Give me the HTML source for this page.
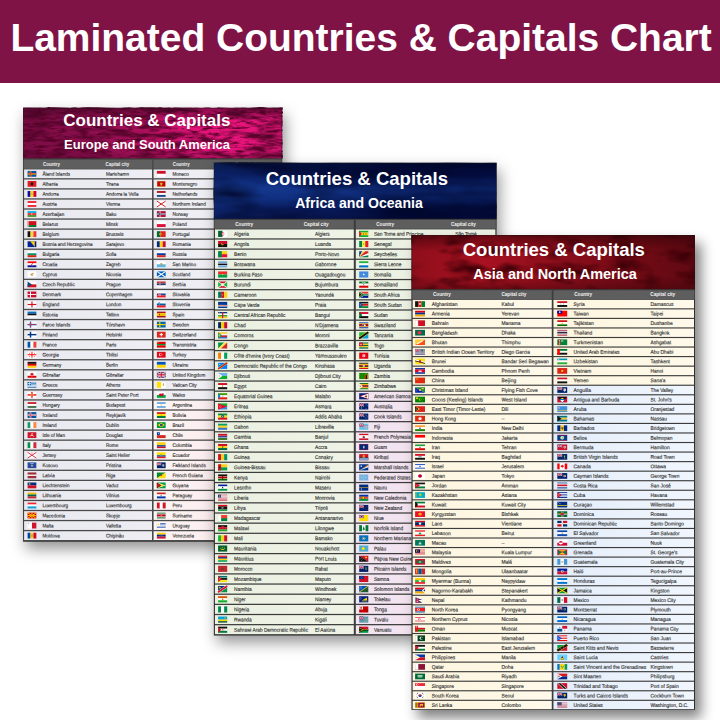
<!DOCTYPE html>
<html lang="en"><head><meta charset="utf-8"><title>Laminated Countries &amp; Capitals Chart</title>
<style>
html,body{margin:0;padding:0;background:#fff;}
body{width:720px;height:720px;position:relative;overflow:hidden;font-family:"Liberation Sans",sans-serif;}
#banner{position:absolute;left:0;top:0;width:720px;height:83px;background:#7f1346;}
#banner h1{position:absolute;margin:0;left:0;top:0;width:720px;height:83px;}
#banner svg{display:block}
.chart{position:absolute;overflow:visible;}
.chart svg{display:block;position:absolute;left:0;top:0;overflow:visible}
.ttl{font-family:"Liberation Sans",sans-serif;font-weight:bold;fill:#fff}
.hd{font-family:"Liberation Sans",sans-serif;font-weight:bold;fill:#f4f4f4}
.t{font-family:"Liberation Sans",sans-serif;fill:#303030;stroke:#303030;stroke-width:0.14}
</style></head><body>
<div id="banner"><h1><svg width="720" height="83" viewBox="0 0 720 83"><text class="ttl" x="10.4" y="50.7" font-size="39.4" textLength="701.3" lengthAdjust="spacingAndGlyphs">Laminated Countries &amp; Capitals Chart</text></svg></h1></div>
<div class="chart" id="c1" style="left:23px;top:107px;width:260px;height:435px">
<svg width="260" height="435" viewBox="0 0 260 435">
<defs>
<linearGradient id="g1" x1="0" y1="0" x2="1" y2="0"><stop offset="0" stop-color="#7a0c44"/><stop offset="0.3" stop-color="#900f50"/><stop offset="0.5" stop-color="#b81162"/><stop offset="0.68" stop-color="#e4147a"/><stop offset="0.86" stop-color="#e6147a"/><stop offset="1" stop-color="#cc116c"/></linearGradient><linearGradient id="g1v" x1="0" y1="0" x2="0" y2="1"><stop offset="0" stop-color="#3a0420" stop-opacity="0.55"/><stop offset="0.25" stop-color="#3a0420" stop-opacity="0"/><stop offset="0.8" stop-color="#3a0420" stop-opacity="0"/><stop offset="1" stop-color="#3a0420" stop-opacity="0.3"/></linearGradient><filter id="t1" x="0" y="0" width="100%" height="100%" color-interpolation-filters="sRGB"><feTurbulence type="fractalNoise" baseFrequency="0.035 0.16" numOctaves="3" seed="3" result="n"/><feColorMatrix type="matrix" values="0 0 0 0 0.33  0 0 0 0 0.02  0 0 0 0 0.17  0 0 0 3.0 -1.3"/></filter><filter id="t1b" x="0" y="0" width="100%" height="100%" color-interpolation-filters="sRGB"><feTurbulence type="fractalNoise" baseFrequency="0.09 0.32" numOctaves="3" seed="5" result="n"/><feColorMatrix type="matrix" values="0 0 0 0 0.33  0 0 0 0 0.0  0 0 0 0 0.15  0 0 0 3.0 -1.42"/></filter>
<linearGradient id="c1f0" x1="0" y1="0" x2="1" y2="0"><stop offset="0" stop-color="#e9e9f0"/><stop offset="1" stop-color="#ededf3"/></linearGradient>
<linearGradient id="c1f1" x1="0" y1="0" x2="1" y2="0"><stop offset="0" stop-color="#ececf2"/><stop offset="1" stop-color="#f2f2f6"/></linearGradient>
<linearGradient id="c1f2" x1="0" y1="0" x2="1" y2="0"><stop offset="0" stop-color="#fdf6f6"/><stop offset="1" stop-color="#f9e1e1"/></linearGradient>
<filter id="c1sh" filterUnits="userSpaceOnUse" x="-50" y="-50" width="359" height="533.7"><feGaussianBlur stdDeviation="7.5"/></filter>
</defs>
<g transform="translate(0.1,0.9)">
<rect x="3" y="7" width="259" height="433.7" fill="#000" fill-opacity="0.44" filter="url(#c1sh)"/>
<rect x="0" y="0" width="259" height="433.7" fill="#4a4a4a"/>
<g><rect width="259" height="50.8" fill="url(#g1)"/><rect width="259" height="50.8" filter="url(#t1)"/><rect width="259" height="50.8" filter="url(#t1b)"/><rect width="259" height="50.8" fill="url(#g1v)"/></g>
<text class="ttl" x="40.2" y="18.6" font-size="16.9" textLength="167.1" lengthAdjust="spacingAndGlyphs">Countries &amp; Capitals</text>
<text class="ttl" x="41" y="41.5" font-size="12.9" textLength="165.9" lengthAdjust="spacingAndGlyphs">Europe and South America</text>
<rect x="0" y="50.8" width="259" height="10.1" fill="#5f5f5f"/>
<rect x="0" y="50.6" width="259" height="0.9" fill="#333"/>
<rect x="128.9" y="51.4" width="1.6" height="10.1" fill="#4a4a4a"/>
<text class="hd" transform="translate(20,57.61) scale(0.9,1)" font-size="4.9">Country</text>
<text class="hd" transform="translate(82.5,57.61) scale(0.9,1)" font-size="4.9">Capital city</text>
<text class="hd" transform="translate(149.6,57.61) scale(0.9,1)" font-size="4.9">Country</text>
<text class="hd" transform="translate(212,57.61) scale(0.9,1)" font-size="4.9">Capital city</text>
<rect x="1" y="61.55" width="127.9" height="8.75" fill="url(#c1f0)"/>
<g transform="translate(4.5,63.03) scale(0.97,0.97)"><rect x="0" y="0" width="9" height="6" fill="#0053a5"/><rect x="2.25" y="0" width="1.5" height="6" fill="#ffce00"/><rect x="0" y="2.25" width="9" height="1.5" fill="#ffce00"/><rect x="2.65" y="0" width="0.7" height="6" fill="#d21034"/><rect x="0" y="2.65" width="9" height="0.7" fill="#d21034"/></g>
<text class="t" transform="translate(19.3,67.77) rotate(0.1) scale(0.89,1)" font-size="5.2">Åland Islands</text>
<text class="t" transform="translate(82.8,67.77) rotate(0.1) scale(0.89,1)" font-size="5.2">Mariehamn</text>
<rect x="1" y="71.6" width="127.9" height="8.75" fill="url(#c1f0)"/>
<g transform="translate(4.5,73.08) scale(0.97,0.97)"><rect x="0" y="0" width="9" height="6" fill="#e41e20"/><polygon points="4.5,1.2 6.4,2.2 5.4,3 6,4.2 4.5,5 3,4.2 3.6,3 2.6,2.2" fill="#1a1a1a"/></g>
<text class="t" transform="translate(19.3,77.82) rotate(0.1) scale(0.89,1)" font-size="5.2">Albania</text>
<text class="t" transform="translate(82.8,77.82) rotate(0.1) scale(0.89,1)" font-size="5.2">Tirana</text>
<rect x="1" y="81.65" width="127.9" height="8.75" fill="url(#c1f0)"/>
<g transform="translate(4.5,83.12) scale(0.97,0.97)"><rect x="0" y="0" width="3.02" height="6" fill="#10069f"/><rect x="3" y="0" width="3.02" height="6" fill="#fedd00"/><rect x="6" y="0" width="3.02" height="6" fill="#d50032"/><rect x="3.9" y="2.2" width="1.2" height="1.6" fill="#c7a256"/></g>
<text class="t" transform="translate(19.3,87.87) rotate(0.1) scale(0.89,1)" font-size="5.2">Andorra</text>
<text class="t" transform="translate(82.8,87.87) rotate(0.1) scale(0.89,1)" font-size="5.2">Andorra la Vella</text>
<rect x="1" y="91.7" width="127.9" height="8.75" fill="url(#c1f0)"/>
<g transform="translate(4.5,93.18) scale(0.97,0.97)"><rect x="0" y="0" width="9" height="2.02" fill="#ed2939"/><rect x="0" y="2" width="9" height="2.02" fill="#fff"/><rect x="0" y="4" width="9" height="2.02" fill="#ed2939"/></g>
<text class="t" transform="translate(19.3,97.92) rotate(0.1) scale(0.89,1)" font-size="5.2">Austria</text>
<text class="t" transform="translate(82.8,97.92) rotate(0.1) scale(0.89,1)" font-size="5.2">Vienna</text>
<rect x="1" y="101.75" width="127.9" height="8.75" fill="url(#c1f0)"/>
<g transform="translate(4.5,103.23) scale(0.97,0.97)"><rect x="0" y="0" width="9" height="2.02" fill="#00b5e2"/><rect x="0" y="2" width="9" height="2.02" fill="#ef3340"/><rect x="0" y="4" width="9" height="2.02" fill="#509e2f"/><circle cx="4.3" cy="3" r="0.8" fill="#fff"/><circle cx="4.64" cy="3" r="0.64" fill="#ef3340"/></g>
<text class="t" transform="translate(19.3,107.97) rotate(0.1) scale(0.89,1)" font-size="5.2">Azerbaijan</text>
<text class="t" transform="translate(82.8,107.97) rotate(0.1) scale(0.89,1)" font-size="5.2">Baku</text>
<rect x="1" y="111.8" width="127.9" height="8.75" fill="url(#c1f0)"/>
<g transform="translate(4.5,113.28) scale(0.97,0.97)"><rect x="0" y="0" width="9" height="4.02" fill="#cf101a"/><rect x="0" y="4" width="9" height="2.02" fill="#007c30"/><rect x="0" y="0" width="1.1" height="6" fill="#fff"/><rect x="0.3" y="0" width="0.4" height="6" fill="#cf101a"/></g>
<text class="t" transform="translate(19.3,118.02) rotate(0.1) scale(0.89,1)" font-size="5.2">Belarus</text>
<text class="t" transform="translate(82.8,118.02) rotate(0.1) scale(0.89,1)" font-size="5.2">Minsk</text>
<rect x="1" y="121.85" width="127.9" height="8.75" fill="url(#c1f0)"/>
<g transform="translate(4.5,123.33) scale(0.97,0.97)"><rect x="0" y="0" width="3.02" height="6" fill="#111"/><rect x="3" y="0" width="3.02" height="6" fill="#fdda24"/><rect x="6" y="0" width="3.02" height="6" fill="#ef3340"/></g>
<text class="t" transform="translate(19.3,128.07) rotate(0.1) scale(0.89,1)" font-size="5.2">Belgium</text>
<text class="t" transform="translate(82.8,128.07) rotate(0.1) scale(0.89,1)" font-size="5.2">Brussels</text>
<rect x="1" y="131.9" width="127.9" height="8.75" fill="url(#c1f0)"/>
<g transform="translate(4.5,133.38) scale(0.97,0.97)"><rect x="0" y="0" width="9" height="6" fill="#002395"/><polygon points="2.6,0 7.4,0 7.4,6" fill="#fecb00"/></g>
<text class="t" transform="translate(19.3,138.12) rotate(0.1) scale(0.89,1)" font-size="5.2">Bosnia and Herzegovina</text>
<text class="t" transform="translate(82.8,138.12) rotate(0.1) scale(0.89,1)" font-size="5.2">Sarajevo</text>
<rect x="1" y="141.95" width="127.9" height="8.75" fill="url(#c1f0)"/>
<g transform="translate(4.5,143.43) scale(0.97,0.97)"><rect x="0" y="0" width="9" height="2.02" fill="#fff"/><rect x="0" y="2" width="9" height="2.02" fill="#00966e"/><rect x="0" y="4" width="9" height="2.02" fill="#d62612"/></g>
<text class="t" transform="translate(19.3,148.17) rotate(0.1) scale(0.89,1)" font-size="5.2">Bulgaria</text>
<text class="t" transform="translate(82.8,148.17) rotate(0.1) scale(0.89,1)" font-size="5.2">Sofia</text>
<rect x="1" y="152" width="127.9" height="8.75" fill="url(#c1f0)"/>
<g transform="translate(4.5,153.48) scale(0.97,0.97)"><rect x="0" y="0" width="9" height="2.02" fill="#ff0000"/><rect x="0" y="2" width="9" height="2.02" fill="#fff"/><rect x="0" y="4" width="9" height="2.02" fill="#171796"/><rect x="3.7" y="1.6" width="1.6" height="2.4" fill="#e23"/><rect x="3.7" y="1.6" width="0.8" height="1.2" fill="#fff"/><rect x="4.5" y="2.8" width="0.8" height="1.2" fill="#fff"/></g>
<text class="t" transform="translate(19.3,158.22) rotate(0.1) scale(0.89,1)" font-size="5.2">Croatia</text>
<text class="t" transform="translate(82.8,158.22) rotate(0.1) scale(0.89,1)" font-size="5.2">Zagreb</text>
<rect x="1" y="162.05" width="127.9" height="8.75" fill="url(#c1f0)"/>
<g transform="translate(4.5,163.53) scale(0.97,0.97)"><rect x="0" y="0" width="9" height="6" fill="#fff"/><polygon points="2.6,2.6 4.6,2.2 6.6,1.4 5.6,2.8 4.6,3.4 3,3.3" fill="#d57800"/><rect x="3.4" y="4.1" width="2.2" height="0.4" fill="#4e5b31"/></g>
<text class="t" transform="translate(19.3,168.27) rotate(0.1) scale(0.89,1)" font-size="5.2">Cyprus</text>
<text class="t" transform="translate(82.8,168.27) rotate(0.1) scale(0.89,1)" font-size="5.2">Nicosia</text>
<rect x="1" y="172.1" width="127.9" height="8.75" fill="url(#c1f0)"/>
<g transform="translate(4.5,173.58) scale(0.97,0.97)"><rect x="0" y="0" width="9" height="3.02" fill="#fff"/><rect x="0" y="3" width="9" height="3.02" fill="#d7141a"/><polygon points="0,0 4.5,3 0,6" fill="#11457e"/></g>
<text class="t" transform="translate(19.3,178.32) rotate(0.1) scale(0.89,1)" font-size="5.2">Czech Republic</text>
<text class="t" transform="translate(82.8,178.32) rotate(0.1) scale(0.89,1)" font-size="5.2">Prague</text>
<rect x="1" y="182.15" width="127.9" height="8.75" fill="url(#c1f0)"/>
<g transform="translate(4.5,183.62) scale(0.97,0.97)"><rect x="0" y="0" width="9" height="6" fill="#c8102e"/><rect x="2.5" y="0" width="1" height="6" fill="#fff"/><rect x="0" y="2.5" width="9" height="1" fill="#fff"/></g>
<text class="t" transform="translate(19.3,188.37) rotate(0.1) scale(0.89,1)" font-size="5.2">Denmark</text>
<text class="t" transform="translate(82.8,188.37) rotate(0.1) scale(0.89,1)" font-size="5.2">Copenhagen</text>
<rect x="1" y="192.2" width="127.9" height="8.75" fill="url(#c1f0)"/>
<g transform="translate(4.5,193.68) scale(0.97,0.97)"><rect x="0" y="0" width="9" height="6" fill="#fff"/><rect x="3.9" y="0" width="1.2" height="6" fill="#ce1124"/><rect x="0" y="2.4" width="9" height="1.2" fill="#ce1124"/></g>
<text class="t" transform="translate(19.3,198.42) rotate(0.1) scale(0.89,1)" font-size="5.2">England</text>
<text class="t" transform="translate(82.8,198.42) rotate(0.1) scale(0.89,1)" font-size="5.2">London</text>
<rect x="1" y="202.25" width="127.9" height="8.75" fill="url(#c1f0)"/>
<g transform="translate(4.5,203.73) scale(0.97,0.97)"><rect x="0" y="0" width="9" height="2.02" fill="#0072ce"/><rect x="0" y="2" width="9" height="2.02" fill="#111"/><rect x="0" y="4" width="9" height="2.02" fill="#fff"/></g>
<text class="t" transform="translate(19.3,208.47) rotate(0.1) scale(0.89,1)" font-size="5.2">Estonia</text>
<text class="t" transform="translate(82.8,208.47) rotate(0.1) scale(0.89,1)" font-size="5.2">Tallinn</text>
<rect x="1" y="212.3" width="127.9" height="8.75" fill="url(#c1f0)"/>
<g transform="translate(4.5,213.78) scale(0.97,0.97)"><rect x="0" y="0" width="9" height="6" fill="#fff"/><rect x="2.25" y="0" width="1.5" height="6" fill="#0065bd"/><rect x="0" y="2.25" width="9" height="1.5" fill="#0065bd"/><rect x="2.65" y="0" width="0.7" height="6" fill="#ed2939"/><rect x="0" y="2.65" width="9" height="0.7" fill="#ed2939"/></g>
<text class="t" transform="translate(19.3,218.52) rotate(0.1) scale(0.89,1)" font-size="5.2">Faroe Islands</text>
<text class="t" transform="translate(82.8,218.52) rotate(0.1) scale(0.89,1)" font-size="5.2">Tórshavn</text>
<rect x="1" y="222.35" width="127.9" height="8.75" fill="url(#c1f0)"/>
<g transform="translate(4.5,223.83) scale(0.97,0.97)"><rect x="0" y="0" width="9" height="6" fill="#fff"/><rect x="2.25" y="0" width="1.5" height="6" fill="#003580"/><rect x="0" y="2.25" width="9" height="1.5" fill="#003580"/></g>
<text class="t" transform="translate(19.3,228.57) rotate(0.1) scale(0.89,1)" font-size="5.2">Finland</text>
<text class="t" transform="translate(82.8,228.57) rotate(0.1) scale(0.89,1)" font-size="5.2">Helsinki</text>
<rect x="1" y="232.4" width="127.9" height="8.75" fill="url(#c1f0)"/>
<g transform="translate(4.5,233.88) scale(0.97,0.97)"><rect x="0" y="0" width="3.02" height="6" fill="#0055a4"/><rect x="3" y="0" width="3.02" height="6" fill="#fff"/><rect x="6" y="0" width="3.02" height="6" fill="#ef4135"/></g>
<text class="t" transform="translate(19.3,238.62) rotate(0.1) scale(0.89,1)" font-size="5.2">France</text>
<text class="t" transform="translate(82.8,238.62) rotate(0.1) scale(0.89,1)" font-size="5.2">Paris</text>
<rect x="1" y="242.45" width="127.9" height="8.75" fill="url(#c1f0)"/>
<g transform="translate(4.5,243.93) scale(0.97,0.97)"><rect x="0" y="0" width="9" height="6" fill="#fff"/><rect x="4" y="0" width="1" height="6" fill="#ff0000"/><rect x="0" y="2.5" width="9" height="1" fill="#ff0000"/><rect x="1.7" y="1" width="0.8" height="0.8" fill="#f00"/><rect x="6.5" y="1" width="0.8" height="0.8" fill="#f00"/><rect x="1.7" y="4.2" width="0.8" height="0.8" fill="#f00"/><rect x="6.5" y="4.2" width="0.8" height="0.8" fill="#f00"/></g>
<text class="t" transform="translate(19.3,248.67) rotate(0.1) scale(0.89,1)" font-size="5.2">Georgia</text>
<text class="t" transform="translate(82.8,248.67) rotate(0.1) scale(0.89,1)" font-size="5.2">Tbilisi</text>
<rect x="1" y="252.5" width="127.9" height="8.75" fill="url(#c1f0)"/>
<g transform="translate(4.5,253.98) scale(0.97,0.97)"><rect x="0" y="0" width="9" height="2.02" fill="#111"/><rect x="0" y="2" width="9" height="2.02" fill="#dd0000"/><rect x="0" y="4" width="9" height="2.02" fill="#ffce00"/></g>
<text class="t" transform="translate(19.3,258.72) rotate(0.1) scale(0.89,1)" font-size="5.2">Germany</text>
<text class="t" transform="translate(82.8,258.72) rotate(0.1) scale(0.89,1)" font-size="5.2">Berlin</text>
<rect x="1" y="262.55" width="127.9" height="8.75" fill="url(#c1f0)"/>
<g transform="translate(4.5,264.02) scale(0.97,0.97)"><rect x="0" y="0" width="9" height="4.02" fill="#fff"/><rect x="0" y="4" width="9" height="2.02" fill="#da000c"/><rect x="3" y="1.4" width="3" height="2.2" fill="#da000c"/><rect x="4.2" y="0.8" width="0.6" height="1" fill="#da000c"/><rect x="4.3" y="4.2" width="0.4" height="1.2" fill="#f8d80e"/></g>
<text class="t" transform="translate(19.3,268.77) rotate(0.1) scale(0.89,1)" font-size="5.2">Gibraltar</text>
<text class="t" transform="translate(82.8,268.77) rotate(0.1) scale(0.89,1)" font-size="5.2">Gibraltar</text>
<rect x="1" y="272.6" width="127.9" height="8.75" fill="url(#c1f0)"/>
<g transform="translate(4.5,274.08) scale(0.97,0.97)"><rect x="0" y="0" width="9" height="0.69" fill="#0d5eaf"/><rect x="0" y="0.67" width="9" height="0.69" fill="#fff"/><rect x="0" y="1.33" width="9" height="0.69" fill="#0d5eaf"/><rect x="0" y="2" width="9" height="0.69" fill="#fff"/><rect x="0" y="2.67" width="9" height="0.69" fill="#0d5eaf"/><rect x="0" y="3.33" width="9" height="0.69" fill="#fff"/><rect x="0" y="4" width="9" height="0.69" fill="#0d5eaf"/><rect x="0" y="4.67" width="9" height="0.69" fill="#fff"/><rect x="0" y="5.33" width="9" height="0.69" fill="#0d5eaf"/><rect x="0" y="0" width="3.4" height="3.34" fill="#0d5eaf"/><rect x="1.35" y="0" width="0.7" height="3.34" fill="#fff"/><rect x="0" y="1.33" width="3.4" height="0.67" fill="#fff"/></g>
<text class="t" transform="translate(19.3,278.82) rotate(0.1) scale(0.89,1)" font-size="5.2">Greece</text>
<text class="t" transform="translate(82.8,278.82) rotate(0.1) scale(0.89,1)" font-size="5.2">Athens</text>
<rect x="1" y="282.65" width="127.9" height="8.75" fill="url(#c1f0)"/>
<g transform="translate(4.5,284.12) scale(0.97,0.97)"><rect x="0" y="0" width="9" height="6" fill="#fff"/><rect x="3.75" y="0" width="1.5" height="6" fill="#e8112d"/><rect x="0" y="2.25" width="9" height="1.5" fill="#e8112d"/><rect x="4.25" y="0.8" width="0.5" height="4.4" fill="#f9dd16"/><rect x="2.2" y="2.75" width="4.6" height="0.5" fill="#f9dd16"/></g>
<text class="t" transform="translate(19.3,288.87) rotate(0.1) scale(0.89,1)" font-size="5.2">Guernsey</text>
<text class="t" transform="translate(82.8,288.87) rotate(0.1) scale(0.89,1)" font-size="5.2">Saint Peter Port</text>
<rect x="1" y="292.7" width="127.9" height="8.75" fill="url(#c1f0)"/>
<g transform="translate(4.5,294.18) scale(0.97,0.97)"><rect x="0" y="0" width="9" height="2.02" fill="#ce2939"/><rect x="0" y="2" width="9" height="2.02" fill="#fff"/><rect x="0" y="4" width="9" height="2.02" fill="#477050"/></g>
<text class="t" transform="translate(19.3,298.92) rotate(0.1) scale(0.89,1)" font-size="5.2">Hungary</text>
<text class="t" transform="translate(82.8,298.92) rotate(0.1) scale(0.89,1)" font-size="5.2">Budapest</text>
<rect x="1" y="302.75" width="127.9" height="8.75" fill="url(#c1f0)"/>
<g transform="translate(4.5,304.23) scale(0.97,0.97)"><rect x="0" y="0" width="9" height="6" fill="#02529c"/><rect x="2.25" y="0" width="1.5" height="6" fill="#fff"/><rect x="0" y="2.25" width="9" height="1.5" fill="#fff"/><rect x="2.65" y="0" width="0.7" height="6" fill="#dc1e35"/><rect x="0" y="2.65" width="9" height="0.7" fill="#dc1e35"/></g>
<text class="t" transform="translate(19.3,308.97) rotate(0.1) scale(0.89,1)" font-size="5.2">Iceland</text>
<text class="t" transform="translate(82.8,308.97) rotate(0.1) scale(0.89,1)" font-size="5.2">Reykjavík</text>
<rect x="1" y="312.8" width="127.9" height="8.75" fill="url(#c1f0)"/>
<g transform="translate(4.5,314.28) scale(0.97,0.97)"><rect x="0" y="0" width="3.02" height="6" fill="#169b62"/><rect x="3" y="0" width="3.02" height="6" fill="#fff"/><rect x="6" y="0" width="3.02" height="6" fill="#ff883e"/></g>
<text class="t" transform="translate(19.3,319.02) rotate(0.1) scale(0.89,1)" font-size="5.2">Ireland</text>
<text class="t" transform="translate(82.8,319.02) rotate(0.1) scale(0.89,1)" font-size="5.2">Dublin</text>
<rect x="1" y="322.85" width="127.9" height="8.75" fill="url(#c1f0)"/>
<g transform="translate(4.5,324.33) scale(0.97,0.97)"><rect x="0" y="0" width="9" height="6" fill="#cf142b"/><line x1="4.5" y1="3" x2="4.5" y2="1.2" stroke="#fff" stroke-width="0.8"/><line x1="4.5" y1="3" x2="6.2" y2="4" stroke="#fff" stroke-width="0.8"/><line x1="4.5" y1="3" x2="2.8" y2="4" stroke="#fff" stroke-width="0.8"/><line x1="4.5" y1="1.2" x2="5.5" y2="1.4" stroke="#f9dd16" stroke-width="0.5"/><line x1="6.2" y1="4" x2="5.6" y2="4.8" stroke="#f9dd16" stroke-width="0.5"/><line x1="2.8" y1="4" x2="2.5" y2="3.1" stroke="#f9dd16" stroke-width="0.5"/></g>
<text class="t" transform="translate(19.3,329.07) rotate(0.1) scale(0.89,1)" font-size="5.2">Isle of Man</text>
<text class="t" transform="translate(82.8,329.07) rotate(0.1) scale(0.89,1)" font-size="5.2">Douglas</text>
<rect x="1" y="332.9" width="127.9" height="8.75" fill="url(#c1f0)"/>
<g transform="translate(4.5,334.38) scale(0.97,0.97)"><rect x="0" y="0" width="3.02" height="6" fill="#009246"/><rect x="3" y="0" width="3.02" height="6" fill="#fff"/><rect x="6" y="0" width="3.02" height="6" fill="#ce2b37"/></g>
<text class="t" transform="translate(19.3,339.12) rotate(0.1) scale(0.89,1)" font-size="5.2">Italy</text>
<text class="t" transform="translate(82.8,339.12) rotate(0.1) scale(0.89,1)" font-size="5.2">Rome</text>
<rect x="1" y="342.95" width="127.9" height="8.75" fill="url(#c1f0)"/>
<g transform="translate(4.5,344.43) scale(0.97,0.97)"><rect x="0" y="0" width="9" height="6" fill="#fff"/><line x1="0" y1="0" x2="9" y2="6" stroke="#df112d" stroke-width="0.9"/><line x1="0" y1="6" x2="9" y2="0" stroke="#df112d" stroke-width="0.9"/><rect x="4.1" y="0.3" width="0.8" height="1.1" fill="#df112d"/></g>
<text class="t" transform="translate(19.3,349.17) rotate(0.1) scale(0.89,1)" font-size="5.2">Jersey</text>
<text class="t" transform="translate(82.8,349.17) rotate(0.1) scale(0.89,1)" font-size="5.2">Saint Helier</text>
<rect x="1" y="353" width="127.9" height="8.75" fill="url(#c1f0)"/>
<g transform="translate(4.5,354.48) scale(0.97,0.97)"><rect x="0" y="0" width="9" height="6" fill="#244aa5"/><polygon points="3.4,2.8 4.6,2.3 5.7,3 5.2,4.4 4.2,4.6 3.6,3.8" fill="#d0a650"/><rect x="2.6" y="1.2" width="3.8" height="0.45" fill="#fff"/></g>
<text class="t" transform="translate(19.3,359.22) rotate(0.1) scale(0.89,1)" font-size="5.2">Kosovo</text>
<text class="t" transform="translate(82.8,359.22) rotate(0.1) scale(0.89,1)" font-size="5.2">Pristina</text>
<rect x="1" y="363.05" width="127.9" height="8.75" fill="url(#c1f0)"/>
<g transform="translate(4.5,364.52) scale(0.97,0.97)"><rect x="0" y="0" width="9" height="2.42" fill="#9e3039"/><rect x="0" y="2.4" width="9" height="1.22" fill="#fff"/><rect x="0" y="3.6" width="9" height="2.42" fill="#9e3039"/></g>
<text class="t" transform="translate(19.3,369.27) rotate(0.1) scale(0.89,1)" font-size="5.2">Latvia</text>
<text class="t" transform="translate(82.8,369.27) rotate(0.1) scale(0.89,1)" font-size="5.2">Riga</text>
<rect x="1" y="373.1" width="127.9" height="8.75" fill="url(#c1f0)"/>
<g transform="translate(4.5,374.58) scale(0.97,0.97)"><rect x="0" y="0" width="9" height="3.02" fill="#002b7f"/><rect x="0" y="3" width="9" height="3.02" fill="#ce1126"/><rect x="1.3" y="0.9" width="1.6" height="1.2" fill="#ffd83d"/></g>
<text class="t" transform="translate(19.3,379.32) rotate(0.1) scale(0.89,1)" font-size="5.2">Liechtenstein</text>
<text class="t" transform="translate(82.8,379.32) rotate(0.1) scale(0.89,1)" font-size="5.2">Vaduz</text>
<rect x="1" y="383.15" width="127.9" height="8.75" fill="url(#c1f0)"/>
<g transform="translate(4.5,384.62) scale(0.97,0.97)"><rect x="0" y="0" width="9" height="2.02" fill="#fdb913"/><rect x="0" y="2" width="9" height="2.02" fill="#006a44"/><rect x="0" y="4" width="9" height="2.02" fill="#c1272d"/></g>
<text class="t" transform="translate(19.3,389.37) rotate(0.1) scale(0.89,1)" font-size="5.2">Lithuania</text>
<text class="t" transform="translate(82.8,389.37) rotate(0.1) scale(0.89,1)" font-size="5.2">Vilnius</text>
<rect x="1" y="393.2" width="127.9" height="8.75" fill="url(#c1f0)"/>
<g transform="translate(4.5,394.68) scale(0.97,0.97)"><rect x="0" y="0" width="9" height="2.02" fill="#ed2939"/><rect x="0" y="2" width="9" height="2.02" fill="#fff"/><rect x="0" y="4" width="9" height="2.02" fill="#00a1de"/></g>
<text class="t" transform="translate(19.3,399.42) rotate(0.1) scale(0.89,1)" font-size="5.2">Luxembourg</text>
<text class="t" transform="translate(82.8,399.42) rotate(0.1) scale(0.89,1)" font-size="5.2">Luxembourg</text>
<rect x="1" y="403.25" width="127.9" height="8.75" fill="url(#c1f0)"/>
<g transform="translate(4.5,404.73) scale(0.97,0.97)"><rect x="0" y="0" width="9" height="6" fill="#d20000"/><line x1="0" y1="0" x2="9" y2="6" stroke="#ffe600" stroke-width="0.9"/><line x1="0" y1="6" x2="9" y2="0" stroke="#ffe600" stroke-width="0.9"/><line x1="4.5" y1="0" x2="4.5" y2="6" stroke="#ffe600" stroke-width="1"/><line x1="0" y1="3" x2="9" y2="3" stroke="#ffe600" stroke-width="0.9"/><circle cx="4.5" cy="3" r="1.25" fill="#d20000"/><circle cx="4.5" cy="3" r="0.95" fill="#ffe600"/></g>
<text class="t" transform="translate(19.3,409.47) rotate(0.1) scale(0.89,1)" font-size="5.2">Macedonia</text>
<text class="t" transform="translate(82.8,409.47) rotate(0.1) scale(0.89,1)" font-size="5.2">Skopje</text>
<rect x="1" y="413.3" width="127.9" height="8.75" fill="url(#c1f0)"/>
<g transform="translate(4.5,414.77) scale(0.97,0.97)"><rect x="0" y="0" width="4.52" height="6" fill="#fff"/><rect x="4.5" y="0" width="4.52" height="6" fill="#cf142b"/><rect x="0.5" y="0.5" width="1" height="1" fill="#a0a0a0"/></g>
<text class="t" transform="translate(19.3,419.52) rotate(0.1) scale(0.89,1)" font-size="5.2">Malta</text>
<text class="t" transform="translate(82.8,419.52) rotate(0.1) scale(0.89,1)" font-size="5.2">Valletta</text>
<rect x="1" y="423.35" width="127.9" height="8.75" fill="url(#c1f0)"/>
<g transform="translate(4.5,424.83) scale(0.97,0.97)"><rect x="0" y="0" width="3.02" height="6" fill="#0046ae"/><rect x="3" y="0" width="3.02" height="6" fill="#ffd200"/><rect x="6" y="0" width="3.02" height="6" fill="#cc092f"/><rect x="3.9" y="1.9" width="1.2" height="2.2" fill="#b07e5b"/></g>
<text class="t" transform="translate(19.3,429.57) rotate(0.1) scale(0.89,1)" font-size="5.2">Moldova</text>
<text class="t" transform="translate(82.8,429.57) rotate(0.1) scale(0.89,1)" font-size="5.2">Chişinău</text>
<rect x="130.5" y="61.55" width="127.5" height="8.75" fill="url(#c1f1)"/>
<g transform="translate(133.8,63.03) scale(0.97,0.97)"><rect x="0" y="0" width="9" height="3.02" fill="#ce1126"/><rect x="0" y="3" width="9" height="3.02" fill="#fff"/></g>
<text class="t" transform="translate(149.3,67.77) rotate(0.1) scale(0.89,1)" font-size="5.2">Monaco</text>
<text class="t" transform="translate(212.6,67.77) rotate(0.1) scale(0.89,1)" font-size="5.2">Monaco</text>
<rect x="130.5" y="71.6" width="127.5" height="8.75" fill="url(#c1f1)"/>
<g transform="translate(133.8,73.08) scale(0.97,0.97)"><rect x="0" y="0" width="9" height="6" fill="#d4af3a"/><rect x="0.45" y="0.45" width="8.1" height="5.1" fill="#c40308"/><polygon points="4.5,1.5 6.2,2.3 5.4,3.2 5.6,4.4 4.5,4.8 3.4,4.4 3.6,3.2 2.8,2.3" fill="#d4af3a"/></g>
<text class="t" transform="translate(149.3,77.82) rotate(0.1) scale(0.89,1)" font-size="5.2">Montenegro</text>
<text class="t" transform="translate(212.6,77.82) rotate(0.1) scale(0.89,1)" font-size="5.2">Podgorica</text>
<rect x="130.5" y="81.65" width="127.5" height="8.75" fill="url(#c1f1)"/>
<g transform="translate(133.8,83.12) scale(0.97,0.97)"><rect x="0" y="0" width="9" height="2.02" fill="#ae1c28"/><rect x="0" y="2" width="9" height="2.02" fill="#fff"/><rect x="0" y="4" width="9" height="2.02" fill="#21468b"/></g>
<text class="t" transform="translate(149.3,87.87) rotate(0.1) scale(0.89,1)" font-size="5.2">Netherlands</text>
<text class="t" transform="translate(212.6,87.87) rotate(0.1) scale(0.89,1)" font-size="5.2">Amsterdam</text>
<rect x="130.5" y="91.7" width="127.5" height="8.75" fill="url(#c1f1)"/>
<g transform="translate(133.8,93.18) scale(0.97,0.97)"><rect x="0" y="0" width="9" height="6" fill="#fff"/><line x1="0" y1="0" x2="9" y2="6" stroke="#cc0000" stroke-width="0.9"/><line x1="0" y1="6" x2="9" y2="0" stroke="#cc0000" stroke-width="0.9"/></g>
<text class="t" transform="translate(149.3,97.92) rotate(0.1) scale(0.89,1)" font-size="5.2">Northern Ireland</text>
<text class="t" transform="translate(212.6,97.92) rotate(0.1) scale(0.89,1)" font-size="5.2">Belfast</text>
<rect x="130.5" y="101.75" width="127.5" height="8.75" fill="url(#c1f1)"/>
<g transform="translate(133.8,103.23) scale(0.97,0.97)"><rect x="0" y="0" width="9" height="6" fill="#ba0c2f"/><rect x="2.25" y="0" width="1.5" height="6" fill="#fff"/><rect x="0" y="2.25" width="9" height="1.5" fill="#fff"/><rect x="2.65" y="0" width="0.7" height="6" fill="#00205b"/><rect x="0" y="2.65" width="9" height="0.7" fill="#00205b"/></g>
<text class="t" transform="translate(149.3,107.97) rotate(0.1) scale(0.89,1)" font-size="5.2">Norway</text>
<text class="t" transform="translate(212.6,107.97) rotate(0.1) scale(0.89,1)" font-size="5.2">Oslo</text>
<rect x="130.5" y="111.8" width="127.5" height="8.75" fill="url(#c1f1)"/>
<g transform="translate(133.8,113.28) scale(0.97,0.97)"><rect x="0" y="0" width="9" height="3.02" fill="#fff"/><rect x="0" y="3" width="9" height="3.02" fill="#dc143c"/></g>
<text class="t" transform="translate(149.3,118.02) rotate(0.1) scale(0.89,1)" font-size="5.2">Poland</text>
<text class="t" transform="translate(212.6,118.02) rotate(0.1) scale(0.89,1)" font-size="5.2">Warsaw</text>
<rect x="130.5" y="121.85" width="127.5" height="8.75" fill="url(#c1f1)"/>
<g transform="translate(133.8,123.33) scale(0.97,0.97)"><rect x="0" y="0" width="3.62" height="6" fill="#046a38"/><rect x="3.6" y="0" width="5.42" height="6" fill="#da291c"/><circle cx="3.6" cy="3" r="1.15" fill="#ffe900"/><circle cx="3.6" cy="3" r="0.6" fill="#da291c"/></g>
<text class="t" transform="translate(149.3,128.07) rotate(0.1) scale(0.89,1)" font-size="5.2">Portugal</text>
<text class="t" transform="translate(212.6,128.07) rotate(0.1) scale(0.89,1)" font-size="5.2">Lisbon</text>
<rect x="130.5" y="131.9" width="127.5" height="8.75" fill="url(#c1f1)"/>
<g transform="translate(133.8,133.38) scale(0.97,0.97)"><rect x="0" y="0" width="3.02" height="6" fill="#002b7f"/><rect x="3" y="0" width="3.02" height="6" fill="#fcd116"/><rect x="6" y="0" width="3.02" height="6" fill="#ce1126"/></g>
<text class="t" transform="translate(149.3,138.12) rotate(0.1) scale(0.89,1)" font-size="5.2">Romania</text>
<text class="t" transform="translate(212.6,138.12) rotate(0.1) scale(0.89,1)" font-size="5.2">Bucharest</text>
<rect x="130.5" y="141.95" width="127.5" height="8.75" fill="url(#c1f1)"/>
<g transform="translate(133.8,143.43) scale(0.97,0.97)"><rect x="0" y="0" width="9" height="2.02" fill="#fff"/><rect x="0" y="2" width="9" height="2.02" fill="#0039a6"/><rect x="0" y="4" width="9" height="2.02" fill="#d52b1e"/></g>
<text class="t" transform="translate(149.3,148.17) rotate(0.1) scale(0.89,1)" font-size="5.2">Russia</text>
<text class="t" transform="translate(212.6,148.17) rotate(0.1) scale(0.89,1)" font-size="5.2">Moscow</text>
<rect x="130.5" y="152" width="127.5" height="8.75" fill="url(#c1f1)"/>
<g transform="translate(133.8,153.48) scale(0.97,0.97)"><rect x="0" y="0" width="9" height="3.02" fill="#fff"/><rect x="0" y="3" width="9" height="3.02" fill="#5eb6e4"/><circle cx="4.5" cy="3" r="1.25" fill="#c9a23f"/><circle cx="4.5" cy="3" r="0.75" fill="#7fb4d8"/></g>
<text class="t" transform="translate(149.3,158.22) rotate(0.1) scale(0.89,1)" font-size="5.2">San Marino</text>
<text class="t" transform="translate(212.6,158.22) rotate(0.1) scale(0.89,1)" font-size="5.2">San Marino</text>
<rect x="130.5" y="162.05" width="127.5" height="8.75" fill="url(#c1f1)"/>
<g transform="translate(133.8,163.53) scale(0.97,0.97)"><rect x="0" y="0" width="9" height="6" fill="#005eb8"/><line x1="0" y1="0" x2="9" y2="6" stroke="#fff" stroke-width="1.1"/><line x1="0" y1="6" x2="9" y2="0" stroke="#fff" stroke-width="1.1"/></g>
<text class="t" transform="translate(149.3,168.27) rotate(0.1) scale(0.89,1)" font-size="5.2">Scotland</text>
<text class="t" transform="translate(212.6,168.27) rotate(0.1) scale(0.89,1)" font-size="5.2">Edinburgh</text>
<rect x="130.5" y="172.1" width="127.5" height="8.75" fill="url(#c1f1)"/>
<g transform="translate(133.8,173.58) scale(0.97,0.97)"><rect x="0" y="0" width="9" height="2.02" fill="#c6363c"/><rect x="0" y="2" width="9" height="2.02" fill="#0c4076"/><rect x="0" y="4" width="9" height="2.02" fill="#fff"/><rect x="2.4" y="1.3" width="1.5" height="2.6" fill="#c6363c"/><rect x="2.75" y="1.9" width="0.8" height="1.4" fill="#fff"/><rect x="2.6" y="0.8" width="1.1" height="0.6" fill="#edb92e"/></g>
<text class="t" transform="translate(149.3,178.32) rotate(0.1) scale(0.89,1)" font-size="5.2">Serbia</text>
<text class="t" transform="translate(212.6,178.32) rotate(0.1) scale(0.89,1)" font-size="5.2">Belgrade</text>
<rect x="130.5" y="182.15" width="127.5" height="8.75" fill="url(#c1f1)"/>
<g transform="translate(133.8,183.62) scale(0.97,0.97)"><rect x="0" y="0" width="9" height="2.02" fill="#fff"/><rect x="0" y="2" width="9" height="2.02" fill="#0b4ea2"/><rect x="0" y="4" width="9" height="2.02" fill="#ee1c25"/><polygon points="1.7,1.3 4.1,1.3 4.1,3.6 2.9,4.8 1.7,3.6" fill="#fff"/><polygon points="2,1.6 3.8,1.6 3.8,3.5 2.9,4.4 2,3.5" fill="#ee1c25"/><rect x="2.75" y="1.8" width="0.3" height="1.9" fill="#fff"/><rect x="2.3" y="2.4" width="1.2" height="0.3" fill="#fff"/></g>
<text class="t" transform="translate(149.3,188.37) rotate(0.1) scale(0.89,1)" font-size="5.2">Slovakia</text>
<text class="t" transform="translate(212.6,188.37) rotate(0.1) scale(0.89,1)" font-size="5.2">Bratislava</text>
<rect x="130.5" y="192.2" width="127.5" height="8.75" fill="url(#c1f1)"/>
<g transform="translate(133.8,193.68) scale(0.97,0.97)"><rect x="0" y="0" width="9" height="2.02" fill="#fff"/><rect x="0" y="2" width="9" height="2.02" fill="#005da4"/><rect x="0" y="4" width="9" height="2.02" fill="#ed1c24"/><polygon points="1.5,0.9 3.3,0.9 3.3,2.4 2.4,3.3 1.5,2.4" fill="#005da4"/><polygon points="1.7,2.4 2.4,1.6 3.1,2.4 2.4,3" fill="#fff"/></g>
<text class="t" transform="translate(149.3,198.42) rotate(0.1) scale(0.89,1)" font-size="5.2">Slovenia</text>
<text class="t" transform="translate(212.6,198.42) rotate(0.1) scale(0.89,1)" font-size="5.2">Ljubljana</text>
<rect x="130.5" y="202.25" width="127.5" height="8.75" fill="url(#c1f1)"/>
<g transform="translate(133.8,203.73) scale(0.97,0.97)"><rect x="0" y="0" width="9" height="1.52" fill="#aa151b"/><rect x="0" y="1.5" width="9" height="3.02" fill="#f1bf00"/><rect x="0" y="4.5" width="9" height="1.52" fill="#aa151b"/><rect x="2.2" y="2.2" width="1" height="1.5" fill="#ad1519"/></g>
<text class="t" transform="translate(149.3,208.47) rotate(0.1) scale(0.89,1)" font-size="5.2">Spain</text>
<text class="t" transform="translate(212.6,208.47) rotate(0.1) scale(0.89,1)" font-size="5.2">Madrid</text>
<rect x="130.5" y="212.3" width="127.5" height="8.75" fill="url(#c1f1)"/>
<g transform="translate(133.8,213.78) scale(0.97,0.97)"><rect x="0" y="0" width="9" height="6" fill="#006aa7"/><rect x="2.4" y="0" width="1.2" height="6" fill="#fecc00"/><rect x="0" y="2.4" width="9" height="1.2" fill="#fecc00"/></g>
<text class="t" transform="translate(149.3,218.52) rotate(0.1) scale(0.89,1)" font-size="5.2">Sweden</text>
<text class="t" transform="translate(212.6,218.52) rotate(0.1) scale(0.89,1)" font-size="5.2">Stockholm</text>
<rect x="130.5" y="222.35" width="127.5" height="8.75" fill="url(#c1f1)"/>
<g transform="translate(133.8,223.83) scale(0.97,0.97)"><rect x="0" y="0" width="9" height="6" fill="#da291c"/><rect x="4" y="1.2" width="1" height="3.6" fill="#fff"/><rect x="2.7" y="2.5" width="3.6" height="1" fill="#fff"/></g>
<text class="t" transform="translate(149.3,228.57) rotate(0.1) scale(0.89,1)" font-size="5.2">Switzerland</text>
<text class="t" transform="translate(212.6,228.57) rotate(0.1) scale(0.89,1)" font-size="5.2">Bern</text>
<rect x="130.5" y="232.4" width="127.5" height="8.75" fill="url(#c1f1)"/>
<g transform="translate(133.8,233.88) scale(0.97,0.97)"><rect x="0" y="0" width="9" height="2.27" fill="#de0000"/><rect x="0" y="2.25" width="9" height="1.52" fill="#009933"/><rect x="0" y="3.75" width="9" height="2.27" fill="#de0000"/><rect x="0.5" y="0.4" width="1" height="1" fill="#ffd700"/></g>
<text class="t" transform="translate(149.3,238.62) rotate(0.1) scale(0.89,1)" font-size="5.2">Transnistria</text>
<text class="t" transform="translate(212.6,238.62) rotate(0.1) scale(0.89,1)" font-size="5.2">Tiraspol</text>
<rect x="130.5" y="242.45" width="127.5" height="8.75" fill="url(#c1f1)"/>
<g transform="translate(133.8,243.93) scale(0.97,0.97)"><rect x="0" y="0" width="9" height="6" fill="#e30a17"/><circle cx="3.6" cy="3" r="1.45" fill="#fff"/><circle cx="4.12" cy="3" r="1.16" fill="#e30a17"/><polygon points="5.3,2.3 5.47,2.76 5.97,2.78 5.58,3.09 5.71,3.57 5.3,3.29 4.89,3.57 5.02,3.09 4.63,2.78 5.13,2.76" fill="#fff"/></g>
<text class="t" transform="translate(149.3,248.67) rotate(0.1) scale(0.89,1)" font-size="5.2">Turkey</text>
<text class="t" transform="translate(212.6,248.67) rotate(0.1) scale(0.89,1)" font-size="5.2">Ankara</text>
<rect x="130.5" y="252.5" width="127.5" height="8.75" fill="url(#c1f1)"/>
<g transform="translate(133.8,253.98) scale(0.97,0.97)"><rect x="0" y="0" width="9" height="3.02" fill="#0057b7"/><rect x="0" y="3" width="9" height="3.02" fill="#ffd700"/></g>
<text class="t" transform="translate(149.3,258.72) rotate(0.1) scale(0.89,1)" font-size="5.2">Ukraine</text>
<text class="t" transform="translate(212.6,258.72) rotate(0.1) scale(0.89,1)" font-size="5.2">Kiev</text>
<rect x="130.5" y="262.55" width="127.5" height="8.75" fill="url(#c1f1)"/>
<g transform="translate(133.8,264.02) scale(0.97,0.97)"><rect x="0" y="0" width="9" height="6" fill="#012169"/><line x1="0" y1="0" x2="9" y2="6" stroke="#fff" stroke-width="1.2"/><line x1="0" y1="6" x2="9" y2="0" stroke="#fff" stroke-width="1.2"/><line x1="0" y1="0" x2="9" y2="6" stroke="#c8102e" stroke-width="0.45"/><line x1="0" y1="6" x2="9" y2="0" stroke="#c8102e" stroke-width="0.45"/><rect x="3.5" y="0" width="2" height="6" fill="#fff"/><rect x="0" y="2" width="9" height="2" fill="#fff"/><rect x="3.9" y="0" width="1.2" height="6" fill="#c8102e"/><rect x="0" y="2.4" width="9" height="1.2" fill="#c8102e"/></g>
<text class="t" transform="translate(149.3,268.77) rotate(0.1) scale(0.89,1)" font-size="5.2">United Kingdom</text>
<text class="t" transform="translate(212.6,268.77) rotate(0.1) scale(0.89,1)" font-size="5.2">London</text>
<rect x="130.5" y="272.6" width="127.5" height="8.75" fill="url(#c1f1)"/>
<g transform="translate(133.8,274.08) scale(0.97,0.97)"><rect x="0" y="0" width="4.52" height="6" fill="#ffe000"/><rect x="4.5" y="0" width="4.52" height="6" fill="#fff"/><rect x="6.1" y="1.9" width="1.3" height="2.2" fill="#c8b26a"/><rect x="6.4" y="1.6" width="0.7" height="0.6" fill="#c33"/></g>
<text class="t" transform="translate(149.3,278.82) rotate(0.1) scale(0.89,1)" font-size="5.2">Vatican City</text>
<text class="t" transform="translate(212.6,278.82) rotate(0.1) scale(0.89,1)" font-size="5.2">Vatican City</text>
<rect x="130.5" y="282.65" width="127.5" height="8.75" fill="url(#c1f1)"/>
<g transform="translate(133.8,284.12) scale(0.97,0.97)"><rect x="0" y="0" width="9" height="3.02" fill="#fff"/><rect x="0" y="3" width="9" height="3.02" fill="#00ab39"/><polygon points="1.8,3 3,1.4 5,1.8 6.6,1 7.2,2.6 6.2,3.4 6.6,4.6 5,4 3.6,4.7 2.8,3.8" fill="#d30731"/></g>
<text class="t" transform="translate(149.3,288.87) rotate(0.1) scale(0.89,1)" font-size="5.2">Wales</text>
<text class="t" transform="translate(212.6,288.87) rotate(0.1) scale(0.89,1)" font-size="5.2">Cardiff</text>
<rect x="130.5" y="292.7" width="127.5" height="8.75" fill="url(#c1f2)"/>
<g transform="translate(133.8,294.18) scale(0.97,0.97)"><rect x="0" y="0" width="9" height="2.02" fill="#74acdf"/><rect x="0" y="2" width="9" height="2.02" fill="#fff"/><rect x="0" y="4" width="9" height="2.02" fill="#74acdf"/><circle cx="4.5" cy="3" r="0.65" fill="#f6b40e"/></g>
<text class="t" transform="translate(149.3,298.92) rotate(0.1) scale(0.89,1)" font-size="5.2">Argentina</text>
<text class="t" transform="translate(212.6,298.92) rotate(0.1) scale(0.89,1)" font-size="5.2">Buenos Aires</text>
<rect x="130.5" y="302.75" width="127.5" height="8.75" fill="url(#c1f2)"/>
<g transform="translate(133.8,304.23) scale(0.97,0.97)"><rect x="0" y="0" width="9" height="2.02" fill="#d52b1e"/><rect x="0" y="2" width="9" height="2.02" fill="#f9e300"/><rect x="0" y="4" width="9" height="2.02" fill="#007934"/><circle cx="4.5" cy="3" r="0.55" fill="#b08a3a"/></g>
<text class="t" transform="translate(149.3,308.97) rotate(0.1) scale(0.89,1)" font-size="5.2">Bolivia</text>
<text class="t" transform="translate(212.6,308.97) rotate(0.1) scale(0.89,1)" font-size="5.2">Sucre</text>
<rect x="130.5" y="312.8" width="127.5" height="8.75" fill="url(#c1f2)"/>
<g transform="translate(133.8,314.28) scale(0.97,0.97)"><rect x="0" y="0" width="9" height="6" fill="#009c3b"/><polygon points="0.9,3 4.5,0.7 8.1,3 4.5,5.3" fill="#ffdf00"/><circle cx="4.5" cy="3" r="1.5" fill="#002776"/><line x1="3.1" y1="2.7" x2="5.9" y2="3.4" stroke="#fff" stroke-width="0.3"/></g>
<text class="t" transform="translate(149.3,319.02) rotate(0.1) scale(0.89,1)" font-size="5.2">Brazil</text>
<text class="t" transform="translate(212.6,319.02) rotate(0.1) scale(0.89,1)" font-size="5.2">Brasília</text>
<rect x="130.5" y="322.85" width="127.5" height="8.75" fill="url(#c1f2)"/>
<g transform="translate(133.8,324.33) scale(0.97,0.97)"><rect x="0" y="0" width="9" height="3.02" fill="#fff"/><rect x="0" y="3" width="9" height="3.02" fill="#d52b1e"/><rect x="0" y="0" width="3" height="3" fill="#0039a6"/><polygon points="1.5,0.65 1.71,1.21 2.31,1.24 1.84,1.61 2,2.19 1.5,1.86 1,2.19 1.16,1.61 0.69,1.24 1.29,1.21" fill="#fff"/></g>
<text class="t" transform="translate(149.3,329.07) rotate(0.1) scale(0.89,1)" font-size="5.2">Chile</text>
<text class="t" transform="translate(212.6,329.07) rotate(0.1) scale(0.89,1)" font-size="5.2">Santiago</text>
<rect x="130.5" y="332.9" width="127.5" height="8.75" fill="url(#c1f2)"/>
<g transform="translate(133.8,334.38) scale(0.97,0.97)"><rect x="0" y="0" width="9" height="3.02" fill="#fcd116"/><rect x="0" y="3" width="9" height="1.52" fill="#003893"/><rect x="0" y="4.5" width="9" height="1.52" fill="#ce1126"/></g>
<text class="t" transform="translate(149.3,339.12) rotate(0.1) scale(0.89,1)" font-size="5.2">Colombia</text>
<text class="t" transform="translate(212.6,339.12) rotate(0.1) scale(0.89,1)" font-size="5.2">Bogotá</text>
<rect x="130.5" y="342.95" width="127.5" height="8.75" fill="url(#c1f2)"/>
<g transform="translate(133.8,344.43) scale(0.97,0.97)"><rect x="0" y="0" width="9" height="3.02" fill="#ffdd00"/><rect x="0" y="3" width="9" height="1.52" fill="#034ea2"/><rect x="0" y="4.5" width="9" height="1.52" fill="#ed1c24"/><circle cx="4.5" cy="3" r="1" fill="#8a8f5a"/><circle cx="4.5" cy="3.1" r="0.55" fill="#5ba3c7"/></g>
<text class="t" transform="translate(149.3,349.17) rotate(0.1) scale(0.89,1)" font-size="5.2">Ecuador</text>
<text class="t" transform="translate(212.6,349.17) rotate(0.1) scale(0.89,1)" font-size="5.2">Quito</text>
<rect x="130.5" y="353" width="127.5" height="8.75" fill="url(#c1f2)"/>
<g transform="translate(133.8,354.48) scale(0.97,0.97)"><rect x="0" y="0" width="9" height="6" fill="#012169"/><rect x="0" y="0" width="4.5" height="3" fill="#012169"/><line x1="0" y1="0" x2="4.5" y2="3" stroke="#fff" stroke-width="0.7"/><line x1="0" y1="3" x2="4.5" y2="0" stroke="#fff" stroke-width="0.7"/><line x1="0" y1="0" x2="4.5" y2="3" stroke="#c8102e" stroke-width="0.28"/><line x1="0" y1="3" x2="4.5" y2="0" stroke="#c8102e" stroke-width="0.28"/><rect x="1.75" y="0" width="1" height="3" fill="#fff"/><rect x="0" y="1" width="4.5" height="1" fill="#fff"/><rect x="1.97" y="0" width="0.56" height="3" fill="#c8102e"/><rect x="0" y="1.22" width="4.5" height="0.56" fill="#c8102e"/><rect x="5.8" y="2" width="1.7" height="2.2" fill="#fff"/><rect x="6" y="2.2" width="1.3" height="1" fill="#3b7dc4"/><rect x="6" y="3.2" width="1.3" height="0.8" fill="#8db65a"/></g>
<text class="t" transform="translate(149.3,359.22) rotate(0.1) scale(0.89,1)" font-size="5.2">Falkland Islands</text>
<text class="t" transform="translate(212.6,359.22) rotate(0.1) scale(0.89,1)" font-size="5.2">Stanley</text>
<rect x="130.5" y="363.05" width="127.5" height="8.75" fill="url(#c1f2)"/>
<g transform="translate(133.8,364.52) scale(0.97,0.97)"><polygon points="0,0 9,0 0,6" fill="#078930"/><polygon points="9,0 9,6 0,6" fill="#fcdd09"/><polygon points="4.5,1.7 4.82,2.56 5.74,2.6 5.02,3.17 5.26,4.05 4.5,3.55 3.74,4.05 3.98,3.17 3.26,2.6 4.18,2.56" fill="#da121a"/></g>
<text class="t" transform="translate(149.3,369.27) rotate(0.1) scale(0.89,1)" font-size="5.2">French Guiana</text>
<text class="t" transform="translate(212.6,369.27) rotate(0.1) scale(0.89,1)" font-size="5.2">Cayenne</text>
<rect x="130.5" y="373.1" width="127.5" height="8.75" fill="url(#c1f2)"/>
<g transform="translate(133.8,374.58) scale(0.97,0.97)"><rect x="0" y="0" width="9" height="6" fill="#009e49"/><polygon points="0,0 9,3 0,6" fill="#fff"/><polygon points="0,0.35 8.2,3 0,5.65" fill="#fcd116"/><polygon points="0,0 4.5,3 0,6" fill="#111"/><polygon points="0,0.45 3.9,3 0,5.55" fill="#ce1126"/></g>
<text class="t" transform="translate(149.3,379.32) rotate(0.1) scale(0.89,1)" font-size="5.2">Guyana</text>
<text class="t" transform="translate(212.6,379.32) rotate(0.1) scale(0.89,1)" font-size="5.2">Georgetown</text>
<rect x="130.5" y="383.15" width="127.5" height="8.75" fill="url(#c1f2)"/>
<g transform="translate(133.8,384.62) scale(0.97,0.97)"><rect x="0" y="0" width="9" height="2.02" fill="#d52b1e"/><rect x="0" y="2" width="9" height="2.02" fill="#fff"/><rect x="0" y="4" width="9" height="2.02" fill="#0038a8"/><circle cx="4.5" cy="3" r="0.7" fill="#3a3a3a"/><circle cx="4.5" cy="3" r="0.5" fill="#fff"/></g>
<text class="t" transform="translate(149.3,389.37) rotate(0.1) scale(0.89,1)" font-size="5.2">Paraguay</text>
<text class="t" transform="translate(212.6,389.37) rotate(0.1) scale(0.89,1)" font-size="5.2">Asunción</text>
<rect x="130.5" y="393.2" width="127.5" height="8.75" fill="url(#c1f2)"/>
<g transform="translate(133.8,394.68) scale(0.97,0.97)"><rect x="0" y="0" width="3.02" height="6" fill="#d91023"/><rect x="3" y="0" width="3.02" height="6" fill="#fff"/><rect x="6" y="0" width="3.02" height="6" fill="#d91023"/></g>
<text class="t" transform="translate(149.3,399.42) rotate(0.1) scale(0.89,1)" font-size="5.2">Peru</text>
<text class="t" transform="translate(212.6,399.42) rotate(0.1) scale(0.89,1)" font-size="5.2">Lima</text>
<rect x="130.5" y="403.25" width="127.5" height="8.75" fill="url(#c1f2)"/>
<g transform="translate(133.8,404.73) scale(0.97,0.97)"><rect x="0" y="0" width="9" height="1.22" fill="#377e3f"/><rect x="0" y="1.2" width="9" height="0.62" fill="#fff"/><rect x="0" y="1.8" width="9" height="2.42" fill="#b40a2d"/><rect x="0" y="4.2" width="9" height="0.62" fill="#fff"/><rect x="0" y="4.8" width="9" height="1.22" fill="#377e3f"/><polygon points="4.5,2 4.75,2.66 5.45,2.69 4.9,3.13 5.09,3.81 4.5,3.42 3.91,3.81 4.1,3.13 3.55,2.69 4.25,2.66" fill="#ecc81d"/></g>
<text class="t" transform="translate(149.3,409.47) rotate(0.1) scale(0.89,1)" font-size="5.2">Suriname</text>
<text class="t" transform="translate(212.6,409.47) rotate(0.1) scale(0.89,1)" font-size="5.2">Paramaribo</text>
<rect x="130.5" y="413.3" width="127.5" height="8.75" fill="url(#c1f2)"/>
<g transform="translate(133.8,414.77) scale(0.97,0.97)"><rect x="0" y="0" width="9" height="0.69" fill="#fff"/><rect x="0" y="0.67" width="9" height="0.69" fill="#0038a8"/><rect x="0" y="1.33" width="9" height="0.69" fill="#fff"/><rect x="0" y="2" width="9" height="0.69" fill="#0038a8"/><rect x="0" y="2.67" width="9" height="0.69" fill="#fff"/><rect x="0" y="3.33" width="9" height="0.69" fill="#0038a8"/><rect x="0" y="4" width="9" height="0.69" fill="#fff"/><rect x="0" y="4.67" width="9" height="0.69" fill="#0038a8"/><rect x="0" y="5.33" width="9" height="0.69" fill="#fff"/><rect x="0" y="0" width="3.3" height="3.34" fill="#fff"/><circle cx="1.65" cy="1.67" r="0.9" fill="#fcd116"/></g>
<text class="t" transform="translate(149.3,419.52) rotate(0.1) scale(0.89,1)" font-size="5.2">Uruguay</text>
<text class="t" transform="translate(212.6,419.52) rotate(0.1) scale(0.89,1)" font-size="5.2">Montevideo</text>
<rect x="130.5" y="423.35" width="127.5" height="8.75" fill="url(#c1f2)"/>
<g transform="translate(133.8,424.83) scale(0.97,0.97)"><rect x="0" y="0" width="9" height="2.02" fill="#ffcc00"/><rect x="0" y="2" width="9" height="2.02" fill="#00247d"/><rect x="0" y="4" width="9" height="2.02" fill="#cf142b"/><circle cx="6.12" cy="3.46" r="0.22" fill="#fff"/><circle cx="5.74" cy="2.88" r="0.22" fill="#fff"/><circle cx="5.12" cy="2.5" r="0.22" fill="#fff"/><circle cx="4.5" cy="2.4" r="0.22" fill="#fff"/><circle cx="3.89" cy="2.5" r="0.22" fill="#fff"/><circle cx="3.26" cy="2.88" r="0.22" fill="#fff"/><circle cx="2.88" cy="3.45" r="0.22" fill="#fff"/></g>
<text class="t" transform="translate(149.3,429.57) rotate(0.1) scale(0.89,1)" font-size="5.2">Venezuela</text>
<text class="t" transform="translate(212.6,429.57) rotate(0.1) scale(0.89,1)" font-size="5.2">Caracas</text>
<rect x="0.3" y="0.3" width="258.4" height="433.1" fill="none" stroke="#1a1a1a" stroke-opacity="0.55" stroke-width="0.6"/>
</g></svg></div>
<div class="chart" id="c2" style="left:213px;top:162px;width:284px;height:474px">
<svg width="284" height="474" viewBox="0 0 284 474">
<defs>
<linearGradient id="g2" x1="0" y1="0" x2="0" y2="1"><stop offset="0" stop-color="#01062a"/><stop offset="0.2" stop-color="#030e48"/><stop offset="0.45" stop-color="#113286"/><stop offset="0.62" stop-color="#0d2a78"/><stop offset="0.8" stop-color="#051350"/><stop offset="1" stop-color="#030a3a"/></linearGradient><linearGradient id="g2h" x1="0" y1="0" x2="1" y2="0"><stop offset="0" stop-color="#2050b0" stop-opacity="0.28"/><stop offset="0.35" stop-color="#2050b0" stop-opacity="0.1"/><stop offset="0.6" stop-color="#000830" stop-opacity="0.35"/><stop offset="1" stop-color="#000830" stop-opacity="0.3"/></linearGradient><filter id="t2" x="0" y="0" width="100%" height="100%" color-interpolation-filters="sRGB"><feTurbulence type="fractalNoise" baseFrequency="0.012 0.05" numOctaves="3" seed="7" result="n"/><feColorMatrix type="matrix" values="0 0 0 0 0.0  0 0 0 0 0.02  0 0 0 0 0.15  0 0 0 2.0 -0.8"/></filter>
<linearGradient id="c2f0" x1="0" y1="0" x2="1" y2="0"><stop offset="0" stop-color="#ebf1e1"/><stop offset="1" stop-color="#eef3e6"/></linearGradient>
<linearGradient id="c2f1" x1="0" y1="0" x2="1" y2="0"><stop offset="0" stop-color="#ebf1e1"/><stop offset="1" stop-color="#eef3e6"/></linearGradient>
<linearGradient id="c2f2" x1="0" y1="0" x2="1" y2="0"><stop offset="0" stop-color="#f0e6f2"/><stop offset="1" stop-color="#f7dcea"/></linearGradient>
<filter id="c2sh" filterUnits="userSpaceOnUse" x="-50" y="-50" width="382.5" height="572.5"><feGaussianBlur stdDeviation="7.5"/></filter>
</defs>
<g transform="translate(0.9,0.9)">
<rect x="3" y="7" width="282.5" height="472.5" fill="#000" fill-opacity="0.42" filter="url(#c2sh)"/>
<rect x="0" y="0" width="282.5" height="472.5" fill="#3c3c3c"/>
<g><rect width="282.5" height="56.1" fill="url(#g2)"/><rect width="282.5" height="56.1" fill="url(#g2h)"/><rect width="282.5" height="56.1" filter="url(#t2)"/></g>
<text class="ttl" x="51.8" y="22.4" font-size="18.4" textLength="182.3" lengthAdjust="spacingAndGlyphs">Countries &amp; Capitals</text>
<text class="ttl" x="81.3" y="45.5" font-size="14" textLength="127.6" lengthAdjust="spacingAndGlyphs">Africa and Oceania</text>
<rect x="0" y="56.1" width="282.5" height="9.8" fill="#5e5e5e"/>
<rect x="0" y="55.9" width="282.5" height="0.9" fill="#333"/>
<rect x="139.9" y="56.7" width="2" height="9.8" fill="#3c3c3c"/>
<text class="hd" transform="translate(21.3,62.87) scale(0.9,1)" font-size="5.2">Country</text>
<text class="hd" transform="translate(89.8,62.87) scale(0.9,1)" font-size="5.2">Capital city</text>
<text class="hd" transform="translate(162.3,62.87) scale(0.9,1)" font-size="5.2">Country</text>
<text class="hd" transform="translate(237.1,62.87) scale(0.9,1)" font-size="5.2">Capital city</text>
<rect x="1" y="66.53" width="138.9" height="8.9" fill="url(#c2f0)"/>
<g transform="translate(4.2,67.93) scale(1.01,1.02)"><rect x="0" y="0" width="4.52" height="6" fill="#006233"/><rect x="4.5" y="0" width="4.52" height="6" fill="#fff"/><circle cx="4.7" cy="3" r="1.5" fill="#d21034"/><circle cx="5.33" cy="3" r="1.2" fill="#fff"/><polygon points="5.4,2.3 5.57,2.76 6.07,2.78 5.68,3.09 5.81,3.57 5.4,3.29 4.99,3.57 5.12,3.09 4.73,2.78 5.23,2.76" fill="#d21034"/></g>
<text class="t" transform="translate(20.2,72.91) rotate(0.1) scale(0.88,1)" font-size="5.45">Algeria</text>
<text class="t" transform="translate(101.1,72.91) rotate(0.1) scale(0.88,1)" font-size="5.45">Algiers</text>
<rect x="1" y="76.68" width="138.9" height="8.9" fill="url(#c2f0)"/>
<g transform="translate(4.2,78.08) scale(1.01,1.02)"><rect x="0" y="0" width="9" height="3.02" fill="#cc092f"/><rect x="0" y="3" width="9" height="3.02" fill="#111"/><circle cx="4.5" cy="3" r="1.3" fill="#ffcb00"/><circle cx="4.9" cy="2.8" r="1.05" fill="#7a0a1a"/><line x1="3.4" y1="4.3" x2="5.8" y2="2.5" stroke="#ffcb00" stroke-width="0.35"/></g>
<text class="t" transform="translate(20.2,83.06) rotate(0.1) scale(0.88,1)" font-size="5.45">Angola</text>
<text class="t" transform="translate(101.1,83.06) rotate(0.1) scale(0.88,1)" font-size="5.45">Luanda</text>
<rect x="1" y="86.83" width="138.9" height="8.9" fill="url(#c2f0)"/>
<g transform="translate(4.2,88.23) scale(1.01,1.02)"><rect x="0" y="0" width="9" height="3" fill="#fcd116"/><rect x="0" y="3" width="9" height="3" fill="#e8112d"/><rect x="0" y="0" width="3.6" height="6" fill="#008751"/></g>
<text class="t" transform="translate(20.2,93.21) rotate(0.1) scale(0.88,1)" font-size="5.45">Benin</text>
<text class="t" transform="translate(101.1,93.21) rotate(0.1) scale(0.88,1)" font-size="5.45">Porto-Novo</text>
<rect x="1" y="96.98" width="138.9" height="8.9" fill="url(#c2f0)"/>
<g transform="translate(4.2,98.38) scale(1.01,1.02)"><rect x="0" y="0" width="9" height="6" fill="#75aadb"/><rect x="0" y="2" width="9" height="2" fill="#fff"/><rect x="0" y="2.3" width="9" height="1.4" fill="#111"/></g>
<text class="t" transform="translate(20.2,103.36) rotate(0.1) scale(0.88,1)" font-size="5.45">Botswana</text>
<text class="t" transform="translate(101.1,103.36) rotate(0.1) scale(0.88,1)" font-size="5.45">Gaborone</text>
<rect x="1" y="107.12" width="138.9" height="8.9" fill="url(#c2f0)"/>
<g transform="translate(4.2,108.53) scale(1.01,1.02)"><rect x="0" y="0" width="9" height="3.02" fill="#ef2b2d"/><rect x="0" y="3" width="9" height="3.02" fill="#009e49"/><polygon points="4.5,2 4.75,2.66 5.45,2.69 4.9,3.13 5.09,3.81 4.5,3.42 3.91,3.81 4.1,3.13 3.55,2.69 4.25,2.66" fill="#fcd116"/></g>
<text class="t" transform="translate(20.2,113.51) rotate(0.1) scale(0.88,1)" font-size="5.45">Burkina Faso</text>
<text class="t" transform="translate(101.1,113.51) rotate(0.1) scale(0.88,1)" font-size="5.45">Ouagadougou</text>
<rect x="1" y="117.28" width="138.9" height="8.9" fill="url(#c2f0)"/>
<g transform="translate(4.2,118.68) scale(1.01,1.02)"><polygon points="0,0 9,0 4.5,3" fill="#ce1126"/><polygon points="0,6 9,6 4.5,3" fill="#ce1126"/><polygon points="0,0 0,6 4.5,3" fill="#1eb53a"/><polygon points="9,0 9,6 4.5,3" fill="#1eb53a"/><line x1="0" y1="0" x2="9" y2="6" stroke="#fff" stroke-width="0.8"/><line x1="0" y1="6" x2="9" y2="0" stroke="#fff" stroke-width="0.8"/><circle cx="4.5" cy="3" r="1.5" fill="#fff"/><circle cx="4.5" cy="2.4" r="0.3" fill="#ce1126"/><circle cx="3.9" cy="3.4" r="0.3" fill="#ce1126"/><circle cx="5.1" cy="3.4" r="0.3" fill="#ce1126"/></g>
<text class="t" transform="translate(20.2,123.66) rotate(0.1) scale(0.88,1)" font-size="5.45">Burundi</text>
<text class="t" transform="translate(101.1,123.66) rotate(0.1) scale(0.88,1)" font-size="5.45">Bujumbura</text>
<rect x="1" y="127.43" width="138.9" height="8.9" fill="url(#c2f0)"/>
<g transform="translate(4.2,128.83) scale(1.01,1.02)"><rect x="0" y="0" width="3.02" height="6" fill="#007a5e"/><rect x="3" y="0" width="3.02" height="6" fill="#ce1126"/><rect x="6" y="0" width="3.02" height="6" fill="#fcd116"/><polygon points="4.5,2.2 4.7,2.73 5.26,2.75 4.82,3.1 4.97,3.65 4.5,3.34 4.03,3.65 4.18,3.1 3.74,2.75 4.3,2.73" fill="#fcd116"/></g>
<text class="t" transform="translate(20.2,133.81) rotate(0.1) scale(0.88,1)" font-size="5.45">Cameroon</text>
<text class="t" transform="translate(101.1,133.81) rotate(0.1) scale(0.88,1)" font-size="5.45">Yaoundé</text>
<rect x="1" y="137.57" width="138.9" height="8.9" fill="url(#c2f0)"/>
<g transform="translate(4.2,138.97) scale(1.01,1.02)"><rect x="0" y="0" width="9" height="6" fill="#003893"/><rect x="0" y="3" width="9" height="1.5" fill="#fff"/><rect x="0" y="3.5" width="9" height="0.5" fill="#cf2027"/><circle cx="3.4" cy="3.75" r="1.2" fill="none" stroke="#f7d116" stroke-width="0.35" stroke-dasharray="0.3 0.45"/></g>
<text class="t" transform="translate(20.2,143.96) rotate(0.1) scale(0.88,1)" font-size="5.45">Cape Verde</text>
<text class="t" transform="translate(101.1,143.96) rotate(0.1) scale(0.88,1)" font-size="5.45">Praia</text>
<rect x="1" y="147.73" width="138.9" height="8.9" fill="url(#c2f0)"/>
<g transform="translate(4.2,149.13) scale(1.01,1.02)"><rect x="0" y="0" width="9" height="1.52" fill="#003082"/><rect x="0" y="1.5" width="9" height="1.52" fill="#fff"/><rect x="0" y="3" width="9" height="1.52" fill="#289728"/><rect x="0" y="4.5" width="9" height="1.52" fill="#ffce00"/><rect x="3.9" y="0" width="1.2" height="6" fill="#d21034"/><polygon points="1.2,0.15 1.36,0.58 1.82,0.6 1.46,0.88 1.58,1.33 1.2,1.07 0.82,1.33 0.94,0.88 0.58,0.6 1.04,0.58" fill="#ffce00"/></g>
<text class="t" transform="translate(20.2,154.11) rotate(0.1) scale(0.88,1)" font-size="5.45">Central African Republic</text>
<text class="t" transform="translate(101.1,154.11) rotate(0.1) scale(0.88,1)" font-size="5.45">Bangui</text>
<rect x="1" y="157.88" width="138.9" height="8.9" fill="url(#c2f0)"/>
<g transform="translate(4.2,159.28) scale(1.01,1.02)"><rect x="0" y="0" width="3.02" height="6" fill="#002664"/><rect x="3" y="0" width="3.02" height="6" fill="#fecb00"/><rect x="6" y="0" width="3.02" height="6" fill="#c60c30"/></g>
<text class="t" transform="translate(20.2,164.26) rotate(0.1) scale(0.88,1)" font-size="5.45">Chad</text>
<text class="t" transform="translate(101.1,164.26) rotate(0.1) scale(0.88,1)" font-size="5.45">N'Djamena</text>
<rect x="1" y="168.03" width="138.9" height="8.9" fill="url(#c2f0)"/>
<g transform="translate(4.2,169.43) scale(1.01,1.02)"><rect x="0" y="0" width="9" height="1.52" fill="#ffc61e"/><rect x="0" y="1.5" width="9" height="1.52" fill="#fff"/><rect x="0" y="3" width="9" height="1.52" fill="#ce1126"/><rect x="0" y="4.5" width="9" height="1.52" fill="#3a75c4"/><polygon points="0,0 4.2,3 0,6" fill="#3d8e33"/><circle cx="1.5" cy="3" r="0.85" fill="#fff"/><circle cx="1.96" cy="3" r="0.68" fill="#3d8e33"/></g>
<text class="t" transform="translate(20.2,174.41) rotate(0.1) scale(0.88,1)" font-size="5.45">Comoros</text>
<text class="t" transform="translate(101.1,174.41) rotate(0.1) scale(0.88,1)" font-size="5.45">Moroni</text>
<rect x="1" y="178.18" width="138.9" height="8.9" fill="url(#c2f0)"/>
<g transform="translate(4.2,179.58) scale(1.01,1.02)"><polygon points="0,0 6,0 0,6" fill="#009543"/><polygon points="6,0 9,0 3,6 0,6" fill="#fbde4a"/><polygon points="9,0 9,6 3,6" fill="#dc241f"/></g>
<text class="t" transform="translate(20.2,184.56) rotate(0.1) scale(0.88,1)" font-size="5.45">Congo</text>
<text class="t" transform="translate(101.1,184.56) rotate(0.1) scale(0.88,1)" font-size="5.45">Brazzaville</text>
<rect x="1" y="188.33" width="138.9" height="8.9" fill="url(#c2f0)"/>
<g transform="translate(4.2,189.73) scale(1.01,1.02)"><rect x="0" y="0" width="3.02" height="6" fill="#f77f00"/><rect x="3" y="0" width="3.02" height="6" fill="#fff"/><rect x="6" y="0" width="3.02" height="6" fill="#009e60"/></g>
<text class="t" transform="translate(20.2,194.71) rotate(0.1) scale(0.88,1)" font-size="5.45">Côte d'Ivoire (Ivory Coast)</text>
<text class="t" transform="translate(101.1,194.71) rotate(0.1) scale(0.88,1)" font-size="5.45">Yamoussoukro</text>
<rect x="1" y="198.48" width="138.9" height="8.9" fill="url(#c2f0)"/>
<g transform="translate(4.2,199.88) scale(1.01,1.02)"><rect x="0" y="0" width="9" height="6" fill="#007fff"/><line x1="0" y1="6" x2="9" y2="0" stroke="#f7d618" stroke-width="1.9"/><line x1="0" y1="6" x2="9" y2="0" stroke="#ce1021" stroke-width="1.2"/><polygon points="1.6,0.4 1.87,1.13 2.65,1.16 2.04,1.64 2.25,2.39 1.6,1.96 0.95,2.39 1.16,1.64 0.55,1.16 1.33,1.13" fill="#f7d618"/></g>
<text class="t" transform="translate(20.2,204.86) rotate(0.1) scale(0.88,1)" font-size="5.45">Democratic Republic of the Congo</text>
<text class="t" transform="translate(101.1,204.86) rotate(0.1) scale(0.88,1)" font-size="5.45">Kinshasa</text>
<rect x="1" y="208.62" width="138.9" height="8.9" fill="url(#c2f0)"/>
<g transform="translate(4.2,210.03) scale(1.01,1.02)"><rect x="0" y="0" width="9" height="3.02" fill="#6ab2e7"/><rect x="0" y="3" width="9" height="3.02" fill="#12ad2b"/><polygon points="0,0 4.3,3 0,6" fill="#fff"/><polygon points="1.4,2.3 1.57,2.76 2.07,2.78 1.68,3.09 1.81,3.57 1.4,3.29 0.99,3.57 1.12,3.09 0.73,2.78 1.23,2.76" fill="#d7141a"/></g>
<text class="t" transform="translate(20.2,215.01) rotate(0.1) scale(0.88,1)" font-size="5.45">Djibouti</text>
<text class="t" transform="translate(101.1,215.01) rotate(0.1) scale(0.88,1)" font-size="5.45">Djibouti City</text>
<rect x="1" y="218.78" width="138.9" height="8.9" fill="url(#c2f0)"/>
<g transform="translate(4.2,220.18) scale(1.01,1.02)"><rect x="0" y="0" width="9" height="2.02" fill="#ce1126"/><rect x="0" y="2" width="9" height="2.02" fill="#fff"/><rect x="0" y="4" width="9" height="2.02" fill="#111"/><rect x="4" y="2.2" width="1" height="1.5" fill="#c09300"/></g>
<text class="t" transform="translate(20.2,225.16) rotate(0.1) scale(0.88,1)" font-size="5.45">Egypt</text>
<text class="t" transform="translate(101.1,225.16) rotate(0.1) scale(0.88,1)" font-size="5.45">Cairo</text>
<rect x="1" y="228.93" width="138.9" height="8.9" fill="url(#c2f0)"/>
<g transform="translate(4.2,230.33) scale(1.01,1.02)"><rect x="0" y="0" width="9" height="2.02" fill="#3e9a00"/><rect x="0" y="2" width="9" height="2.02" fill="#fff"/><rect x="0" y="4" width="9" height="2.02" fill="#e32118"/><polygon points="0,0 2.4,3 0,6" fill="#0073ce"/><rect x="4.2" y="2.3" width="0.9" height="1.3" fill="#9aa0a0"/></g>
<text class="t" transform="translate(20.2,235.31) rotate(0.1) scale(0.88,1)" font-size="5.45">Equatorial Guinea</text>
<text class="t" transform="translate(101.1,235.31) rotate(0.1) scale(0.88,1)" font-size="5.45">Malabo</text>
<rect x="1" y="239.08" width="138.9" height="8.9" fill="url(#c2f0)"/>
<g transform="translate(4.2,240.48) scale(1.01,1.02)"><polygon points="0,0 9,0 9,3 0,3" fill="#12ad2b"/><rect x="0" y="3" width="9" height="3" fill="#4189dd"/><polygon points="0,0 9,3 0,6" fill="#ea0437"/><circle cx="2.2" cy="3" r="1" fill="#ffc726"/><circle cx="2.2" cy="3" r="0.65" fill="#ea0437"/></g>
<text class="t" transform="translate(20.2,245.46) rotate(0.1) scale(0.88,1)" font-size="5.45">Eritrea</text>
<text class="t" transform="translate(101.1,245.46) rotate(0.1) scale(0.88,1)" font-size="5.45">Asmara</text>
<rect x="1" y="249.23" width="138.9" height="8.9" fill="url(#c2f0)"/>
<g transform="translate(4.2,250.63) scale(1.01,1.02)"><rect x="0" y="0" width="9" height="2.02" fill="#078930"/><rect x="0" y="2" width="9" height="2.02" fill="#fcdd09"/><rect x="0" y="4" width="9" height="2.02" fill="#da121a"/><circle cx="4.5" cy="3" r="1.45" fill="#0f47af"/><polygon points="4.5,2.05 4.73,2.68 5.4,2.71 4.88,3.12 5.06,3.77 4.5,3.4 3.94,3.77 4.12,3.12 3.6,2.71 4.27,2.68" fill="#fcdd09"/></g>
<text class="t" transform="translate(20.2,255.61) rotate(0.1) scale(0.88,1)" font-size="5.45">Ethiopia</text>
<text class="t" transform="translate(101.1,255.61) rotate(0.1) scale(0.88,1)" font-size="5.45">Addis Ababa</text>
<rect x="1" y="259.38" width="138.9" height="8.9" fill="url(#c2f0)"/>
<g transform="translate(4.2,260.77) scale(1.01,1.02)"><rect x="0" y="0" width="9" height="2.02" fill="#009e60"/><rect x="0" y="2" width="9" height="2.02" fill="#fcd116"/><rect x="0" y="4" width="9" height="2.02" fill="#3a75c4"/></g>
<text class="t" transform="translate(20.2,265.76) rotate(0.1) scale(0.88,1)" font-size="5.45">Gabon</text>
<text class="t" transform="translate(101.1,265.76) rotate(0.1) scale(0.88,1)" font-size="5.45">Libreville</text>
<rect x="1" y="269.52" width="138.9" height="8.9" fill="url(#c2f0)"/>
<g transform="translate(4.2,270.92) scale(1.01,1.02)"><rect x="0" y="0" width="9" height="2.02" fill="#ce1126"/><rect x="0" y="2" width="9" height="0.35" fill="#fff"/><rect x="0" y="2.33" width="9" height="1.35" fill="#0c1c8c"/><rect x="0" y="3.67" width="9" height="0.35" fill="#fff"/><rect x="0" y="4" width="9" height="2.02" fill="#3a7728"/></g>
<text class="t" transform="translate(20.2,275.91) rotate(0.1) scale(0.88,1)" font-size="5.45">Gambia</text>
<text class="t" transform="translate(101.1,275.91) rotate(0.1) scale(0.88,1)" font-size="5.45">Banjul</text>
<rect x="1" y="279.68" width="138.9" height="8.9" fill="url(#c2f0)"/>
<g transform="translate(4.2,281.07) scale(1.01,1.02)"><rect x="0" y="0" width="9" height="2.02" fill="#ce1126"/><rect x="0" y="2" width="9" height="2.02" fill="#fcd116"/><rect x="0" y="4" width="9" height="2.02" fill="#006b3f"/><polygon points="4.5,2.05 4.73,2.68 5.4,2.71 4.88,3.12 5.06,3.77 4.5,3.4 3.94,3.77 4.12,3.12 3.6,2.71 4.27,2.68" fill="#111"/></g>
<text class="t" transform="translate(20.2,286.06) rotate(0.1) scale(0.88,1)" font-size="5.45">Ghana</text>
<text class="t" transform="translate(101.1,286.06) rotate(0.1) scale(0.88,1)" font-size="5.45">Accra</text>
<rect x="1" y="289.83" width="138.9" height="8.9" fill="url(#c2f0)"/>
<g transform="translate(4.2,291.23) scale(1.01,1.02)"><rect x="0" y="0" width="3.02" height="6" fill="#ce1126"/><rect x="3" y="0" width="3.02" height="6" fill="#fcd116"/><rect x="6" y="0" width="3.02" height="6" fill="#009460"/></g>
<text class="t" transform="translate(20.2,296.21) rotate(0.1) scale(0.88,1)" font-size="5.45">Guinea</text>
<text class="t" transform="translate(101.1,296.21) rotate(0.1) scale(0.88,1)" font-size="5.45">Conakry</text>
<rect x="1" y="299.98" width="138.9" height="8.9" fill="url(#c2f0)"/>
<g transform="translate(4.2,301.38) scale(1.01,1.02)"><rect x="0" y="0" width="9" height="3" fill="#fcd116"/><rect x="0" y="3" width="9" height="3" fill="#009e49"/><rect x="0" y="0" width="3" height="6" fill="#ce1126"/><polygon points="1.5,2.15 1.71,2.71 2.31,2.74 1.84,3.11 2,3.69 1.5,3.36 1,3.69 1.16,3.11 0.69,2.74 1.29,2.71" fill="#111"/></g>
<text class="t" transform="translate(20.2,306.36) rotate(0.1) scale(0.88,1)" font-size="5.45">Guinea-Bissau</text>
<text class="t" transform="translate(101.1,306.36) rotate(0.1) scale(0.88,1)" font-size="5.45">Bissau</text>
<rect x="1" y="310.12" width="138.9" height="8.9" fill="url(#c2f0)"/>
<g transform="translate(4.2,311.52) scale(1.01,1.02)"><rect x="0" y="0" width="9" height="1.82" fill="#111"/><rect x="0" y="1.8" width="9" height="0.32" fill="#fff"/><rect x="0" y="2.1" width="9" height="1.82" fill="#bb0000"/><rect x="0" y="3.9" width="9" height="0.32" fill="#fff"/><rect x="0" y="4.2" width="9" height="1.82" fill="#006600"/><polygon points="4.5,1 5.5,3 4.5,5 3.5,3" fill="#bb0000"/><line x1="4.5" y1="1.2" x2="4.5" y2="4.8" stroke="#111" stroke-width="0.4"/></g>
<text class="t" transform="translate(20.2,316.51) rotate(0.1) scale(0.88,1)" font-size="5.45">Kenya</text>
<text class="t" transform="translate(101.1,316.51) rotate(0.1) scale(0.88,1)" font-size="5.45">Nairobi</text>
<rect x="1" y="320.27" width="138.9" height="8.9" fill="url(#c2f0)"/>
<g transform="translate(4.2,321.67) scale(1.01,1.02)"><rect x="0" y="0" width="9" height="1.82" fill="#00209f"/><rect x="0" y="1.8" width="9" height="2.42" fill="#fff"/><rect x="0" y="4.2" width="9" height="1.82" fill="#009543"/><polygon points="4.5,2 5.4,3.7 3.6,3.7" fill="#111"/></g>
<text class="t" transform="translate(20.2,326.66) rotate(0.1) scale(0.88,1)" font-size="5.45">Lesotho</text>
<text class="t" transform="translate(101.1,326.66) rotate(0.1) scale(0.88,1)" font-size="5.45">Maseru</text>
<rect x="1" y="330.43" width="138.9" height="8.9" fill="url(#c2f0)"/>
<g transform="translate(4.2,331.83) scale(1.01,1.02)"><rect x="0" y="0" width="9" height="0.57" fill="#bf0a30"/><rect x="0" y="0.55" width="9" height="0.57" fill="#fff"/><rect x="0" y="1.09" width="9" height="0.57" fill="#bf0a30"/><rect x="0" y="1.64" width="9" height="0.57" fill="#fff"/><rect x="0" y="2.18" width="9" height="0.57" fill="#bf0a30"/><rect x="0" y="2.73" width="9" height="0.57" fill="#fff"/><rect x="0" y="3.27" width="9" height="0.57" fill="#bf0a30"/><rect x="0" y="3.82" width="9" height="0.57" fill="#fff"/><rect x="0" y="4.36" width="9" height="0.57" fill="#bf0a30"/><rect x="0" y="4.91" width="9" height="0.57" fill="#fff"/><rect x="0" y="5.45" width="9" height="0.57" fill="#bf0a30"/><rect x="0" y="0" width="2.7" height="2.73" fill="#002868"/><polygon points="1.35,0.56 1.55,1.09 2.11,1.11 1.67,1.46 1.82,2.01 1.35,1.7 0.88,2.01 1.03,1.46 0.59,1.11 1.15,1.09" fill="#fff"/></g>
<text class="t" transform="translate(20.2,336.81) rotate(0.1) scale(0.88,1)" font-size="5.45">Liberia</text>
<text class="t" transform="translate(101.1,336.81) rotate(0.1) scale(0.88,1)" font-size="5.45">Monrovia</text>
<rect x="1" y="340.58" width="138.9" height="8.9" fill="url(#c2f0)"/>
<g transform="translate(4.2,341.98) scale(1.01,1.02)"><rect x="0" y="0" width="9" height="1.52" fill="#e70013"/><rect x="0" y="1.5" width="9" height="3.02" fill="#111"/><rect x="0" y="4.5" width="9" height="1.52" fill="#239e46"/><circle cx="4.3" cy="3" r="0.85" fill="#fff"/><circle cx="4.66" cy="3" r="0.68" fill="#111"/><polygon points="5.2,2.6 5.3,2.86 5.58,2.88 5.36,3.05 5.44,3.32 5.2,3.17 4.96,3.32 5.04,3.05 4.82,2.88 5.1,2.86" fill="#fff"/></g>
<text class="t" transform="translate(20.2,346.96) rotate(0.1) scale(0.88,1)" font-size="5.45">Libya</text>
<text class="t" transform="translate(101.1,346.96) rotate(0.1) scale(0.88,1)" font-size="5.45">Tripoli</text>
<rect x="1" y="350.73" width="138.9" height="8.9" fill="url(#c2f0)"/>
<g transform="translate(4.2,352.12) scale(1.01,1.02)"><rect x="0" y="0" width="9" height="3" fill="#fc3d32"/><rect x="0" y="3" width="9" height="3" fill="#007e3a"/><rect x="0" y="0" width="3" height="6" fill="#fff"/></g>
<text class="t" transform="translate(20.2,357.11) rotate(0.1) scale(0.88,1)" font-size="5.45">Madagascar</text>
<text class="t" transform="translate(101.1,357.11) rotate(0.1) scale(0.88,1)" font-size="5.45">Antananarivo</text>
<rect x="1" y="360.88" width="138.9" height="8.9" fill="url(#c2f0)"/>
<g transform="translate(4.2,362.27) scale(1.01,1.02)"><rect x="0" y="0" width="9" height="2.02" fill="#111"/><rect x="0" y="2" width="9" height="2.02" fill="#ce1126"/><rect x="0" y="4" width="9" height="2.02" fill="#339e35"/><polygon points="2.8,2 6.2,2 5.6,1 4.5,0.55 3.4,1" fill="#ce1126"/></g>
<text class="t" transform="translate(20.2,367.26) rotate(0.1) scale(0.88,1)" font-size="5.45">Malawi</text>
<text class="t" transform="translate(101.1,367.26) rotate(0.1) scale(0.88,1)" font-size="5.45">Lilongwe</text>
<rect x="1" y="371.02" width="138.9" height="8.9" fill="url(#c2f0)"/>
<g transform="translate(4.2,372.42) scale(1.01,1.02)"><rect x="0" y="0" width="3.02" height="6" fill="#14b53a"/><rect x="3" y="0" width="3.02" height="6" fill="#fcd116"/><rect x="6" y="0" width="3.02" height="6" fill="#ce1126"/></g>
<text class="t" transform="translate(20.2,377.41) rotate(0.1) scale(0.88,1)" font-size="5.45">Mali</text>
<text class="t" transform="translate(101.1,377.41) rotate(0.1) scale(0.88,1)" font-size="5.45">Bamako</text>
<rect x="1" y="381.18" width="138.9" height="8.9" fill="url(#c2f0)"/>
<g transform="translate(4.2,382.58) scale(1.01,1.02)"><rect x="0" y="0" width="9" height="6" fill="#006233"/><circle cx="4.5" cy="2.6" r="1.9" fill="#ffc400"/><circle cx="4.5" cy="2.0" r="1.75" fill="#006233"/><polygon points="4.5,1.6 4.67,2.06 5.17,2.08 4.78,2.39 4.91,2.87 4.5,2.59 4.09,2.87 4.22,2.39 3.83,2.08 4.33,2.06" fill="#ffc400"/></g>
<text class="t" transform="translate(20.2,387.56) rotate(0.1) scale(0.88,1)" font-size="5.45">Mauritania</text>
<text class="t" transform="translate(101.1,387.56) rotate(0.1) scale(0.88,1)" font-size="5.45">Nouakchott</text>
<rect x="1" y="391.33" width="138.9" height="8.9" fill="url(#c2f0)"/>
<g transform="translate(4.2,392.73) scale(1.01,1.02)"><rect x="0" y="0" width="9" height="1.52" fill="#ea2839"/><rect x="0" y="1.5" width="9" height="1.52" fill="#1a206d"/><rect x="0" y="3" width="9" height="1.52" fill="#ffd500"/><rect x="0" y="4.5" width="9" height="1.52" fill="#00a551"/></g>
<text class="t" transform="translate(20.2,397.71) rotate(0.1) scale(0.88,1)" font-size="5.45">Mauritius</text>
<text class="t" transform="translate(101.1,397.71) rotate(0.1) scale(0.88,1)" font-size="5.45">Port Louis</text>
<rect x="1" y="401.48" width="138.9" height="8.9" fill="url(#c2f0)"/>
<g transform="translate(4.2,402.88) scale(1.01,1.02)"><rect x="0" y="0" width="9" height="6" fill="#c1272d"/><polygon points="4.5,1.8 4.82,2.66 5.74,2.7 5.02,3.27 5.26,4.15 4.5,3.65 3.74,4.15 3.98,3.27 3.26,2.7 4.18,2.66" fill="#006233"/><polygon points="4.5,2.5 4.65,2.9 5.07,2.91 4.74,3.18 4.85,3.59 4.5,3.35 4.15,3.59 4.26,3.18 3.93,2.91 4.35,2.9" fill="#c1272d"/></g>
<text class="t" transform="translate(20.2,407.86) rotate(0.1) scale(0.88,1)" font-size="5.45">Morocco</text>
<text class="t" transform="translate(101.1,407.86) rotate(0.1) scale(0.88,1)" font-size="5.45">Rabat</text>
<rect x="1" y="411.62" width="138.9" height="8.9" fill="url(#c2f0)"/>
<g transform="translate(4.2,413.02) scale(1.01,1.02)"><rect x="0" y="0" width="9" height="1.82" fill="#007168"/><rect x="0" y="1.8" width="9" height="0.32" fill="#fff"/><rect x="0" y="2.1" width="9" height="1.82" fill="#111"/><rect x="0" y="3.9" width="9" height="0.32" fill="#fff"/><rect x="0" y="4.2" width="9" height="1.82" fill="#fce100"/><polygon points="0,0 3.9,3 0,6" fill="#d21034"/><polygon points="1.3,2.2 1.5,2.73 2.06,2.75 1.62,3.1 1.77,3.65 1.3,3.34 0.83,3.65 0.98,3.1 0.54,2.75 1.1,2.73" fill="#fce100"/></g>
<text class="t" transform="translate(20.2,418.01) rotate(0.1) scale(0.88,1)" font-size="5.45">Mozambique</text>
<text class="t" transform="translate(101.1,418.01) rotate(0.1) scale(0.88,1)" font-size="5.45">Maputo</text>
<rect x="1" y="421.77" width="138.9" height="8.9" fill="url(#c2f0)"/>
<g transform="translate(4.2,423.17) scale(1.01,1.02)"><polygon points="0,0 9,0 0,6" fill="#003580"/><polygon points="9,0 9,6 0,6" fill="#009543"/><line x1="0" y1="6" x2="9" y2="0" stroke="#fff" stroke-width="2.4"/><line x1="0" y1="6" x2="9" y2="0" stroke="#d21034" stroke-width="1.7"/><circle cx="1.8" cy="1.6" r="0.85" fill="#ffce00"/></g>
<text class="t" transform="translate(20.2,428.16) rotate(0.1) scale(0.88,1)" font-size="5.45">Namibia</text>
<text class="t" transform="translate(101.1,428.16) rotate(0.1) scale(0.88,1)" font-size="5.45">Windhoek</text>
<rect x="1" y="431.93" width="138.9" height="8.9" fill="url(#c2f0)"/>
<g transform="translate(4.2,433.33) scale(1.01,1.02)"><rect x="0" y="0" width="9" height="2.02" fill="#e05206"/><rect x="0" y="2" width="9" height="2.02" fill="#fff"/><rect x="0" y="4" width="9" height="2.02" fill="#0db02b"/><circle cx="4.5" cy="3" r="0.75" fill="#e05206"/></g>
<text class="t" transform="translate(20.2,438.31) rotate(0.1) scale(0.88,1)" font-size="5.45">Niger</text>
<text class="t" transform="translate(101.1,438.31) rotate(0.1) scale(0.88,1)" font-size="5.45">Niamey</text>
<rect x="1" y="442.08" width="138.9" height="8.9" fill="url(#c2f0)"/>
<g transform="translate(4.2,443.48) scale(1.01,1.02)"><rect x="0" y="0" width="3.02" height="6" fill="#008751"/><rect x="3" y="0" width="3.02" height="6" fill="#fff"/><rect x="6" y="0" width="3.02" height="6" fill="#008751"/></g>
<text class="t" transform="translate(20.2,448.46) rotate(0.1) scale(0.88,1)" font-size="5.45">Nigeria</text>
<text class="t" transform="translate(101.1,448.46) rotate(0.1) scale(0.88,1)" font-size="5.45">Abuja</text>
<rect x="1" y="452.23" width="138.9" height="8.9" fill="url(#c2f0)"/>
<g transform="translate(4.2,453.62) scale(1.01,1.02)"><rect x="0" y="0" width="9" height="3.02" fill="#00a1de"/><rect x="0" y="3" width="9" height="1.52" fill="#fad201"/><rect x="0" y="4.5" width="9" height="1.52" fill="#20603d"/><circle cx="6.9" cy="1.5" r="0.75" fill="#e5be01"/></g>
<text class="t" transform="translate(20.2,458.61) rotate(0.1) scale(0.88,1)" font-size="5.45">Rwanda</text>
<text class="t" transform="translate(101.1,458.61) rotate(0.1) scale(0.88,1)" font-size="5.45">Kigali</text>
<rect x="1" y="462.38" width="138.9" height="8.9" fill="url(#c2f0)"/>
<g transform="translate(4.2,463.77) scale(1.01,1.02)"><rect x="0" y="0" width="9" height="2.02" fill="#111"/><rect x="0" y="2" width="9" height="2.02" fill="#fff"/><rect x="0" y="4" width="9" height="2.02" fill="#007a3d"/><polygon points="0,0 3,3 0,6" fill="#c4111b"/><circle cx="5" cy="3" r="0.85" fill="#c4111b"/><circle cx="5.36" cy="3" r="0.68" fill="#fff"/><polygon points="5.9,2.6 6,2.86 6.28,2.88 6.06,3.05 6.14,3.32 5.9,3.17 5.66,3.32 5.74,3.05 5.52,2.88 5.8,2.86" fill="#c4111b"/></g>
<text class="t" transform="translate(20.2,468.76) rotate(0.1) scale(0.88,1)" font-size="5.45">Sahrawi Arab Democratic Republic</text>
<text class="t" transform="translate(101.1,468.76) rotate(0.1) scale(0.88,1)" font-size="5.45">El Aaiúna</text>
<rect x="141.9" y="66.53" width="139.6" height="8.9" fill="url(#c2f1)"/>
<g transform="translate(145.3,67.93) scale(1.01,1.02)"><rect x="0" y="0" width="9" height="1.73" fill="#12ad2b"/><rect x="0" y="1.71" width="9" height="2.59" fill="#ffce00"/><rect x="0" y="4.29" width="9" height="1.73" fill="#12ad2b"/><polygon points="0,0 2.5,3 0,6" fill="#d21034"/><polygon points="4.3,2.25 4.49,2.75 5.01,2.77 4.6,3.1 4.74,3.61 4.3,3.31 3.86,3.61 4,3.1 3.59,2.77 4.11,2.75" fill="#111"/><polygon points="6.7,2.25 6.89,2.75 7.41,2.77 7,3.1 7.14,3.61 6.7,3.31 6.26,3.61 6.4,3.1 5.99,2.77 6.51,2.75" fill="#111"/></g>
<text class="t" transform="translate(160,72.91) rotate(0.1) scale(0.88,1)" font-size="5.45">Sao Tome and Principe</text>
<text class="t" transform="translate(241.3,72.91) rotate(0.1) scale(0.88,1)" font-size="5.45">São Tomé</text>
<rect x="141.9" y="76.68" width="139.6" height="8.9" fill="url(#c2f1)"/>
<g transform="translate(145.3,78.08) scale(1.01,1.02)"><rect x="0" y="0" width="3.02" height="6" fill="#00853f"/><rect x="3" y="0" width="3.02" height="6" fill="#fdef42"/><rect x="6" y="0" width="3.02" height="6" fill="#e31b23"/><polygon points="4.5,2.2 4.7,2.73 5.26,2.75 4.82,3.1 4.97,3.65 4.5,3.34 4.03,3.65 4.18,3.1 3.74,2.75 4.3,2.73" fill="#00853f"/></g>
<text class="t" transform="translate(160,83.06) rotate(0.1) scale(0.88,1)" font-size="5.45">Senegal</text>
<text class="t" transform="translate(241.3,83.06) rotate(0.1) scale(0.88,1)" font-size="5.45">Dakar</text>
<rect x="141.9" y="86.83" width="139.6" height="8.9" fill="url(#c2f1)"/>
<g transform="translate(145.3,88.23) scale(1.01,1.02)"><polygon points="0,6 0,0 3,0" fill="#003f87"/><polygon points="0,6 3,0 6,0" fill="#fcd856"/><polygon points="0,6 6,0 9,0 9,2" fill="#d62828"/><polygon points="0,6 9,2 9,4" fill="#fff"/><polygon points="0,6 9,4 9,6" fill="#007a3d"/></g>
<text class="t" transform="translate(160,93.21) rotate(0.1) scale(0.88,1)" font-size="5.45">Seychelles</text>
<text class="t" transform="translate(241.3,93.21) rotate(0.1) scale(0.88,1)" font-size="5.45">Victoria</text>
<rect x="141.9" y="96.98" width="139.6" height="8.9" fill="url(#c2f1)"/>
<g transform="translate(145.3,98.38) scale(1.01,1.02)"><rect x="0" y="0" width="9" height="2.02" fill="#1eb53a"/><rect x="0" y="2" width="9" height="2.02" fill="#fff"/><rect x="0" y="4" width="9" height="2.02" fill="#0072c6"/></g>
<text class="t" transform="translate(160,103.36) rotate(0.1) scale(0.88,1)" font-size="5.45">Sierra Leone</text>
<text class="t" transform="translate(241.3,103.36) rotate(0.1) scale(0.88,1)" font-size="5.45">Freetown</text>
<rect x="141.9" y="107.12" width="139.6" height="8.9" fill="url(#c2f1)"/>
<g transform="translate(145.3,108.53) scale(1.01,1.02)"><rect x="0" y="0" width="9" height="6" fill="#4189dd"/><polygon points="4.5,1.7 4.82,2.56 5.74,2.6 5.02,3.17 5.26,4.05 4.5,3.55 3.74,4.05 3.98,3.17 3.26,2.6 4.18,2.56" fill="#fff"/></g>
<text class="t" transform="translate(160,113.51) rotate(0.1) scale(0.88,1)" font-size="5.45">Somalia</text>
<text class="t" transform="translate(241.3,113.51) rotate(0.1) scale(0.88,1)" font-size="5.45">Mogadishu</text>
<rect x="141.9" y="117.28" width="139.6" height="8.9" fill="url(#c2f1)"/>
<g transform="translate(145.3,118.68) scale(1.01,1.02)"><rect x="0" y="0" width="9" height="2.02" fill="#006d21"/><rect x="0" y="2" width="9" height="2.02" fill="#fff"/><rect x="0" y="4" width="9" height="2.02" fill="#dc0000"/><polygon points="4.5,2.3 4.67,2.76 5.17,2.78 4.78,3.09 4.91,3.57 4.5,3.29 4.09,3.57 4.22,3.09 3.83,2.78 4.33,2.76" fill="#111"/><rect x="2.5" y="0.75" width="4" height="0.45" fill="#fff"/></g>
<text class="t" transform="translate(160,123.66) rotate(0.1) scale(0.88,1)" font-size="5.45">Somaliland</text>
<text class="t" transform="translate(241.3,123.66) rotate(0.1) scale(0.88,1)" font-size="5.45">Hargeisa</text>
<rect x="141.9" y="127.43" width="139.6" height="8.9" fill="url(#c2f1)"/>
<g transform="translate(145.3,128.83) scale(1.01,1.02)"><rect x="0" y="0" width="9" height="3" fill="#e03c31"/><rect x="0" y="3" width="9" height="3" fill="#001489"/><polygon points="0,0 1.3,0 4.6,2 9,2 9,4 4.6,4 1.3,6 0,6" fill="#fff"/><polygon points="0,0.5 0.6,0 4.4,2.4 9,2.4 9,3.6 4.4,3.6 0.6,6 0,5.5" fill="#007749"/><polygon points="0,0.75 3.2,3 0,5.25" fill="#ffb81c"/><polygon points="0,1.3 2.5,3 0,4.7" fill="#111"/></g>
<text class="t" transform="translate(160,133.81) rotate(0.1) scale(0.88,1)" font-size="5.45">South Africa</text>
<text class="t" transform="translate(241.3,133.81) rotate(0.1) scale(0.88,1)" font-size="5.45">Pretoria</text>
<rect x="141.9" y="137.57" width="139.6" height="8.9" fill="url(#c2f1)"/>
<g transform="translate(145.3,138.97) scale(1.01,1.02)"><rect x="0" y="0" width="9" height="1.82" fill="#111"/><rect x="0" y="1.8" width="9" height="0.32" fill="#fff"/><rect x="0" y="2.1" width="9" height="1.82" fill="#da121a"/><rect x="0" y="3.9" width="9" height="0.32" fill="#fff"/><rect x="0" y="4.2" width="9" height="1.82" fill="#078930"/><polygon points="0,0 4,3 0,6" fill="#0f47af"/><polygon points="1.4,2.2 1.6,2.73 2.16,2.75 1.72,3.1 1.87,3.65 1.4,3.34 0.93,3.65 1.08,3.1 0.64,2.75 1.2,2.73" fill="#fcdd09"/></g>
<text class="t" transform="translate(160,143.96) rotate(0.1) scale(0.88,1)" font-size="5.45">South Sudan</text>
<text class="t" transform="translate(241.3,143.96) rotate(0.1) scale(0.88,1)" font-size="5.45">Juba</text>
<rect x="141.9" y="147.73" width="139.6" height="8.9" fill="url(#c2f1)"/>
<g transform="translate(145.3,149.13) scale(1.01,1.02)"><rect x="0" y="0" width="9" height="2.02" fill="#d21034"/><rect x="0" y="2" width="9" height="2.02" fill="#fff"/><rect x="0" y="4" width="9" height="2.02" fill="#111"/><polygon points="0,0 3,3 0,6" fill="#007229"/></g>
<text class="t" transform="translate(160,154.11) rotate(0.1) scale(0.88,1)" font-size="5.45">Sudan</text>
<text class="t" transform="translate(241.3,154.11) rotate(0.1) scale(0.88,1)" font-size="5.45">Khartoum</text>
<rect x="141.9" y="157.88" width="139.6" height="8.9" fill="url(#c2f1)"/>
<g transform="translate(145.3,159.28) scale(1.01,1.02)"><rect x="0" y="0" width="9" height="1.31" fill="#3e5eb9"/><rect x="0" y="1.29" width="9" height="0.45" fill="#ffd900"/><rect x="0" y="1.71" width="9" height="2.59" fill="#b10c0c"/><rect x="0" y="4.29" width="9" height="0.45" fill="#ffd900"/><rect x="0" y="4.71" width="9" height="1.31" fill="#3e5eb9"/><ellipse cx="4.5" cy="3" rx="2.1" ry="0.95" fill="#fff"/><polygon points="2.4,3 4.5,2.05 4.5,3.95" fill="#111"/></g>
<text class="t" transform="translate(160,164.26) rotate(0.1) scale(0.88,1)" font-size="5.45">Swaziland</text>
<text class="t" transform="translate(241.3,164.26) rotate(0.1) scale(0.88,1)" font-size="5.45">Mbabane</text>
<rect x="141.9" y="168.03" width="139.6" height="8.9" fill="url(#c2f1)"/>
<g transform="translate(145.3,169.43) scale(1.01,1.02)"><polygon points="0,0 9,0 0,6" fill="#1eb53a"/><polygon points="9,0 9,6 0,6" fill="#00a3dd"/><line x1="0" y1="6" x2="9" y2="0" stroke="#fcd116" stroke-width="2.6"/><line x1="0" y1="6" x2="9" y2="0" stroke="#111" stroke-width="1.8"/></g>
<text class="t" transform="translate(160,174.41) rotate(0.1) scale(0.88,1)" font-size="5.45">Tanzania</text>
<text class="t" transform="translate(241.3,174.41) rotate(0.1) scale(0.88,1)" font-size="5.45">Dodoma</text>
<rect x="141.9" y="178.18" width="139.6" height="8.9" fill="url(#c2f1)"/>
<g transform="translate(145.3,179.58) scale(1.01,1.02)"><rect x="0" y="0" width="9" height="1.22" fill="#006a4e"/><rect x="0" y="1.2" width="9" height="1.22" fill="#ffce00"/><rect x="0" y="2.4" width="9" height="1.22" fill="#006a4e"/><rect x="0" y="3.6" width="9" height="1.22" fill="#ffce00"/><rect x="0" y="4.8" width="9" height="1.22" fill="#006a4e"/><rect x="0" y="0" width="3.6" height="3.62" fill="#d21034"/><polygon points="1.8,0.8 2.05,1.46 2.75,1.49 2.2,1.93 2.39,2.61 1.8,2.22 1.21,2.61 1.4,1.93 0.85,1.49 1.55,1.46" fill="#fff"/></g>
<text class="t" transform="translate(160,184.56) rotate(0.1) scale(0.88,1)" font-size="5.45">Togo</text>
<text class="t" transform="translate(241.3,184.56) rotate(0.1) scale(0.88,1)" font-size="5.45">Lomé</text>
<rect x="141.9" y="188.33" width="139.6" height="8.9" fill="url(#c2f1)"/>
<g transform="translate(145.3,189.73) scale(1.01,1.02)"><rect x="0" y="0" width="9" height="6" fill="#e70013"/><circle cx="4.5" cy="3" r="1.6" fill="#fff"/><circle cx="4.4" cy="3" r="1.15" fill="#e70013"/><circle cx="4.81" cy="3" r="0.92" fill="#fff"/><polygon points="4.8,2.45 4.94,2.81 5.32,2.83 5.02,3.07 5.12,3.44 4.8,3.23 4.48,3.44 4.58,3.07 4.28,2.83 4.66,2.81" fill="#e70013"/></g>
<text class="t" transform="translate(160,194.71) rotate(0.1) scale(0.88,1)" font-size="5.45">Tunisia</text>
<text class="t" transform="translate(241.3,194.71) rotate(0.1) scale(0.88,1)" font-size="5.45">Tunis</text>
<rect x="141.9" y="198.48" width="139.6" height="8.9" fill="url(#c2f1)"/>
<g transform="translate(145.3,199.88) scale(1.01,1.02)"><rect x="0" y="0" width="9" height="1.02" fill="#111"/><rect x="0" y="1" width="9" height="1.02" fill="#fcdc04"/><rect x="0" y="2" width="9" height="1.02" fill="#d90000"/><rect x="0" y="3" width="9" height="1.02" fill="#111"/><rect x="0" y="4" width="9" height="1.02" fill="#fcdc04"/><rect x="0" y="5" width="9" height="1.02" fill="#d90000"/><circle cx="4.5" cy="3" r="1.1" fill="#fff"/><circle cx="4.5" cy="3" r="0.55" fill="#777"/></g>
<text class="t" transform="translate(160,204.86) rotate(0.1) scale(0.88,1)" font-size="5.45">Uganda</text>
<text class="t" transform="translate(241.3,204.86) rotate(0.1) scale(0.88,1)" font-size="5.45">Kampala</text>
<rect x="141.9" y="208.62" width="139.6" height="8.9" fill="url(#c2f1)"/>
<g transform="translate(145.3,210.03) scale(1.01,1.02)"><rect x="0" y="0" width="9" height="6" fill="#198a00"/><rect x="5.7" y="2.2" width="1.1" height="3.8" fill="#de2010"/><rect x="6.8" y="2.2" width="1.1" height="3.8" fill="#111"/><rect x="7.9" y="2.2" width="1.1" height="3.8" fill="#ef7d00"/><rect x="6.3" y="0.9" width="2.2" height="0.7" fill="#ef7d00"/></g>
<text class="t" transform="translate(160,215.01) rotate(0.1) scale(0.88,1)" font-size="5.45">Zambia</text>
<text class="t" transform="translate(241.3,215.01) rotate(0.1) scale(0.88,1)" font-size="5.45">Lusaka</text>
<rect x="141.9" y="218.78" width="139.6" height="8.9" fill="url(#c2f1)"/>
<g transform="translate(145.3,220.18) scale(1.01,1.02)"><rect x="0" y="0" width="9" height="0.88" fill="#006400"/><rect x="0" y="0.86" width="9" height="0.88" fill="#ffd200"/><rect x="0" y="1.71" width="9" height="0.88" fill="#d40000"/><rect x="0" y="2.57" width="9" height="0.88" fill="#111"/><rect x="0" y="3.43" width="9" height="0.88" fill="#d40000"/><rect x="0" y="4.29" width="9" height="0.88" fill="#ffd200"/><rect x="0" y="5.14" width="9" height="0.88" fill="#006400"/><polygon points="0,0 3.6,3 0,6" fill="#fff"/><polygon points="1.2,2.2 1.4,2.73 1.96,2.75 1.52,3.1 1.67,3.65 1.2,3.34 0.73,3.65 0.88,3.1 0.44,2.75 1,2.73" fill="#d40000"/></g>
<text class="t" transform="translate(160,225.16) rotate(0.1) scale(0.88,1)" font-size="5.45">Zimbabwe</text>
<text class="t" transform="translate(241.3,225.16) rotate(0.1) scale(0.88,1)" font-size="5.45">Harare</text>
<rect x="141.9" y="228.93" width="139.6" height="8.9" fill="url(#c2f2)"/>
<g transform="translate(145.3,230.33) scale(1.01,1.02)"><rect x="0" y="0" width="9" height="6" fill="#00247d"/><polygon points="9,0 0,3 9,6" fill="#bd1021"/><polygon points="9,0.55 1.3,3 9,5.45" fill="#fff"/><polygon points="5,3 7.2,1.9 8.3,2.7 7.4,3.4 7.9,4.2 6.2,4" fill="#7a4a21"/></g>
<text class="t" transform="translate(160,235.31) rotate(0.1) scale(0.88,1)" font-size="5.45">American Samoa</text>
<text class="t" transform="translate(241.3,235.31) rotate(0.1) scale(0.88,1)" font-size="5.45">Pago Pago</text>
<rect x="141.9" y="239.08" width="139.6" height="8.9" fill="url(#c2f2)"/>
<g transform="translate(145.3,240.48) scale(1.01,1.02)"><rect x="0" y="0" width="9" height="6" fill="#012169"/><rect x="0" y="0" width="4.5" height="3" fill="#012169"/><line x1="0" y1="0" x2="4.5" y2="3" stroke="#fff" stroke-width="0.7"/><line x1="0" y1="3" x2="4.5" y2="0" stroke="#fff" stroke-width="0.7"/><line x1="0" y1="0" x2="4.5" y2="3" stroke="#c8102e" stroke-width="0.28"/><line x1="0" y1="3" x2="4.5" y2="0" stroke="#c8102e" stroke-width="0.28"/><rect x="1.75" y="0" width="1" height="3" fill="#fff"/><rect x="0" y="1" width="4.5" height="1" fill="#fff"/><rect x="1.97" y="0" width="0.56" height="3" fill="#c8102e"/><rect x="0" y="1.22" width="4.5" height="0.56" fill="#c8102e"/><polygon points="2.25,3.7 2.45,4.23 3.01,4.25 2.57,4.6 2.72,5.15 2.25,4.84 1.78,5.15 1.93,4.6 1.49,4.25 2.05,4.23" fill="#fff"/><polygon points="6.8,0.6 6.9,0.86 7.18,0.88 6.96,1.05 7.04,1.32 6.8,1.17 6.56,1.32 6.64,1.05 6.42,0.88 6.7,0.86" fill="#fff"/><polygon points="6.8,4.6 6.9,4.86 7.18,4.88 6.96,5.05 7.04,5.32 6.8,5.17 6.56,5.32 6.64,5.05 6.42,4.88 6.7,4.86" fill="#fff"/><polygon points="5.8,2.2 5.9,2.46 6.18,2.48 5.96,2.65 6.04,2.92 5.8,2.77 5.56,2.92 5.64,2.65 5.42,2.48 5.7,2.46" fill="#fff"/><polygon points="7.9,1.9 8,2.16 8.28,2.18 8.06,2.35 8.14,2.62 7.9,2.47 7.66,2.62 7.74,2.35 7.52,2.18 7.8,2.16" fill="#fff"/></g>
<text class="t" transform="translate(160,245.46) rotate(0.1) scale(0.88,1)" font-size="5.45">Australia</text>
<text class="t" transform="translate(241.3,245.46) rotate(0.1) scale(0.88,1)" font-size="5.45">Canberra</text>
<rect x="141.9" y="249.23" width="139.6" height="8.9" fill="url(#c2f2)"/>
<g transform="translate(145.3,250.63) scale(1.01,1.02)"><rect x="0" y="0" width="9" height="6" fill="#012169"/><rect x="0" y="0" width="4.5" height="3" fill="#012169"/><line x1="0" y1="0" x2="4.5" y2="3" stroke="#fff" stroke-width="0.7"/><line x1="0" y1="3" x2="4.5" y2="0" stroke="#fff" stroke-width="0.7"/><line x1="0" y1="0" x2="4.5" y2="3" stroke="#c8102e" stroke-width="0.28"/><line x1="0" y1="3" x2="4.5" y2="0" stroke="#c8102e" stroke-width="0.28"/><rect x="1.75" y="0" width="1" height="3" fill="#fff"/><rect x="0" y="1" width="4.5" height="1" fill="#fff"/><rect x="1.97" y="0" width="0.56" height="3" fill="#c8102e"/><rect x="0" y="1.22" width="4.5" height="0.56" fill="#c8102e"/><circle cx="6.7" cy="3" r="1.4" fill="none" stroke="#fff" stroke-width="0.45" stroke-dasharray="0.3 0.3"/></g>
<text class="t" transform="translate(160,255.61) rotate(0.1) scale(0.88,1)" font-size="5.45">Cook Islands</text>
<text class="t" transform="translate(241.3,255.61) rotate(0.1) scale(0.88,1)" font-size="5.45">Avarua</text>
<rect x="141.9" y="259.38" width="139.6" height="8.9" fill="url(#c2f2)"/>
<g transform="translate(145.3,260.77) scale(1.01,1.02)"><rect x="0" y="0" width="9" height="6" fill="#68bfe5"/><rect x="0" y="0" width="4.5" height="3" fill="#012169"/><line x1="0" y1="0" x2="4.5" y2="3" stroke="#fff" stroke-width="0.7"/><line x1="0" y1="3" x2="4.5" y2="0" stroke="#fff" stroke-width="0.7"/><line x1="0" y1="0" x2="4.5" y2="3" stroke="#c8102e" stroke-width="0.28"/><line x1="0" y1="3" x2="4.5" y2="0" stroke="#c8102e" stroke-width="0.28"/><rect x="1.75" y="0" width="1" height="3" fill="#fff"/><rect x="0" y="1" width="4.5" height="1" fill="#fff"/><rect x="1.97" y="0" width="0.56" height="3" fill="#c8102e"/><rect x="0" y="1.22" width="4.5" height="0.56" fill="#c8102e"/><rect x="5.8" y="1.8" width="1.8" height="2.6" fill="#fff"/><rect x="5.8" y="1.8" width="1.8" height="0.8" fill="#ce1126"/><rect x="6.55" y="2.6" width="0.3" height="1.8" fill="#ce1126"/><rect x="5.8" y="3.35" width="1.8" height="0.3" fill="#ce1126"/></g>
<text class="t" transform="translate(160,265.76) rotate(0.1) scale(0.88,1)" font-size="5.45">Fiji</text>
<text class="t" transform="translate(241.3,265.76) rotate(0.1) scale(0.88,1)" font-size="5.45">Suva</text>
<rect x="141.9" y="269.52" width="139.6" height="8.9" fill="url(#c2f2)"/>
<g transform="translate(145.3,270.92) scale(1.01,1.02)"><rect x="0" y="0" width="9" height="1.52" fill="#ce1126"/><rect x="0" y="1.5" width="9" height="3.02" fill="#fff"/><rect x="0" y="4.5" width="9" height="1.52" fill="#ce1126"/><circle cx="4.5" cy="3" r="1.15" fill="#e8a33d"/><rect x="3.4" y="3" width="2.2" height="0.9" fill="#083d9c"/><polygon points="3.6,3.4 4.5,2 5.4,3.4" fill="#ce1126"/></g>
<text class="t" transform="translate(160,275.91) rotate(0.1) scale(0.88,1)" font-size="5.45">French Polynesia</text>
<text class="t" transform="translate(241.3,275.91) rotate(0.1) scale(0.88,1)" font-size="5.45">Papeete</text>
<rect x="141.9" y="279.68" width="139.6" height="8.9" fill="url(#c2f2)"/>
<g transform="translate(145.3,281.07) scale(1.01,1.02)"><rect x="0" y="0" width="9" height="6" fill="#c62139"/><rect x="0.4" y="0.4" width="8.2" height="5.2" fill="#00297b"/><ellipse cx="4.5" cy="3" rx="1.0" ry="1.6" fill="#c62139"/><ellipse cx="4.5" cy="3" rx="0.75" ry="1.35" fill="#6ec3e8"/><rect x="3.9" y="3.4" width="1.2" height="0.6" fill="#e8d38a"/></g>
<text class="t" transform="translate(160,286.06) rotate(0.1) scale(0.88,1)" font-size="5.45">Guam</text>
<text class="t" transform="translate(241.3,286.06) rotate(0.1) scale(0.88,1)" font-size="5.45">Hagåtña</text>
<rect x="141.9" y="289.83" width="139.6" height="8.9" fill="url(#c2f2)"/>
<g transform="translate(145.3,291.23) scale(1.01,1.02)"><rect x="0" y="0" width="9" height="6" fill="#ce1126"/><circle cx="4.5" cy="3.4" r="1.4" fill="#fcd116"/><polygon points="3,1 4.5,0.5 6.2,1.2 4.6,1.5" fill="#fcd116"/><rect x="0" y="3.3" width="9" height="2.7" fill="#003f87"/><rect x="0" y="3.8" width="9" height="0.45" fill="#fff"/><rect x="0" y="4.7" width="9" height="0.45" fill="#fff"/><rect x="0" y="5.55" width="9" height="0.45" fill="#fff"/></g>
<text class="t" transform="translate(160,296.21) rotate(0.1) scale(0.88,1)" font-size="5.45">Kiribati</text>
<text class="t" transform="translate(241.3,296.21) rotate(0.1) scale(0.88,1)" font-size="5.45">Tarawa</text>
<rect x="141.9" y="299.98" width="139.6" height="8.9" fill="url(#c2f2)"/>
<g transform="translate(145.3,301.38) scale(1.01,1.02)"><rect x="0" y="0" width="9" height="6" fill="#003893"/><polygon points="0,6 9,0 9,1.4" fill="#dd7500"/><polygon points="0,6 9,1.4 9,2.8" fill="#fff"/><polygon points="2,0.6 2.3,1.39 3.14,1.43 2.48,1.96 2.71,2.77 2,2.3 1.29,2.77 1.52,1.96 0.86,1.43 1.7,1.39" fill="#fff"/></g>
<text class="t" transform="translate(160,306.36) rotate(0.1) scale(0.88,1)" font-size="5.45">Marshall Islands</text>
<text class="t" transform="translate(241.3,306.36) rotate(0.1) scale(0.88,1)" font-size="5.45">Majuro</text>
<rect x="141.9" y="310.12" width="139.6" height="8.9" fill="url(#c2f2)"/>
<g transform="translate(145.3,311.52) scale(1.01,1.02)"><rect x="0" y="0" width="9" height="6" fill="#75b2dd"/><polygon points="4.5,0.8 4.65,1.2 5.07,1.21 4.74,1.48 4.85,1.89 4.5,1.65 4.15,1.89 4.26,1.48 3.93,1.21 4.35,1.2" fill="#fff"/><polygon points="4.5,4 4.65,4.4 5.07,4.41 4.74,4.68 4.85,5.09 4.5,4.85 4.15,5.09 4.26,4.68 3.93,4.41 4.35,4.4" fill="#fff"/><polygon points="2.7,2.4 2.85,2.8 3.27,2.81 2.94,3.08 3.05,3.49 2.7,3.25 2.35,3.49 2.46,3.08 2.13,2.81 2.55,2.8" fill="#fff"/><polygon points="6.3,2.4 6.45,2.8 6.87,2.81 6.54,3.08 6.65,3.49 6.3,3.25 5.95,3.49 6.06,3.08 5.73,2.81 6.15,2.8" fill="#fff"/></g>
<text class="t" transform="translate(160,316.51) rotate(0.1) scale(0.88,1)" font-size="5.45">Federated States of Micronesia</text>
<text class="t" transform="translate(241.3,316.51) rotate(0.1) scale(0.88,1)" font-size="5.45">Palikir</text>
<rect x="141.9" y="320.27" width="139.6" height="8.9" fill="url(#c2f2)"/>
<g transform="translate(145.3,321.67) scale(1.01,1.02)"><rect x="0" y="0" width="9" height="6" fill="#002b7f"/><rect x="0" y="2.75" width="9" height="0.5" fill="#ffc61e"/><polygon points="2.2,3.55 2.41,4.11 3.01,4.14 2.54,4.51 2.7,5.09 2.2,4.76 1.7,5.09 1.86,4.51 1.39,4.14 1.99,4.11" fill="#fff"/></g>
<text class="t" transform="translate(160,326.66) rotate(0.1) scale(0.88,1)" font-size="5.45">Nauru</text>
<text class="t" transform="translate(241.3,326.66) rotate(0.1) scale(0.88,1)" font-size="5.45">Yaren</text>
<rect x="141.9" y="330.43" width="139.6" height="8.9" fill="url(#c2f2)"/>
<g transform="translate(145.3,331.83) scale(1.01,1.02)"><rect x="0" y="0" width="9" height="2.02" fill="#0035ad"/><rect x="0" y="2" width="9" height="2.02" fill="#ed4135"/><rect x="0" y="4" width="9" height="2.02" fill="#009543"/><circle cx="3.6" cy="3" r="1.5" fill="#111"/><circle cx="3.6" cy="3" r="1.3" fill="#fae600"/><rect x="3.45" y="1.9" width="0.3" height="2.2" fill="#111"/></g>
<text class="t" transform="translate(160,336.81) rotate(0.1) scale(0.88,1)" font-size="5.45">New Caledonia</text>
<text class="t" transform="translate(241.3,336.81) rotate(0.1) scale(0.88,1)" font-size="5.45">Nouméa</text>
<rect x="141.9" y="340.58" width="139.6" height="8.9" fill="url(#c2f2)"/>
<g transform="translate(145.3,341.98) scale(1.01,1.02)"><rect x="0" y="0" width="9" height="6" fill="#012169"/><rect x="0" y="0" width="4.5" height="3" fill="#012169"/><line x1="0" y1="0" x2="4.5" y2="3" stroke="#fff" stroke-width="0.7"/><line x1="0" y1="3" x2="4.5" y2="0" stroke="#fff" stroke-width="0.7"/><line x1="0" y1="0" x2="4.5" y2="3" stroke="#c8102e" stroke-width="0.28"/><line x1="0" y1="3" x2="4.5" y2="0" stroke="#c8102e" stroke-width="0.28"/><rect x="1.75" y="0" width="1" height="3" fill="#fff"/><rect x="0" y="1" width="4.5" height="1" fill="#fff"/><rect x="1.97" y="0" width="0.56" height="3" fill="#c8102e"/><rect x="0" y="1.22" width="4.5" height="0.56" fill="#c8102e"/><polygon points="6.8,0.65 6.94,1.01 7.32,1.03 7.02,1.27 7.12,1.64 6.8,1.43 6.48,1.64 6.58,1.27 6.28,1.03 6.66,1.01" fill="#cc142b"/><polygon points="6.8,4.3 6.95,4.7 7.37,4.71 7.04,4.98 7.15,5.39 6.8,5.15 6.45,5.39 6.56,4.98 6.23,4.71 6.65,4.7" fill="#cc142b"/><polygon points="5.9,2.3 6.02,2.63 6.38,2.65 6.1,2.86 6.19,3.2 5.9,3.01 5.61,3.2 5.7,2.86 5.42,2.65 5.78,2.63" fill="#cc142b"/><polygon points="7.8,2 7.92,2.33 8.28,2.35 8,2.56 8.09,2.9 7.8,2.71 7.51,2.9 7.6,2.56 7.32,2.35 7.68,2.33" fill="#cc142b"/></g>
<text class="t" transform="translate(160,346.96) rotate(0.1) scale(0.88,1)" font-size="5.45">New Zealand</text>
<text class="t" transform="translate(241.3,346.96) rotate(0.1) scale(0.88,1)" font-size="5.45">Wellington</text>
<rect x="141.9" y="350.73" width="139.6" height="8.9" fill="url(#c2f2)"/>
<g transform="translate(145.3,352.12) scale(1.01,1.02)"><rect x="0" y="0" width="9" height="6" fill="#fedd00"/><rect x="0" y="0" width="4.5" height="3" fill="#012169"/><line x1="0" y1="0" x2="4.5" y2="3" stroke="#fff" stroke-width="0.7"/><line x1="0" y1="3" x2="4.5" y2="0" stroke="#fff" stroke-width="0.7"/><line x1="0" y1="0" x2="4.5" y2="3" stroke="#c8102e" stroke-width="0.28"/><line x1="0" y1="3" x2="4.5" y2="0" stroke="#c8102e" stroke-width="0.28"/><rect x="1.75" y="0" width="1" height="3" fill="#fff"/><rect x="0" y="1" width="4.5" height="1" fill="#fff"/><rect x="1.97" y="0" width="0.56" height="3" fill="#c8102e"/><rect x="0" y="1.22" width="4.5" height="0.56" fill="#c8102e"/><circle cx="2.25" cy="1.5" r="0.5" fill="#012169"/></g>
<text class="t" transform="translate(160,357.11) rotate(0.1) scale(0.88,1)" font-size="5.45">Niue</text>
<text class="t" transform="translate(241.3,357.11) rotate(0.1) scale(0.88,1)" font-size="5.45">Alofi</text>
<rect x="141.9" y="360.88" width="139.6" height="8.9" fill="url(#c2f2)"/>
<g transform="translate(145.3,362.27) scale(1.01,1.02)"><rect x="0" y="0" width="2.76" height="6" fill="#007934"/><rect x="2.74" y="0" width="3.54" height="6" fill="#fff"/><rect x="6.26" y="0" width="2.76" height="6" fill="#007934"/><polygon points="4.5,0.8 5.7,4.6 4.8,4.6 4.8,5.3 4.2,5.3 4.2,4.6 3.3,4.6" fill="#007934"/></g>
<text class="t" transform="translate(160,367.26) rotate(0.1) scale(0.88,1)" font-size="5.45">Norfolk Island</text>
<text class="t" transform="translate(241.3,367.26) rotate(0.1) scale(0.88,1)" font-size="5.45">Kingston</text>
<rect x="141.9" y="371.02" width="139.6" height="8.9" fill="url(#c2f2)"/>
<g transform="translate(145.3,372.42) scale(1.01,1.02)"><rect x="0" y="0" width="9" height="6" fill="#0071bc"/><circle cx="4.5" cy="3" r="1.7" fill="#c8b88a"/><circle cx="4.5" cy="3" r="1.25" fill="#0071bc"/><rect x="4.05" y="1.9" width="0.9" height="2.4" fill="#8c8a8c"/><polygon points="4.5,2 4.75,2.66 5.45,2.69 4.9,3.13 5.09,3.81 4.5,3.42 3.91,3.81 4.1,3.13 3.55,2.69 4.25,2.66" fill="#fff"/></g>
<text class="t" transform="translate(160,377.41) rotate(0.1) scale(0.88,1)" font-size="5.45">Northern Mariana Islands</text>
<text class="t" transform="translate(241.3,377.41) rotate(0.1) scale(0.88,1)" font-size="5.45">Saipan</text>
<rect x="141.9" y="381.18" width="139.6" height="8.9" fill="url(#c2f2)"/>
<g transform="translate(145.3,382.58) scale(1.01,1.02)"><rect x="0" y="0" width="9" height="6" fill="#4aadd6"/><circle cx="4" cy="3" r="1.55" fill="#ffde00"/></g>
<text class="t" transform="translate(160,387.56) rotate(0.1) scale(0.88,1)" font-size="5.45">Palau</text>
<text class="t" transform="translate(241.3,387.56) rotate(0.1) scale(0.88,1)" font-size="5.45">Ngerulmud</text>
<rect x="141.9" y="391.33" width="139.6" height="8.9" fill="url(#c2f2)"/>
<g transform="translate(145.3,392.73) scale(1.01,1.02)"><polygon points="0,0 9,0 9,6" fill="#ce1126"/><polygon points="0,0 0,6 9,6" fill="#111"/><polygon points="5.2,1 7.6,1 8,2.2 6.7,2.9 6,2" fill="#fcd116"/><polygon points="2.2,4.15 2.31,4.45 2.63,4.46 2.38,4.66 2.46,4.96 2.2,4.79 1.94,4.96 2.02,4.66 1.77,4.46 2.09,4.45" fill="#fff"/><polygon points="1.2,2.9 1.3,3.16 1.58,3.18 1.36,3.35 1.44,3.62 1.2,3.47 0.96,3.62 1.04,3.35 0.82,3.18 1.1,3.16" fill="#fff"/><polygon points="3.2,3.1 3.3,3.36 3.58,3.38 3.36,3.55 3.44,3.82 3.2,3.67 2.96,3.82 3.04,3.55 2.82,3.38 3.1,3.36" fill="#fff"/><polygon points="2.2,2 2.3,2.26 2.58,2.28 2.36,2.45 2.44,2.72 2.2,2.57 1.96,2.72 2.04,2.45 1.82,2.28 2.1,2.26" fill="#fff"/></g>
<text class="t" transform="translate(160,397.71) rotate(0.1) scale(0.88,1)" font-size="5.45">Papua New Guinea</text>
<text class="t" transform="translate(241.3,397.71) rotate(0.1) scale(0.88,1)" font-size="5.45">Port Moresby</text>
<rect x="141.9" y="401.48" width="139.6" height="8.9" fill="url(#c2f2)"/>
<g transform="translate(145.3,402.88) scale(1.01,1.02)"><rect x="0" y="0" width="9" height="6" fill="#012169"/><rect x="0" y="0" width="4.5" height="3" fill="#012169"/><line x1="0" y1="0" x2="4.5" y2="3" stroke="#fff" stroke-width="0.7"/><line x1="0" y1="3" x2="4.5" y2="0" stroke="#fff" stroke-width="0.7"/><line x1="0" y1="0" x2="4.5" y2="3" stroke="#c8102e" stroke-width="0.28"/><line x1="0" y1="3" x2="4.5" y2="0" stroke="#c8102e" stroke-width="0.28"/><rect x="1.75" y="0" width="1" height="3" fill="#fff"/><rect x="0" y="1" width="4.5" height="1" fill="#fff"/><rect x="1.97" y="0" width="0.56" height="3" fill="#c8102e"/><rect x="0" y="1.22" width="4.5" height="0.56" fill="#c8102e"/><rect x="6" y="1.6" width="1.5" height="2" fill="#4a8f3c"/><polygon points="6,3.6 7.5,3.6 6.75,4.5" fill="#f0d23c"/><rect x="6.4" y="1" width="0.7" height="0.6" fill="#c9a23f"/></g>
<text class="t" transform="translate(160,407.86) rotate(0.1) scale(0.88,1)" font-size="5.45">Pitcairn Islands</text>
<text class="t" transform="translate(241.3,407.86) rotate(0.1) scale(0.88,1)" font-size="5.45">Adamstown</text>
<rect x="141.9" y="411.62" width="139.6" height="8.9" fill="url(#c2f2)"/>
<g transform="translate(145.3,413.02) scale(1.01,1.02)"><rect x="0" y="0" width="9" height="6" fill="#ce1126"/><rect x="0" y="0" width="4.5" height="3" fill="#002b7f"/><polygon points="2.25,0.3 2.35,0.56 2.63,0.58 2.41,0.75 2.49,1.02 2.25,0.87 2.01,1.02 2.09,0.75 1.87,0.58 2.15,0.56" fill="#fff"/><polygon points="2.25,1.95 2.36,2.25 2.68,2.26 2.43,2.46 2.51,2.76 2.25,2.59 1.99,2.76 2.07,2.46 1.82,2.26 2.14,2.25" fill="#fff"/><polygon points="1.3,1 1.4,1.26 1.68,1.28 1.46,1.45 1.54,1.72 1.3,1.57 1.06,1.72 1.14,1.45 0.92,1.28 1.2,1.26" fill="#fff"/><polygon points="3.2,0.8 3.3,1.06 3.58,1.08 3.36,1.25 3.44,1.52 3.2,1.37 2.96,1.52 3.04,1.25 2.82,1.08 3.1,1.06" fill="#fff"/></g>
<text class="t" transform="translate(160,418.01) rotate(0.1) scale(0.88,1)" font-size="5.45">Samoa</text>
<text class="t" transform="translate(241.3,418.01) rotate(0.1) scale(0.88,1)" font-size="5.45">Apia</text>
<rect x="141.9" y="421.77" width="139.6" height="8.9" fill="url(#c2f2)"/>
<g transform="translate(145.3,423.17) scale(1.01,1.02)"><polygon points="0,0 9,0 0,6" fill="#0051ba"/><polygon points="9,0 9,6 0,6" fill="#215b33"/><line x1="0" y1="6" x2="9" y2="0" stroke="#fcd116" stroke-width="0.7"/><polygon points="1,0.5 1.1,0.76 1.38,0.78 1.16,0.95 1.24,1.22 1,1.07 0.76,1.22 0.84,0.95 0.62,0.78 0.9,0.76" fill="#fff"/><polygon points="2.6,0.5 2.7,0.76 2.98,0.78 2.76,0.95 2.84,1.22 2.6,1.07 2.36,1.22 2.44,0.95 2.22,0.78 2.5,0.76" fill="#fff"/><polygon points="1.8,1.2 1.9,1.46 2.18,1.48 1.96,1.65 2.04,1.92 1.8,1.77 1.56,1.92 1.64,1.65 1.42,1.48 1.7,1.46" fill="#fff"/><polygon points="1,1.9 1.1,2.16 1.38,2.18 1.16,2.35 1.24,2.62 1,2.47 0.76,2.62 0.84,2.35 0.62,2.18 0.9,2.16" fill="#fff"/><polygon points="2.6,1.9 2.7,2.16 2.98,2.18 2.76,2.35 2.84,2.62 2.6,2.47 2.36,2.62 2.44,2.35 2.22,2.18 2.5,2.16" fill="#fff"/></g>
<text class="t" transform="translate(160,428.16) rotate(0.1) scale(0.88,1)" font-size="5.45">Solomon Islands</text>
<text class="t" transform="translate(241.3,428.16) rotate(0.1) scale(0.88,1)" font-size="5.45">Honiara</text>
<rect x="141.9" y="431.93" width="139.6" height="8.9" fill="url(#c2f2)"/>
<g transform="translate(145.3,433.33) scale(1.01,1.02)"><rect x="0" y="0" width="9" height="6" fill="#00247d"/><polygon points="2.6,4.3 7.6,1.2 7.9,4.3" fill="#fed100"/><rect x="2.4" y="4.55" width="5.8" height="0.4" fill="#fed100"/><polygon points="1.6,0.8 1.7,1.06 1.98,1.08 1.76,1.25 1.84,1.52 1.6,1.37 1.36,1.52 1.44,1.25 1.22,1.08 1.5,1.06" fill="#fff"/><polygon points="1.6,3 1.7,3.26 1.98,3.28 1.76,3.45 1.84,3.72 1.6,3.57 1.36,3.72 1.44,3.45 1.22,3.28 1.5,3.26" fill="#fff"/><polygon points="0.8,1.8 0.9,2.06 1.18,2.08 0.96,2.25 1.04,2.52 0.8,2.37 0.56,2.52 0.64,2.25 0.42,2.08 0.7,2.06" fill="#fff"/><polygon points="2.3,1.85 2.39,2.08 2.63,2.09 2.44,2.25 2.51,2.48 2.3,2.35 2.09,2.48 2.16,2.25 1.97,2.09 2.21,2.08" fill="#fff"/></g>
<text class="t" transform="translate(160,438.31) rotate(0.1) scale(0.88,1)" font-size="5.45">Tokelau</text>
<text class="t" transform="translate(241.3,438.31) rotate(0.1) scale(0.88,1)" font-size="5.45">Nukunonu</text>
<rect x="141.9" y="442.08" width="139.6" height="8.9" fill="url(#c2f2)"/>
<g transform="translate(145.3,443.48) scale(1.01,1.02)"><rect x="0" y="0" width="9" height="6" fill="#c10000"/><rect x="0" y="0" width="3.8" height="3" fill="#fff"/><rect x="1.55" y="0.5" width="0.7" height="2" fill="#c10000"/><rect x="0.9" y="1.15" width="2" height="0.7" fill="#c10000"/></g>
<text class="t" transform="translate(160,448.46) rotate(0.1) scale(0.88,1)" font-size="5.45">Tonga</text>
<text class="t" transform="translate(241.3,448.46) rotate(0.1) scale(0.88,1)" font-size="5.45">Nukuʻalofa</text>
<rect x="141.9" y="452.23" width="139.6" height="8.9" fill="url(#c2f2)"/>
<g transform="translate(145.3,453.62) scale(1.01,1.02)"><rect x="0" y="0" width="9" height="6" fill="#5b97b1"/><rect x="0" y="0" width="4.5" height="3" fill="#012169"/><line x1="0" y1="0" x2="4.5" y2="3" stroke="#fff" stroke-width="0.7"/><line x1="0" y1="3" x2="4.5" y2="0" stroke="#fff" stroke-width="0.7"/><line x1="0" y1="0" x2="4.5" y2="3" stroke="#c8102e" stroke-width="0.28"/><line x1="0" y1="3" x2="4.5" y2="0" stroke="#c8102e" stroke-width="0.28"/><rect x="1.75" y="0" width="1" height="3" fill="#fff"/><rect x="0" y="1" width="4.5" height="1" fill="#fff"/><rect x="1.97" y="0" width="0.56" height="3" fill="#c8102e"/><rect x="0" y="1.22" width="4.5" height="0.56" fill="#c8102e"/><polygon points="5.3,4.18 5.4,4.46 5.7,4.47 5.47,4.65 5.55,4.94 5.3,4.78 5.05,4.94 5.13,4.65 4.9,4.47 5.2,4.46" fill="#fff21f"/><polygon points="6,3.08 6.1,3.36 6.4,3.37 6.17,3.55 6.25,3.84 6,3.68 5.75,3.84 5.83,3.55 5.6,3.37 5.9,3.36" fill="#fff21f"/><polygon points="6.6,4.28 6.7,4.56 7,4.57 6.77,4.75 6.85,5.04 6.6,4.88 6.35,5.04 6.43,4.75 6.2,4.57 6.5,4.56" fill="#fff21f"/><polygon points="7,2.18 7.1,2.46 7.4,2.47 7.17,2.65 7.25,2.94 7,2.78 6.75,2.94 6.83,2.65 6.6,2.47 6.9,2.46" fill="#fff21f"/><polygon points="7.5,3.28 7.6,3.56 7.9,3.57 7.67,3.75 7.75,4.04 7.5,3.88 7.25,4.04 7.33,3.75 7.1,3.57 7.4,3.56" fill="#fff21f"/><polygon points="7.9,1.18 8,1.46 8.3,1.47 8.07,1.65 8.15,1.94 7.9,1.78 7.65,1.94 7.73,1.65 7.5,1.47 7.8,1.46" fill="#fff21f"/><polygon points="8.2,2.38 8.3,2.66 8.6,2.67 8.37,2.85 8.45,3.14 8.2,2.98 7.95,3.14 8.03,2.85 7.8,2.67 8.1,2.66" fill="#fff21f"/><polygon points="6.4,1.48 6.5,1.76 6.8,1.77 6.57,1.95 6.65,2.24 6.4,2.08 6.15,2.24 6.23,1.95 6,1.77 6.3,1.76" fill="#fff21f"/><polygon points="8,4.18 8.1,4.46 8.4,4.47 8.17,4.65 8.25,4.94 8,4.78 7.75,4.94 7.83,4.65 7.6,4.47 7.9,4.46" fill="#fff21f"/></g>
<text class="t" transform="translate(160,458.61) rotate(0.1) scale(0.88,1)" font-size="5.45">Tuvalu</text>
<text class="t" transform="translate(241.3,458.61) rotate(0.1) scale(0.88,1)" font-size="5.45">Funafuti</text>
<rect x="141.9" y="462.38" width="139.6" height="8.9" fill="url(#c2f2)"/>
<g transform="translate(145.3,463.77) scale(1.01,1.02)"><rect x="0" y="0" width="9" height="3" fill="#d21034"/><rect x="0" y="3" width="9" height="3" fill="#009543"/><polygon points="0,0 4.3,2.35 9,2.35 9,3.65 4.3,3.65 0,6" fill="#111"/><polygon points="0,0.7 3.9,2.75 9,2.75 9,3.25 3.9,3.25 0,5.3" fill="#fdce12"/><polygon points="0,1.2 3.2,3 0,4.8" fill="#111"/></g>
<text class="t" transform="translate(160,468.76) rotate(0.1) scale(0.88,1)" font-size="5.45">Vanuatu</text>
<text class="t" transform="translate(241.3,468.76) rotate(0.1) scale(0.88,1)" font-size="5.45">Port Vila</text>
<rect x="0.3" y="0.3" width="281.9" height="471.9" fill="none" stroke="#1a1a1a" stroke-opacity="0.55" stroke-width="0.6"/>
</g></svg></div>
<div class="chart" id="c3" style="left:411px;top:235px;width:284px;height:475px">
<svg width="284" height="475" viewBox="0 0 284 475">
<defs>
<linearGradient id="g3" x1="0" y1="0" x2="1" y2="0"><stop offset="0" stop-color="#8e0e1b"/><stop offset="0.25" stop-color="#a81120"/><stop offset="0.5" stop-color="#8e0e1b"/><stop offset="0.75" stop-color="#760b16"/><stop offset="1" stop-color="#600912"/></linearGradient><linearGradient id="g3v" x1="0" y1="0" x2="0" y2="1"><stop offset="0" stop-color="#2a0206" stop-opacity="0.55"/><stop offset="0.3" stop-color="#2a0206" stop-opacity="0"/><stop offset="0.75" stop-color="#2a0206" stop-opacity="0"/><stop offset="1" stop-color="#2a0206" stop-opacity="0.35"/></linearGradient><filter id="t3" x="0" y="0" width="100%" height="100%" color-interpolation-filters="sRGB"><feTurbulence type="fractalNoise" baseFrequency="0.03 0.07" numOctaves="3" seed="11" result="n"/><feColorMatrix type="matrix" values="0 0 0 0 0.25  0 0 0 0 0.0  0 0 0 0 0.03  0 0 0 2.6 -1.15"/></filter>
<linearGradient id="c3f0" x1="0" y1="0" x2="1" y2="0"><stop offset="0" stop-color="#fdf5de"/><stop offset="1" stop-color="#fef9ea"/></linearGradient>
<linearGradient id="c3f1" x1="0" y1="0" x2="1" y2="0"><stop offset="0" stop-color="#fdf5de"/><stop offset="1" stop-color="#fef9ea"/></linearGradient>
<linearGradient id="c3f2" x1="0" y1="0" x2="1" y2="0"><stop offset="0" stop-color="#e3edfa"/><stop offset="1" stop-color="#f1f6fd"/></linearGradient>
<filter id="c3sh" filterUnits="userSpaceOnUse" x="-50" y="-50" width="383.4" height="574.9"><feGaussianBlur stdDeviation="6.5"/></filter>
</defs>
<g transform="translate(0.6,0)">
<rect x="6" y="8" width="283.4" height="474.9" fill="#000" fill-opacity="0.5" filter="url(#c3sh)"/>
<rect x="0" y="0" width="283.4" height="474.9" fill="#3c3c3c"/>
<g><rect width="283.4" height="54.5" fill="url(#g3)"/><rect width="283.4" height="54.5" filter="url(#t3)"/><rect width="283.4" height="54.5" fill="url(#g3v)"/></g>
<text class="ttl" x="51.1" y="21.4" font-size="18.5" textLength="182.2" lengthAdjust="spacingAndGlyphs">Countries &amp; Capitals</text>
<text class="ttl" x="61.7" y="44.1" font-size="14.5" textLength="163.6" lengthAdjust="spacingAndGlyphs">Asia and North America</text>
<rect x="0" y="54.5" width="283.4" height="9.8" fill="#5e5e5e"/>
<rect x="0" y="54.3" width="283.4" height="0.9" fill="#333"/>
<rect x="140.15" y="55.1" width="1.7" height="9.8" fill="#3c3c3c"/>
<text class="hd" transform="translate(21.4,61.27) scale(0.9,1)" font-size="5.2">Country</text>
<text class="hd" transform="translate(89.8,61.27) scale(0.9,1)" font-size="5.2">Capital city</text>
<text class="hd" transform="translate(162.6,61.27) scale(0.9,1)" font-size="5.2">Country</text>
<text class="hd" transform="translate(238.7,61.27) scale(0.9,1)" font-size="5.2">Capital city</text>
<rect x="1" y="64.88" width="139.15" height="8.4" fill="url(#c3f0)"/>
<g transform="translate(3.5,66.22) scale(1.1,0.95)"><rect x="0" y="0" width="3.02" height="6" fill="#111"/><rect x="3" y="0" width="3.02" height="6" fill="#d32011"/><rect x="6" y="0" width="3.02" height="6" fill="#007a36"/><circle cx="4.5" cy="3" r="1.05" fill="#fff"/><circle cx="4.5" cy="3" r="0.6" fill="#d32011"/></g>
<text class="t" transform="translate(20.1,70.96) rotate(0.1) scale(0.92,1)" font-size="5.3">Afghanistan</text>
<text class="t" transform="translate(89.9,70.96) rotate(0.1) scale(0.92,1)" font-size="5.3">Kabul</text>
<rect x="1" y="74.42" width="139.15" height="8.4" fill="url(#c3f0)"/>
<g transform="translate(3.5,75.77) scale(1.1,0.95)"><rect x="0" y="0" width="9" height="2.02" fill="#d90012"/><rect x="0" y="2" width="9" height="2.02" fill="#0033a0"/><rect x="0" y="4" width="9" height="2.02" fill="#f2a800"/></g>
<text class="t" transform="translate(20.1,80.5) rotate(0.1) scale(0.92,1)" font-size="5.3">Armenia</text>
<text class="t" transform="translate(89.9,80.5) rotate(0.1) scale(0.92,1)" font-size="5.3">Yerevan</text>
<rect x="1" y="83.97" width="139.15" height="8.4" fill="url(#c3f0)"/>
<g transform="translate(3.5,85.32) scale(1.1,0.95)"><rect x="0" y="0" width="9" height="6" fill="#ce1126"/><polygon points="0,0 2.2,0 3.2,0.6 2.2,1.2 3.2,1.8 2.2,2.4 3.2,3 2.2,3.6 3.2,4.2 2.2,4.8 3.2,5.4 2.2,6 0,6" fill="#fff"/></g>
<text class="t" transform="translate(20.1,90.05) rotate(0.1) scale(0.92,1)" font-size="5.3">Bahrain</text>
<text class="t" transform="translate(89.9,90.05) rotate(0.1) scale(0.92,1)" font-size="5.3">Manama</text>
<rect x="1" y="93.52" width="139.15" height="8.4" fill="url(#c3f0)"/>
<g transform="translate(3.5,94.87) scale(1.1,0.95)"><rect x="0" y="0" width="9" height="6" fill="#006a4e"/><circle cx="4" cy="3" r="1.8" fill="#f42a41"/></g>
<text class="t" transform="translate(20.1,99.6) rotate(0.1) scale(0.92,1)" font-size="5.3">Bangladesh</text>
<text class="t" transform="translate(89.9,99.6) rotate(0.1) scale(0.92,1)" font-size="5.3">Dhaka</text>
<rect x="1" y="103.07" width="139.15" height="8.4" fill="url(#c3f0)"/>
<g transform="translate(3.5,104.42) scale(1.1,0.95)"><polygon points="0,0 9,0 0,6" fill="#ffcc33"/><polygon points="9,0 9,6 0,6" fill="#ff4e12"/><line x1="1.8" y1="4.8" x2="7.2" y2="1.2" stroke="#fff" stroke-width="1"/></g>
<text class="t" transform="translate(20.1,109.15) rotate(0.1) scale(0.92,1)" font-size="5.3">Bhutan</text>
<text class="t" transform="translate(89.9,109.15) rotate(0.1) scale(0.92,1)" font-size="5.3">Thimphu</text>
<rect x="1" y="112.62" width="139.15" height="8.4" fill="url(#c3f0)"/>
<g transform="translate(3.5,113.96) scale(1.1,0.95)"><rect x="0" y="0" width="9" height="0.52" fill="#fff"/><rect x="0" y="0.5" width="9" height="0.52" fill="#000063"/><rect x="0" y="1" width="9" height="0.52" fill="#fff"/><rect x="0" y="1.5" width="9" height="0.52" fill="#000063"/><rect x="0" y="2" width="9" height="0.52" fill="#fff"/><rect x="0" y="2.5" width="9" height="0.52" fill="#000063"/><rect x="0" y="3" width="9" height="0.52" fill="#fff"/><rect x="0" y="3.5" width="9" height="0.52" fill="#000063"/><rect x="0" y="4" width="9" height="0.52" fill="#fff"/><rect x="0" y="4.5" width="9" height="0.52" fill="#000063"/><rect x="0" y="5" width="9" height="0.52" fill="#fff"/><rect x="0" y="5.5" width="9" height="0.52" fill="#000063"/><rect x="0" y="0" width="4.5" height="3" fill="#012169"/><line x1="0" y1="0" x2="4.5" y2="3" stroke="#fff" stroke-width="0.7"/><line x1="0" y1="3" x2="4.5" y2="0" stroke="#fff" stroke-width="0.7"/><line x1="0" y1="0" x2="4.5" y2="3" stroke="#c8102e" stroke-width="0.28"/><line x1="0" y1="3" x2="4.5" y2="0" stroke="#c8102e" stroke-width="0.28"/><rect x="1.75" y="0" width="1" height="3" fill="#fff"/><rect x="0" y="1" width="4.5" height="1" fill="#fff"/><rect x="1.97" y="0" width="0.56" height="3" fill="#c8102e"/><rect x="0" y="1.22" width="4.5" height="0.56" fill="#c8102e"/><rect x="6.2" y="1.2" width="0.45" height="3.6" fill="#8a6a2a"/><circle cx="6.4" cy="1.5" r="0.9" fill="#2e7d32"/></g>
<text class="t" transform="translate(20.1,118.7) rotate(0.1) scale(0.92,1)" font-size="5.3">British Indian Ocean Territory</text>
<text class="t" transform="translate(89.9,118.7) rotate(0.1) scale(0.92,1)" font-size="5.3">Diego Garcia</text>
<rect x="1" y="122.16" width="139.15" height="8.4" fill="url(#c3f0)"/>
<g transform="translate(3.5,123.51) scale(1.1,0.95)"><rect x="0" y="0" width="9" height="6" fill="#f7e017"/><polygon points="0,0.9 9,3.5 9,4.7 0,2.1" fill="#fff"/><polygon points="0,2.1 9,4.7 9,5.6 0,3" fill="#111"/><circle cx="4.5" cy="3" r="1.1" fill="#cf1126"/><rect x="4.25" y="1.3" width="0.5" height="2.9" fill="#cf1126"/></g>
<text class="t" transform="translate(20.1,128.24) rotate(0.1) scale(0.92,1)" font-size="5.3">Brunei</text>
<text class="t" transform="translate(89.9,128.24) rotate(0.1) scale(0.92,1)" font-size="5.3">Bandar Seri Begawan</text>
<rect x="1" y="131.71" width="139.15" height="8.4" fill="url(#c3f0)"/>
<g transform="translate(3.5,133.06) scale(1.1,0.95)"><rect x="0" y="0" width="9" height="1.52" fill="#032ea1"/><rect x="0" y="1.5" width="9" height="3.02" fill="#e00025"/><rect x="0" y="4.5" width="9" height="1.52" fill="#032ea1"/><rect x="3" y="2.9" width="3" height="1.1" fill="#fff"/><polygon points="3.3,2.9 3.6,2.1 3.9,2.9" fill="#fff"/><polygon points="4.1,2.9 4.5,1.8 4.9,2.9" fill="#fff"/><polygon points="5.1,2.9 5.4,2.1 5.7,2.9" fill="#fff"/></g>
<text class="t" transform="translate(20.1,137.79) rotate(0.1) scale(0.92,1)" font-size="5.3">Cambodia</text>
<text class="t" transform="translate(89.9,137.79) rotate(0.1) scale(0.92,1)" font-size="5.3">Phnom Penh</text>
<rect x="1" y="141.26" width="139.15" height="8.4" fill="url(#c3f0)"/>
<g transform="translate(3.5,142.61) scale(1.1,0.95)"><rect x="0" y="0" width="9" height="6" fill="#de2910"/><polygon points="1.6,0.65 1.83,1.28 2.5,1.31 1.98,1.72 2.16,2.37 1.6,2 1.04,2.37 1.22,1.72 0.7,1.31 1.37,1.28" fill="#ffde00"/><polygon points="3.1,0.3 3.17,0.5 3.39,0.51 3.22,0.64 3.28,0.84 3.1,0.73 2.92,0.84 2.98,0.64 2.81,0.51 3.03,0.5" fill="#ffde00"/><polygon points="3.7,1 3.77,1.2 3.99,1.21 3.82,1.34 3.88,1.54 3.7,1.43 3.52,1.54 3.58,1.34 3.41,1.21 3.63,1.2" fill="#ffde00"/><polygon points="3.7,1.9 3.77,2.1 3.99,2.11 3.82,2.24 3.88,2.44 3.7,2.33 3.52,2.44 3.58,2.24 3.41,2.11 3.63,2.1" fill="#ffde00"/><polygon points="3.1,2.6 3.17,2.8 3.39,2.81 3.22,2.94 3.28,3.14 3.1,3.03 2.92,3.14 2.98,2.94 2.81,2.81 3.03,2.8" fill="#ffde00"/></g>
<text class="t" transform="translate(20.1,147.34) rotate(0.1) scale(0.92,1)" font-size="5.3">China</text>
<text class="t" transform="translate(89.9,147.34) rotate(0.1) scale(0.92,1)" font-size="5.3">Beijing</text>
<rect x="1" y="150.81" width="139.15" height="8.4" fill="url(#c3f0)"/>
<g transform="translate(3.5,152.16) scale(1.1,0.95)"><polygon points="0,0 9,6 0,6" fill="#0021ad"/><polygon points="0,0 9,0 9,6" fill="#1c8a42"/><circle cx="4.5" cy="3" r="0.95" fill="#ffc639"/><polygon points="5.6,1.2 7.6,1 8.2,2.2 7,2 6.4,2.6" fill="#ffc639"/><polygon points="1.6,4.5 1.7,4.76 1.98,4.78 1.76,4.95 1.84,5.22 1.6,5.07 1.36,5.22 1.44,4.95 1.22,4.78 1.5,4.76" fill="#fff"/><polygon points="1,3.2 1.1,3.46 1.38,3.48 1.16,3.65 1.24,3.92 1,3.77 0.76,3.92 0.84,3.65 0.62,3.48 0.9,3.46" fill="#fff"/><polygon points="2.4,3.45 2.49,3.68 2.73,3.69 2.54,3.85 2.61,4.08 2.4,3.95 2.19,4.08 2.26,3.85 2.07,3.69 2.31,3.68" fill="#fff"/><polygon points="1.7,2.35 1.79,2.58 2.03,2.59 1.84,2.75 1.91,2.98 1.7,2.85 1.49,2.98 1.56,2.75 1.37,2.59 1.61,2.58" fill="#fff"/></g>
<text class="t" transform="translate(20.1,156.89) rotate(0.1) scale(0.92,1)" font-size="5.3">Christmas Island</text>
<text class="t" transform="translate(89.9,156.89) rotate(0.1) scale(0.92,1)" font-size="5.3">Flying Fish Cove</text>
<rect x="1" y="160.36" width="139.15" height="8.4" fill="url(#c3f0)"/>
<g transform="translate(3.5,161.7) scale(1.1,0.95)"><rect x="0" y="0" width="9" height="6" fill="#008000"/><circle cx="1.8" cy="1.7" r="1.1" fill="#ffe000"/><rect x="1.65" y="1" width="0.3" height="1.4" fill="#7a4a21"/><circle cx="4.6" cy="3" r="1.2" fill="#ffe000"/><circle cx="5.1" cy="3" r="0.96" fill="#008000"/><polygon points="6.9,0.8 7,1.06 7.28,1.08 7.06,1.25 7.14,1.52 6.9,1.37 6.66,1.52 6.74,1.25 6.52,1.08 6.8,1.06" fill="#ffe000"/><polygon points="6.9,4.4 7,4.66 7.28,4.68 7.06,4.85 7.14,5.12 6.9,4.97 6.66,5.12 6.74,4.85 6.52,4.68 6.8,4.66" fill="#ffe000"/><polygon points="6.1,2.45 6.19,2.68 6.43,2.69 6.24,2.85 6.31,3.08 6.1,2.95 5.89,3.08 5.96,2.85 5.77,2.69 6.01,2.68" fill="#ffe000"/><polygon points="7.8,2.25 7.89,2.48 8.13,2.49 7.94,2.65 8.01,2.88 7.8,2.75 7.59,2.88 7.66,2.65 7.47,2.49 7.71,2.48" fill="#ffe000"/></g>
<text class="t" transform="translate(20.1,166.44) rotate(0.1) scale(0.92,1)" font-size="5.3">Cocos (Keeling) Islands</text>
<text class="t" transform="translate(89.9,166.44) rotate(0.1) scale(0.92,1)" font-size="5.3">West Island</text>
<rect x="1" y="169.9" width="139.15" height="8.4" fill="url(#c3f0)"/>
<g transform="translate(3.5,171.25) scale(1.1,0.95)"><rect x="0" y="0" width="9" height="6" fill="#dc241f"/><polygon points="0,0 4.5,3 0,6" fill="#ffc726"/><polygon points="0,0 3,3 0,6" fill="#111"/><polygon points="1,2.25 1.19,2.75 1.71,2.77 1.3,3.1 1.44,3.61 1,3.31 0.56,3.61 0.7,3.1 0.29,2.77 0.81,2.75" fill="#fff"/></g>
<text class="t" transform="translate(20.1,175.98) rotate(0.1) scale(0.92,1)" font-size="5.3">East Timor (Timor-Leste)</text>
<text class="t" transform="translate(89.9,175.98) rotate(0.1) scale(0.92,1)" font-size="5.3">Dili</text>
<rect x="1" y="179.45" width="139.15" height="8.4" fill="url(#c3f0)"/>
<g transform="translate(3.5,180.8) scale(1.1,0.95)"><rect x="0" y="0" width="9" height="6" fill="#de2910"/><ellipse cx="4.5" cy="2.05" rx="0.55" ry="1.0" fill="#fff" transform="rotate(0 4.5 3)"/><ellipse cx="4.5" cy="2.05" rx="0.55" ry="1.0" fill="#fff" transform="rotate(72 4.5 3)"/><ellipse cx="4.5" cy="2.05" rx="0.55" ry="1.0" fill="#fff" transform="rotate(144 4.5 3)"/><ellipse cx="4.5" cy="2.05" rx="0.55" ry="1.0" fill="#fff" transform="rotate(216 4.5 3)"/><ellipse cx="4.5" cy="2.05" rx="0.55" ry="1.0" fill="#fff" transform="rotate(288 4.5 3)"/></g>
<text class="t" transform="translate(20.1,185.53) rotate(0.1) scale(0.92,1)" font-size="5.3">Hong Kong</text>
<text class="t" transform="translate(89.9,185.53) rotate(0.1) scale(0.92,1)" font-size="5.3">--</text>
<rect x="1" y="189" width="139.15" height="8.4" fill="url(#c3f0)"/>
<g transform="translate(3.5,190.35) scale(1.1,0.95)"><rect x="0" y="0" width="9" height="2.02" fill="#ff9933"/><rect x="0" y="2" width="9" height="2.02" fill="#fff"/><rect x="0" y="4" width="9" height="2.02" fill="#138808"/><circle cx="4.5" cy="3" r="0.8" fill="#000080"/><circle cx="4.5" cy="3" r="0.5" fill="#fff"/></g>
<text class="t" transform="translate(20.1,195.08) rotate(0.1) scale(0.92,1)" font-size="5.3">India</text>
<text class="t" transform="translate(89.9,195.08) rotate(0.1) scale(0.92,1)" font-size="5.3">New Delhi</text>
<rect x="1" y="198.55" width="139.15" height="8.4" fill="url(#c3f0)"/>
<g transform="translate(3.5,199.9) scale(1.1,0.95)"><rect x="0" y="0" width="9" height="3.02" fill="#ff0000"/><rect x="0" y="3" width="9" height="3.02" fill="#fff"/></g>
<text class="t" transform="translate(20.1,204.63) rotate(0.1) scale(0.92,1)" font-size="5.3">Indonesia</text>
<text class="t" transform="translate(89.9,204.63) rotate(0.1) scale(0.92,1)" font-size="5.3">Jakarta</text>
<rect x="1" y="208.09" width="139.15" height="8.4" fill="url(#c3f0)"/>
<g transform="translate(3.5,209.44) scale(1.1,0.95)"><rect x="0" y="0" width="9" height="2.02" fill="#239f40"/><rect x="0" y="2" width="9" height="2.02" fill="#fff"/><rect x="0" y="4" width="9" height="2.02" fill="#da0000"/><circle cx="4.5" cy="3" r="0.65" fill="#da0000"/></g>
<text class="t" transform="translate(20.1,214.18) rotate(0.1) scale(0.92,1)" font-size="5.3">Iran</text>
<text class="t" transform="translate(89.9,214.18) rotate(0.1) scale(0.92,1)" font-size="5.3">Tehran</text>
<rect x="1" y="217.64" width="139.15" height="8.4" fill="url(#c3f0)"/>
<g transform="translate(3.5,218.99) scale(1.1,0.95)"><rect x="0" y="0" width="9" height="2.02" fill="#ce1126"/><rect x="0" y="2" width="9" height="2.02" fill="#fff"/><rect x="0" y="4" width="9" height="2.02" fill="#111"/><rect x="3" y="2.6" width="3" height="0.8" fill="#007a3d"/></g>
<text class="t" transform="translate(20.1,223.72) rotate(0.1) scale(0.92,1)" font-size="5.3">Iraq</text>
<text class="t" transform="translate(89.9,223.72) rotate(0.1) scale(0.92,1)" font-size="5.3">Baghdad</text>
<rect x="1" y="227.19" width="139.15" height="8.4" fill="url(#c3f0)"/>
<g transform="translate(3.5,228.54) scale(1.1,0.95)"><rect x="0" y="0" width="9" height="6" fill="#fff"/><rect x="0" y="0.7" width="9" height="0.9" fill="#0038b8"/><rect x="0" y="4.4" width="9" height="0.9" fill="#0038b8"/><polygon points="4.5,2 5.4,3.5 3.6,3.5" fill="#0038b8"/><polygon points="4.5,4 5.4,2.5 3.6,2.5" fill="#0038b8"/><circle cx="4.5" cy="3" r="0.45" fill="#fff"/></g>
<text class="t" transform="translate(20.1,233.27) rotate(0.1) scale(0.92,1)" font-size="5.3">Israel</text>
<text class="t" transform="translate(89.9,233.27) rotate(0.1) scale(0.92,1)" font-size="5.3">Jerusalem</text>
<rect x="1" y="236.74" width="139.15" height="8.4" fill="url(#c3f0)"/>
<g transform="translate(3.5,238.09) scale(1.1,0.95)"><rect x="0" y="0" width="9" height="6" fill="#fff"/><circle cx="4.5" cy="3" r="1.8" fill="#bc002d"/></g>
<text class="t" transform="translate(20.1,242.82) rotate(0.1) scale(0.92,1)" font-size="5.3">Japan</text>
<text class="t" transform="translate(89.9,242.82) rotate(0.1) scale(0.92,1)" font-size="5.3">Tokyo</text>
<rect x="1" y="246.29" width="139.15" height="8.4" fill="url(#c3f0)"/>
<g transform="translate(3.5,247.64) scale(1.1,0.95)"><rect x="0" y="0" width="9" height="2.02" fill="#111"/><rect x="0" y="2" width="9" height="2.02" fill="#fff"/><rect x="0" y="4" width="9" height="2.02" fill="#007a3d"/><polygon points="0,0 4.5,3 0,6" fill="#ce1126"/><polygon points="1.5,2.5 1.62,2.83 1.98,2.85 1.7,3.06 1.79,3.4 1.5,3.21 1.21,3.4 1.3,3.06 1.02,2.85 1.38,2.83" fill="#fff"/></g>
<text class="t" transform="translate(20.1,252.37) rotate(0.1) scale(0.92,1)" font-size="5.3">Jordan</text>
<text class="t" transform="translate(89.9,252.37) rotate(0.1) scale(0.92,1)" font-size="5.3">Amman</text>
<rect x="1" y="255.84" width="139.15" height="8.4" fill="url(#c3f0)"/>
<g transform="translate(3.5,257.18) scale(1.1,0.95)"><rect x="0" y="0" width="9" height="6" fill="#00afca"/><circle cx="4.7" cy="2.6" r="1.1" fill="#fec50c"/><polygon points="2.8,3.6 4.7,4.6 6.6,3.6 4.7,4" fill="#fec50c"/><rect x="0.5" y="0.4" width="0.6" height="5.2" fill="#fec50c"/></g>
<text class="t" transform="translate(20.1,261.92) rotate(0.1) scale(0.92,1)" font-size="5.3">Kazakhstan</text>
<text class="t" transform="translate(89.9,261.92) rotate(0.1) scale(0.92,1)" font-size="5.3">Astana</text>
<rect x="1" y="265.38" width="139.15" height="8.4" fill="url(#c3f0)"/>
<g transform="translate(3.5,266.73) scale(1.1,0.95)"><rect x="0" y="0" width="9" height="2.02" fill="#007a3d"/><rect x="0" y="2" width="9" height="2.02" fill="#fff"/><rect x="0" y="4" width="9" height="2.02" fill="#ce1126"/><polygon points="0,0 2.3,2 2.3,4 0,6" fill="#111"/></g>
<text class="t" transform="translate(20.1,271.46) rotate(0.1) scale(0.92,1)" font-size="5.3">Kuwait</text>
<text class="t" transform="translate(89.9,271.46) rotate(0.1) scale(0.92,1)" font-size="5.3">Kuwait City</text>
<rect x="1" y="274.93" width="139.15" height="8.4" fill="url(#c3f0)"/>
<g transform="translate(3.5,276.28) scale(1.1,0.95)"><rect x="0" y="0" width="9" height="6" fill="#e8112d"/><polygon points="4.5,1.1 4.97,2.35 6.31,2.41 5.26,3.25 5.62,4.54 4.5,3.8 3.38,4.54 3.74,3.25 2.69,2.41 4.03,2.35" fill="#ffef00"/><circle cx="4.5" cy="3" r="1.25" fill="#ffef00"/><circle cx="4.5" cy="3" r="0.75" fill="#e8112d"/><circle cx="4.5" cy="3" r="0.5" fill="#ffef00"/></g>
<text class="t" transform="translate(20.1,281.01) rotate(0.1) scale(0.92,1)" font-size="5.3">Kyrgyzstan</text>
<text class="t" transform="translate(89.9,281.01) rotate(0.1) scale(0.92,1)" font-size="5.3">Bishkek</text>
<rect x="1" y="284.48" width="139.15" height="8.4" fill="url(#c3f0)"/>
<g transform="translate(3.5,285.83) scale(1.1,0.95)"><rect x="0" y="0" width="9" height="1.52" fill="#ce1126"/><rect x="0" y="1.5" width="9" height="3.02" fill="#002868"/><rect x="0" y="4.5" width="9" height="1.52" fill="#ce1126"/><circle cx="4.5" cy="3" r="1.2" fill="#fff"/></g>
<text class="t" transform="translate(20.1,290.56) rotate(0.1) scale(0.92,1)" font-size="5.3">Laos</text>
<text class="t" transform="translate(89.9,290.56) rotate(0.1) scale(0.92,1)" font-size="5.3">Vientiane</text>
<rect x="1" y="294.03" width="139.15" height="8.4" fill="url(#c3f0)"/>
<g transform="translate(3.5,295.38) scale(1.1,0.95)"><rect x="0" y="0" width="9" height="1.52" fill="#ed1c24"/><rect x="0" y="1.5" width="9" height="3.02" fill="#fff"/><rect x="0" y="4.5" width="9" height="1.52" fill="#ed1c24"/><polygon points="4.5,1.6 6.1,4.1 4.8,4.1 4.8,4.5 4.2,4.5 4.2,4.1 2.9,4.1" fill="#00a651"/></g>
<text class="t" transform="translate(20.1,300.11) rotate(0.1) scale(0.92,1)" font-size="5.3">Lebanon</text>
<text class="t" transform="translate(89.9,300.11) rotate(0.1) scale(0.92,1)" font-size="5.3">Beirut</text>
<rect x="1" y="303.57" width="139.15" height="8.4" fill="url(#c3f0)"/>
<g transform="translate(3.5,304.92) scale(1.1,0.95)"><rect x="0" y="0" width="9" height="6" fill="#00785e"/><polygon points="4.5,2.2 5.4,3.6 6,3.3 5.6,4.1 3.4,4.1 3,3.3 3.6,3.6" fill="#fff"/><rect x="3.2" y="4.4" width="2.6" height="0.35" fill="#fff"/><polygon points="4.5,0.8 4.62,1.13 4.98,1.15 4.7,1.36 4.79,1.7 4.5,1.51 4.21,1.7 4.3,1.36 4.02,1.15 4.38,1.13" fill="#fbd116"/><polygon points="3.3,1.35 3.39,1.58 3.63,1.59 3.44,1.75 3.51,1.98 3.3,1.85 3.09,1.98 3.16,1.75 2.97,1.59 3.21,1.58" fill="#fbd116"/><polygon points="5.7,1.35 5.79,1.58 6.03,1.59 5.84,1.75 5.91,1.98 5.7,1.85 5.49,1.98 5.56,1.75 5.37,1.59 5.61,1.58" fill="#fbd116"/></g>
<text class="t" transform="translate(20.1,309.66) rotate(0.1) scale(0.92,1)" font-size="5.3">Macau</text>
<text class="t" transform="translate(89.9,309.66) rotate(0.1) scale(0.92,1)" font-size="5.3">--</text>
<rect x="1" y="313.12" width="139.15" height="8.4" fill="url(#c3f0)"/>
<g transform="translate(3.5,314.47) scale(1.1,0.95)"><rect x="0" y="0" width="9" height="0.45" fill="#cc0001"/><rect x="0" y="0.43" width="9" height="0.45" fill="#fff"/><rect x="0" y="0.86" width="9" height="0.45" fill="#cc0001"/><rect x="0" y="1.29" width="9" height="0.45" fill="#fff"/><rect x="0" y="1.71" width="9" height="0.45" fill="#cc0001"/><rect x="0" y="2.14" width="9" height="0.45" fill="#fff"/><rect x="0" y="2.57" width="9" height="0.45" fill="#cc0001"/><rect x="0" y="3" width="9" height="0.45" fill="#fff"/><rect x="0" y="3.43" width="9" height="0.45" fill="#cc0001"/><rect x="0" y="3.86" width="9" height="0.45" fill="#fff"/><rect x="0" y="4.29" width="9" height="0.45" fill="#cc0001"/><rect x="0" y="4.71" width="9" height="0.45" fill="#fff"/><rect x="0" y="5.14" width="9" height="0.45" fill="#cc0001"/><rect x="0" y="5.57" width="9" height="0.45" fill="#fff"/><rect x="0" y="0" width="4.5" height="3.43" fill="#010066"/><circle cx="2" cy="1.7" r="1.1" fill="#fc0"/><circle cx="2.46" cy="1.7" r="0.88" fill="#010066"/><polygon points="3.2,1.1 3.35,1.5 3.77,1.51 3.44,1.78 3.55,2.19 3.2,1.95 2.85,2.19 2.96,1.78 2.63,1.51 3.05,1.5" fill="#fc0"/></g>
<text class="t" transform="translate(20.1,319.2) rotate(0.1) scale(0.92,1)" font-size="5.3">Malaysia</text>
<text class="t" transform="translate(89.9,319.2) rotate(0.1) scale(0.92,1)" font-size="5.3">Kuala Lumpur</text>
<rect x="1" y="322.67" width="139.15" height="8.4" fill="url(#c3f0)"/>
<g transform="translate(3.5,324.02) scale(1.1,0.95)"><rect x="0" y="0" width="9" height="6" fill="#d21034"/><rect x="1.5" y="1.5" width="6" height="3" fill="#007e3a"/><circle cx="4.7" cy="3" r="0.95" fill="#fff"/><circle cx="5.16" cy="3" r="0.76" fill="#007e3a"/></g>
<text class="t" transform="translate(20.1,328.75) rotate(0.1) scale(0.92,1)" font-size="5.3">Maldives</text>
<text class="t" transform="translate(89.9,328.75) rotate(0.1) scale(0.92,1)" font-size="5.3">Malé</text>
<rect x="1" y="332.22" width="139.15" height="8.4" fill="url(#c3f0)"/>
<g transform="translate(3.5,333.57) scale(1.1,0.95)"><rect x="0" y="0" width="3.02" height="6" fill="#c4272f"/><rect x="3" y="0" width="3.02" height="6" fill="#015197"/><rect x="6" y="0" width="3.02" height="6" fill="#c4272f"/><rect x="1.1" y="1.4" width="0.8" height="3.4" fill="#f9cf02"/><circle cx="1.5" cy="1" r="0.45" fill="#f9cf02"/></g>
<text class="t" transform="translate(20.1,338.3) rotate(0.1) scale(0.92,1)" font-size="5.3">Mongolia</text>
<text class="t" transform="translate(89.9,338.3) rotate(0.1) scale(0.92,1)" font-size="5.3">Ulaanbaatar</text>
<rect x="1" y="341.77" width="139.15" height="8.4" fill="url(#c3f0)"/>
<g transform="translate(3.5,343.12) scale(1.1,0.95)"><rect x="0" y="0" width="9" height="2.02" fill="#fecb00"/><rect x="0" y="2" width="9" height="2.02" fill="#34b233"/><rect x="0" y="4" width="9" height="2.02" fill="#ea2839"/><polygon points="4.5,1.2 4.97,2.45 6.31,2.51 5.26,3.35 5.62,4.64 4.5,3.9 3.38,4.64 3.74,3.35 2.69,2.51 4.03,2.45" fill="#fff"/></g>
<text class="t" transform="translate(20.1,347.85) rotate(0.1) scale(0.92,1)" font-size="5.3">Myanmar (Burma)</text>
<text class="t" transform="translate(89.9,347.85) rotate(0.1) scale(0.92,1)" font-size="5.3">Naypyidaw</text>
<rect x="1" y="351.31" width="139.15" height="8.4" fill="url(#c3f0)"/>
<g transform="translate(3.5,352.66) scale(1.1,0.95)"><rect x="0" y="0" width="9" height="2.02" fill="#d90012"/><rect x="0" y="2" width="9" height="2.02" fill="#0033a0"/><rect x="0" y="4" width="9" height="2.02" fill="#f2a800"/><polygon points="9,0 6.2,3 9,6 9,4.6 7.5,3 9,1.4" fill="#fff"/></g>
<text class="t" transform="translate(20.1,357.4) rotate(0.1) scale(0.92,1)" font-size="5.3">Nagorno-Karabakh</text>
<text class="t" transform="translate(89.9,357.4) rotate(0.1) scale(0.92,1)" font-size="5.3">Stepanakert</text>
<rect x="1" y="360.86" width="139.15" height="8.4" fill="url(#c3f0)"/>
<g transform="translate(3.5,362.21) scale(1.1,0.95)"><polygon points="0.3,0.1 6.6,3 2.6,3 6.6,5.9 0.3,5.9" fill="#003893"/><polygon points="0.75,0.8 4.6,2.6 1.6,2.6 5.2,5.45 0.75,5.45" fill="#dc143c"/><circle cx="2" cy="1.9" r="0.45" fill="#fff"/><circle cx="2" cy="4.3" r="0.6" fill="#fff"/></g>
<text class="t" transform="translate(20.1,366.94) rotate(0.1) scale(0.92,1)" font-size="5.3">Nepal</text>
<text class="t" transform="translate(89.9,366.94) rotate(0.1) scale(0.92,1)" font-size="5.3">Kathmandu</text>
<rect x="1" y="370.41" width="139.15" height="8.4" fill="url(#c3f0)"/>
<g transform="translate(3.5,371.76) scale(1.1,0.95)"><rect x="0" y="0" width="9" height="1.02" fill="#024fa2"/><rect x="0" y="1" width="9" height="0.27" fill="#fff"/><rect x="0" y="1.25" width="9" height="3.52" fill="#ed1c27"/><rect x="0" y="4.75" width="9" height="0.27" fill="#fff"/><rect x="0" y="5" width="9" height="1.02" fill="#024fa2"/><circle cx="3" cy="3" r="1.3" fill="#fff"/><polygon points="3,1.85 3.28,2.61 4.09,2.64 3.46,3.15 3.68,3.93 3,3.48 2.32,3.93 2.54,3.15 1.91,2.64 2.72,2.61" fill="#ed1c27"/></g>
<text class="t" transform="translate(20.1,376.49) rotate(0.1) scale(0.92,1)" font-size="5.3">North Korea</text>
<text class="t" transform="translate(89.9,376.49) rotate(0.1) scale(0.92,1)" font-size="5.3">Pyongyang</text>
<rect x="1" y="379.96" width="139.15" height="8.4" fill="url(#c3f0)"/>
<g transform="translate(3.5,381.31) scale(1.1,0.95)"><rect x="0" y="0" width="9" height="6" fill="#fff"/><rect x="0" y="0.7" width="9" height="0.7" fill="#e30a17"/><rect x="0" y="4.6" width="9" height="0.7" fill="#e30a17"/><circle cx="3.9" cy="3" r="1" fill="#e30a17"/><circle cx="4.32" cy="3" r="0.8" fill="#fff"/><polygon points="5.2,2.5 5.32,2.83 5.68,2.85 5.4,3.06 5.49,3.4 5.2,3.21 4.91,3.4 5,3.06 4.72,2.85 5.08,2.83" fill="#e30a17"/></g>
<text class="t" transform="translate(20.1,386.04) rotate(0.1) scale(0.92,1)" font-size="5.3">Northern Cyprus</text>
<text class="t" transform="translate(89.9,386.04) rotate(0.1) scale(0.92,1)" font-size="5.3">Nicosia</text>
<rect x="1" y="389.51" width="139.15" height="8.4" fill="url(#c3f0)"/>
<g transform="translate(3.5,390.86) scale(1.1,0.95)"><rect x="0" y="0" width="9" height="2.02" fill="#fff"/><rect x="0" y="2" width="9" height="2.02" fill="#db161b"/><rect x="0" y="4" width="9" height="2.02" fill="#008000"/><rect x="0" y="0" width="2.6" height="6" fill="#db161b"/><rect x="0.7" y="0.6" width="1.1" height="1" fill="#fff"/></g>
<text class="t" transform="translate(20.1,395.59) rotate(0.1) scale(0.92,1)" font-size="5.3">Oman</text>
<text class="t" transform="translate(89.9,395.59) rotate(0.1) scale(0.92,1)" font-size="5.3">Muscat</text>
<rect x="1" y="399.06" width="139.15" height="8.4" fill="url(#c3f0)"/>
<g transform="translate(3.5,400.4) scale(1.1,0.95)"><rect x="0" y="0" width="9" height="6" fill="#01411c"/><rect x="0" y="0" width="2.25" height="6" fill="#fff"/><circle cx="5.6" cy="3" r="1.5" fill="#fff"/><circle cx="6.18" cy="3" r="1.2" fill="#01411c"/><polygon points="6.4,1.85 6.54,2.21 6.92,2.23 6.62,2.47 6.72,2.84 6.4,2.63 6.08,2.84 6.18,2.47 5.88,2.23 6.26,2.21" fill="#fff"/></g>
<text class="t" transform="translate(20.1,405.14) rotate(0.1) scale(0.92,1)" font-size="5.3">Pakistan</text>
<text class="t" transform="translate(89.9,405.14) rotate(0.1) scale(0.92,1)" font-size="5.3">Islamabad</text>
<rect x="1" y="408.6" width="139.15" height="8.4" fill="url(#c3f0)"/>
<g transform="translate(3.5,409.95) scale(1.1,0.95)"><rect x="0" y="0" width="9" height="2.02" fill="#111"/><rect x="0" y="2" width="9" height="2.02" fill="#fff"/><rect x="0" y="4" width="9" height="2.02" fill="#007a3d"/><polygon points="0,0 3.2,3 0,6" fill="#ce1126"/></g>
<text class="t" transform="translate(20.1,414.68) rotate(0.1) scale(0.92,1)" font-size="5.3">Palestine</text>
<text class="t" transform="translate(89.9,414.68) rotate(0.1) scale(0.92,1)" font-size="5.3">East Jerusalem</text>
<rect x="1" y="418.15" width="139.15" height="8.4" fill="url(#c3f0)"/>
<g transform="translate(3.5,419.5) scale(1.1,0.95)"><rect x="0" y="0" width="9" height="3.02" fill="#0038a8"/><rect x="0" y="3" width="9" height="3.02" fill="#ce1126"/><polygon points="0,0 4.6,3 0,6" fill="#fff"/><circle cx="1.5" cy="3" r="0.7" fill="#fcd116"/></g>
<text class="t" transform="translate(20.1,424.23) rotate(0.1) scale(0.92,1)" font-size="5.3">Philippines</text>
<text class="t" transform="translate(89.9,424.23) rotate(0.1) scale(0.92,1)" font-size="5.3">Manila</text>
<rect x="1" y="427.7" width="139.15" height="8.4" fill="url(#c3f0)"/>
<g transform="translate(3.5,429.05) scale(1.1,0.95)"><rect x="0" y="0" width="9" height="6" fill="#8a1538"/><polygon points="0,0 2.4,0 3.4,0.33 2.4,0.67 3.4,1 2.4,1.33 3.4,1.67 2.4,2 3.4,2.33 2.4,2.67 3.4,3 2.4,3.33 3.4,3.67 2.4,4 3.4,4.33 2.4,4.67 3.4,5 2.4,5.33 3.4,5.67 2.4,6 0,6" fill="#fff"/></g>
<text class="t" transform="translate(20.1,433.78) rotate(0.1) scale(0.92,1)" font-size="5.3">Qatar</text>
<text class="t" transform="translate(89.9,433.78) rotate(0.1) scale(0.92,1)" font-size="5.3">Doha</text>
<rect x="1" y="437.25" width="139.15" height="8.4" fill="url(#c3f0)"/>
<g transform="translate(3.5,438.6) scale(1.1,0.95)"><rect x="0" y="0" width="9" height="6" fill="#006c35"/><rect x="2.2" y="1.7" width="4.6" height="1.5" fill="#fff" opacity="0.85"/><rect x="2.6" y="4" width="3.8" height="0.35" fill="#fff"/></g>
<text class="t" transform="translate(20.1,443.33) rotate(0.1) scale(0.92,1)" font-size="5.3">Saudi Arabia</text>
<text class="t" transform="translate(89.9,443.33) rotate(0.1) scale(0.92,1)" font-size="5.3">Riyadh</text>
<rect x="1" y="446.8" width="139.15" height="8.4" fill="url(#c3f0)"/>
<g transform="translate(3.5,448.14) scale(1.1,0.95)"><rect x="0" y="0" width="9" height="3.02" fill="#ed2939"/><rect x="0" y="3" width="9" height="3.02" fill="#fff"/><circle cx="1.9" cy="1.5" r="1" fill="#fff"/><circle cx="2.38" cy="1.5" r="0.8" fill="#ed2939"/><polygon points="2.9,0.7 2.97,0.9 3.19,0.91 3.02,1.04 3.08,1.24 2.9,1.13 2.72,1.24 2.78,1.04 2.61,0.91 2.83,0.9" fill="#fff"/><polygon points="3.4,1.3 3.47,1.5 3.69,1.51 3.52,1.64 3.58,1.84 3.4,1.73 3.22,1.84 3.28,1.64 3.11,1.51 3.33,1.5" fill="#fff"/><polygon points="2.6,1.9 2.67,2.1 2.89,2.11 2.72,2.24 2.78,2.44 2.6,2.33 2.42,2.44 2.48,2.24 2.31,2.11 2.53,2.1" fill="#fff"/></g>
<text class="t" transform="translate(20.1,452.88) rotate(0.1) scale(0.92,1)" font-size="5.3">Singapore</text>
<text class="t" transform="translate(89.9,452.88) rotate(0.1) scale(0.92,1)" font-size="5.3">Singapore</text>
<rect x="1" y="456.34" width="139.15" height="8.4" fill="url(#c3f0)"/>
<g transform="translate(3.5,457.69) scale(1.1,0.95)"><rect x="0" y="0" width="9" height="6" fill="#fff"/><circle cx="4.5" cy="3" r="1.45" fill="#cd2e3a"/><path d="M3.05 3 A1.45 1.45 0 0 0 5.95 3 A0.725 0.725 0 0 0 4.5 3 A0.725 0.725 0 0 1 3.05 3Z" fill="#0047a0" transform="rotate(33 4.5 3)"/><line x1="1.5" y1="1.6" x2="2.5" y2="0.5" stroke="#111" stroke-width="0.7"/><line x1="6.5" y1="0.5" x2="7.5" y2="1.6" stroke="#111" stroke-width="0.7"/><line x1="1.5" y1="4.4" x2="2.5" y2="5.5" stroke="#111" stroke-width="0.7"/><line x1="6.5" y1="5.5" x2="7.5" y2="4.4" stroke="#111" stroke-width="0.7"/></g>
<text class="t" transform="translate(20.1,462.42) rotate(0.1) scale(0.92,1)" font-size="5.3">South Korea</text>
<text class="t" transform="translate(89.9,462.42) rotate(0.1) scale(0.92,1)" font-size="5.3">Seoul</text>
<rect x="1" y="465.89" width="139.15" height="8.4" fill="url(#c3f0)"/>
<g transform="translate(3.5,467.24) scale(1.1,0.95)"><rect x="0" y="0" width="9" height="6" fill="#ffbe29"/><rect x="0.45" y="0.45" width="0.95" height="5.1" fill="#00534e"/><rect x="1.4" y="0.45" width="0.95" height="5.1" fill="#eb7400"/><rect x="2.8" y="0.45" width="5.75" height="5.1" fill="#8d153a"/><polygon points="4,4.4 4.4,2.2 6.2,1.6 7.4,2.4 7,4.4 6.2,3.4 5,3.6 4.8,4.4" fill="#ffbe29"/></g>
<text class="t" transform="translate(20.1,471.97) rotate(0.1) scale(0.92,1)" font-size="5.3">Sri Lanka</text>
<text class="t" transform="translate(89.9,471.97) rotate(0.1) scale(0.92,1)" font-size="5.3">Colombo</text>
<rect x="141.85" y="64.88" width="140.55" height="8.4" fill="url(#c3f1)"/>
<g transform="translate(145.7,66.22) scale(1.1,0.95)"><rect x="0" y="0" width="9" height="2.02" fill="#ce1126"/><rect x="0" y="2" width="9" height="2.02" fill="#fff"/><rect x="0" y="4" width="9" height="2.02" fill="#111"/><polygon points="3.2,2.35 3.36,2.78 3.82,2.8 3.46,3.08 3.58,3.53 3.2,3.27 2.82,3.53 2.94,3.08 2.58,2.8 3.04,2.78" fill="#007a3d"/><polygon points="5.8,2.35 5.96,2.78 6.42,2.8 6.06,3.08 6.18,3.53 5.8,3.27 5.42,3.53 5.54,3.08 5.18,2.8 5.64,2.78" fill="#007a3d"/></g>
<text class="t" transform="translate(162,70.96) rotate(0.1) scale(0.92,1)" font-size="5.3">Syria</text>
<text class="t" transform="translate(238.9,70.96) rotate(0.1) scale(0.92,1)" font-size="5.3">Damascus</text>
<rect x="141.85" y="74.42" width="140.55" height="8.4" fill="url(#c3f1)"/>
<g transform="translate(145.7,75.77) scale(1.1,0.95)"><rect x="0" y="0" width="9" height="6" fill="#fe0000"/><rect x="0" y="0" width="4.5" height="3" fill="#000095"/><polygon points="2.25,0.5 2.5,1.16 3.2,1.19 2.65,1.63 2.84,2.31 2.25,1.92 1.66,2.31 1.85,1.63 1.3,1.19 2,1.16" fill="#fff"/><circle cx="2.25" cy="1.5" r="0.6" fill="#fff"/></g>
<text class="t" transform="translate(162,80.5) rotate(0.1) scale(0.92,1)" font-size="5.3">Taiwan</text>
<text class="t" transform="translate(238.9,80.5) rotate(0.1) scale(0.92,1)" font-size="5.3">Taipei</text>
<rect x="141.85" y="83.97" width="140.55" height="8.4" fill="url(#c3f1)"/>
<g transform="translate(145.7,85.32) scale(1.1,0.95)"><rect x="0" y="0" width="9" height="1.73" fill="#cc0000"/><rect x="0" y="1.71" width="9" height="2.59" fill="#fff"/><rect x="0" y="4.29" width="9" height="1.73" fill="#006600"/><polygon points="3.6,3.6 3.8,2.6 4.5,2.2 5.2,2.6 5.4,3.6" fill="#f8c300"/></g>
<text class="t" transform="translate(162,90.05) rotate(0.1) scale(0.92,1)" font-size="5.3">Tajikistan</text>
<text class="t" transform="translate(238.9,90.05) rotate(0.1) scale(0.92,1)" font-size="5.3">Dushanbe</text>
<rect x="141.85" y="93.52" width="140.55" height="8.4" fill="url(#c3f1)"/>
<g transform="translate(145.7,94.87) scale(1.1,0.95)"><rect x="0" y="0" width="9" height="1.02" fill="#a51931"/><rect x="0" y="1" width="9" height="1.02" fill="#f4f5f8"/><rect x="0" y="2" width="9" height="2.02" fill="#2d2a4a"/><rect x="0" y="4" width="9" height="1.02" fill="#f4f5f8"/><rect x="0" y="5" width="9" height="1.02" fill="#a51931"/></g>
<text class="t" transform="translate(162,99.6) rotate(0.1) scale(0.92,1)" font-size="5.3">Thailand</text>
<text class="t" transform="translate(238.9,99.6) rotate(0.1) scale(0.92,1)" font-size="5.3">Bangkok</text>
<rect x="141.85" y="103.07" width="140.55" height="8.4" fill="url(#c3f1)"/>
<g transform="translate(145.7,104.42) scale(1.1,0.95)"><rect x="0" y="0" width="9" height="6" fill="#00843d"/><rect x="1.2" y="0" width="1.7" height="6" fill="#d22630"/><rect x="1.6" y="0.5" width="0.9" height="0.8" fill="#fff"/><rect x="1.6" y="2" width="0.9" height="0.8" fill="#f0c040"/><rect x="1.6" y="3.5" width="0.9" height="0.8" fill="#fff"/><rect x="1.6" y="4.8" width="0.9" height="0.7" fill="#f0c040"/><circle cx="4.6" cy="1.6" r="0.9" fill="#fff"/><circle cx="5.03" cy="1.6" r="0.72" fill="#00843d"/></g>
<text class="t" transform="translate(162,109.15) rotate(0.1) scale(0.92,1)" font-size="5.3">Turkmenistan</text>
<text class="t" transform="translate(238.9,109.15) rotate(0.1) scale(0.92,1)" font-size="5.3">Ashgabat</text>
<rect x="141.85" y="112.62" width="140.55" height="8.4" fill="url(#c3f1)"/>
<g transform="translate(145.7,113.96) scale(1.1,0.95)"><rect x="0" y="0" width="9" height="2.02" fill="#00732f"/><rect x="0" y="2" width="9" height="2.02" fill="#fff"/><rect x="0" y="4" width="9" height="2.02" fill="#111"/><rect x="0" y="0" width="2.3" height="6" fill="#ff0000"/></g>
<text class="t" transform="translate(162,118.7) rotate(0.1) scale(0.92,1)" font-size="5.3">United Arab Emirates</text>
<text class="t" transform="translate(238.9,118.7) rotate(0.1) scale(0.92,1)" font-size="5.3">Abu Dhabi</text>
<rect x="141.85" y="122.16" width="140.55" height="8.4" fill="url(#c3f1)"/>
<g transform="translate(145.7,123.51) scale(1.1,0.95)"><rect x="0" y="0" width="9" height="1.94" fill="#0099b5"/><rect x="0" y="1.92" width="9" height="0.16" fill="#ce1126"/><rect x="0" y="2.06" width="9" height="1.89" fill="#fff"/><rect x="0" y="3.94" width="9" height="0.16" fill="#ce1126"/><rect x="0" y="4.08" width="9" height="1.94" fill="#1eb53a"/><circle cx="1.5" cy="1" r="0.7" fill="#fff"/><circle cx="1.84" cy="1" r="0.56" fill="#0099b5"/></g>
<text class="t" transform="translate(162,128.24) rotate(0.1) scale(0.92,1)" font-size="5.3">Uzbekistan</text>
<text class="t" transform="translate(238.9,128.24) rotate(0.1) scale(0.92,1)" font-size="5.3">Tashkent</text>
<rect x="141.85" y="131.71" width="140.55" height="8.4" fill="url(#c3f1)"/>
<g transform="translate(145.7,133.06) scale(1.1,0.95)"><rect x="0" y="0" width="9" height="6" fill="#da251d"/><polygon points="4.5,1.5 4.87,2.49 5.93,2.54 5.1,3.19 5.38,4.21 4.5,3.63 3.62,4.21 3.9,3.19 3.07,2.54 4.13,2.49" fill="#ffff00"/></g>
<text class="t" transform="translate(162,137.79) rotate(0.1) scale(0.92,1)" font-size="5.3">Vietnam</text>
<text class="t" transform="translate(238.9,137.79) rotate(0.1) scale(0.92,1)" font-size="5.3">Hanoi</text>
<rect x="141.85" y="141.26" width="140.55" height="8.4" fill="url(#c3f1)"/>
<g transform="translate(145.7,142.61) scale(1.1,0.95)"><rect x="0" y="0" width="9" height="2.02" fill="#ce1126"/><rect x="0" y="2" width="9" height="2.02" fill="#fff"/><rect x="0" y="4" width="9" height="2.02" fill="#111"/></g>
<text class="t" transform="translate(162,147.34) rotate(0.1) scale(0.92,1)" font-size="5.3">Yemen</text>
<text class="t" transform="translate(238.9,147.34) rotate(0.1) scale(0.92,1)" font-size="5.3">Sana'a</text>
<rect x="141.85" y="150.81" width="140.55" height="8.4" fill="url(#c3f2)"/>
<g transform="translate(145.7,152.16) scale(1.1,0.95)"><rect x="0" y="0" width="9" height="6" fill="#012169"/><rect x="0" y="0" width="4.5" height="3" fill="#012169"/><line x1="0" y1="0" x2="4.5" y2="3" stroke="#fff" stroke-width="0.7"/><line x1="0" y1="3" x2="4.5" y2="0" stroke="#fff" stroke-width="0.7"/><line x1="0" y1="0" x2="4.5" y2="3" stroke="#c8102e" stroke-width="0.28"/><line x1="0" y1="3" x2="4.5" y2="0" stroke="#c8102e" stroke-width="0.28"/><rect x="1.75" y="0" width="1" height="3" fill="#fff"/><rect x="0" y="1" width="4.5" height="1" fill="#fff"/><rect x="1.97" y="0" width="0.56" height="3" fill="#c8102e"/><rect x="0" y="1.22" width="4.5" height="0.56" fill="#c8102e"/><polygon points="5.7,1.4 7.7,1.4 7.7,3.4 6.7,4.7 5.7,3.4" fill="#fff"/><circle cx="6.7" cy="2.7" r="0.6" fill="#f90"/><polygon points="5.8,3.5 7.6,3.5 6.7,4.6" fill="#9cf"/></g>
<text class="t" transform="translate(162,156.89) rotate(0.1) scale(0.92,1)" font-size="5.3">Anguilla</text>
<text class="t" transform="translate(238.9,156.89) rotate(0.1) scale(0.92,1)" font-size="5.3">The Valley</text>
<rect x="141.85" y="160.36" width="140.55" height="8.4" fill="url(#c3f2)"/>
<g transform="translate(145.7,161.7) scale(1.1,0.95)"><rect x="0" y="0" width="9" height="6" fill="#ce1126"/><polygon points="0,0 9,0 4.5,6" fill="#111"/><polygon points="1.8,2.4 7.2,2.4 4.5,6" fill="#0072c6"/><polygon points="2.7,3.6 6.3,3.6 4.5,6" fill="#fff"/><polygon points="2.9,2.4 3.7,1.6 4.5,1 5.3,1.6 6.1,2.4" fill="#fcd116"/></g>
<text class="t" transform="translate(162,166.44) rotate(0.1) scale(0.92,1)" font-size="5.3">Antigua and Barbuda</text>
<text class="t" transform="translate(238.9,166.44) rotate(0.1) scale(0.92,1)" font-size="5.3">St. John's</text>
<rect x="141.85" y="169.9" width="140.55" height="8.4" fill="url(#c3f2)"/>
<g transform="translate(145.7,171.25) scale(1.1,0.95)"><rect x="0" y="0" width="9" height="6" fill="#418fde"/><rect x="0" y="3.9" width="9" height="0.4" fill="#ffd100"/><rect x="0" y="4.7" width="9" height="0.4" fill="#ffd100"/><polygon points="1.6,0.45 1.88,1.21 2.69,1.24 2.06,1.75 2.28,2.53 1.6,2.08 0.92,2.53 1.14,1.75 0.51,1.24 1.32,1.21" fill="#fff"/><polygon points="1.6,0.75 1.81,1.31 2.41,1.34 1.94,1.71 2.1,2.29 1.6,1.96 1.1,2.29 1.26,1.71 0.79,1.34 1.39,1.31" fill="#ef3340"/></g>
<text class="t" transform="translate(162,175.98) rotate(0.1) scale(0.92,1)" font-size="5.3">Aruba</text>
<text class="t" transform="translate(238.9,175.98) rotate(0.1) scale(0.92,1)" font-size="5.3">Oranjestad</text>
<rect x="141.85" y="179.45" width="140.55" height="8.4" fill="url(#c3f2)"/>
<g transform="translate(145.7,180.8) scale(1.1,0.95)"><rect x="0" y="0" width="9" height="2.02" fill="#00778b"/><rect x="0" y="2" width="9" height="2.02" fill="#ffc72c"/><rect x="0" y="4" width="9" height="2.02" fill="#00778b"/><polygon points="0,0 3.9,3 0,6" fill="#111"/></g>
<text class="t" transform="translate(162,185.53) rotate(0.1) scale(0.92,1)" font-size="5.3">Bahamas</text>
<text class="t" transform="translate(238.9,185.53) rotate(0.1) scale(0.92,1)" font-size="5.3">Nassau</text>
<rect x="141.85" y="189" width="140.55" height="8.4" fill="url(#c3f2)"/>
<g transform="translate(145.7,190.35) scale(1.1,0.95)"><rect x="0" y="0" width="3.02" height="6" fill="#00267f"/><rect x="3" y="0" width="3.02" height="6" fill="#ffc726"/><rect x="6" y="0" width="3.02" height="6" fill="#00267f"/><rect x="4.3" y="1.8" width="0.4" height="2.8" fill="#111"/><rect x="3.6" y="1.8" width="0.3" height="1.6" fill="#111"/><rect x="5.1" y="1.8" width="0.3" height="1.6" fill="#111"/><rect x="3.6" y="3.1" width="1.8" height="0.3" fill="#111"/></g>
<text class="t" transform="translate(162,195.08) rotate(0.1) scale(0.92,1)" font-size="5.3">Barbados</text>
<text class="t" transform="translate(238.9,195.08) rotate(0.1) scale(0.92,1)" font-size="5.3">Bridgetown</text>
<rect x="141.85" y="198.55" width="140.55" height="8.4" fill="url(#c3f2)"/>
<g transform="translate(145.7,199.9) scale(1.1,0.95)"><rect x="0" y="0" width="9" height="6" fill="#003f87"/><rect x="0" y="0" width="9" height="0.55" fill="#ce1126"/><rect x="0" y="5.45" width="9" height="0.55" fill="#ce1126"/><circle cx="4.5" cy="3" r="1.8" fill="#fff"/><circle cx="4.5" cy="3" r="1.6" fill="#4c9a4c"/><circle cx="4.5" cy="3" r="1.25" fill="#fff"/><rect x="3.9" y="2.4" width="1.2" height="1.3" fill="#b58a4a"/></g>
<text class="t" transform="translate(162,204.63) rotate(0.1) scale(0.92,1)" font-size="5.3">Belize</text>
<text class="t" transform="translate(238.9,204.63) rotate(0.1) scale(0.92,1)" font-size="5.3">Belmopan</text>
<rect x="141.85" y="208.09" width="140.55" height="8.4" fill="url(#c3f2)"/>
<g transform="translate(145.7,209.44) scale(1.1,0.95)"><rect x="0" y="0" width="9" height="6" fill="#cf142b"/><rect x="0" y="0" width="4.5" height="3" fill="#012169"/><line x1="0" y1="0" x2="4.5" y2="3" stroke="#fff" stroke-width="0.7"/><line x1="0" y1="3" x2="4.5" y2="0" stroke="#fff" stroke-width="0.7"/><line x1="0" y1="0" x2="4.5" y2="3" stroke="#c8102e" stroke-width="0.28"/><line x1="0" y1="3" x2="4.5" y2="0" stroke="#c8102e" stroke-width="0.28"/><rect x="1.75" y="0" width="1" height="3" fill="#fff"/><rect x="0" y="1" width="4.5" height="1" fill="#fff"/><rect x="1.97" y="0" width="0.56" height="3" fill="#c8102e"/><rect x="0" y="1.22" width="4.5" height="0.56" fill="#c8102e"/><polygon points="5.8,1.6 7.6,1.6 7.6,3.4 6.7,4.5 5.8,3.4" fill="#fff"/><polygon points="6,3.3 7.4,3.3 6.7,4.2" fill="#2f8f46"/><rect x="6.3" y="2" width="0.8" height="1.2" fill="#cf142b"/></g>
<text class="t" transform="translate(162,214.18) rotate(0.1) scale(0.92,1)" font-size="5.3">Bermuda</text>
<text class="t" transform="translate(238.9,214.18) rotate(0.1) scale(0.92,1)" font-size="5.3">Hamilton</text>
<rect x="141.85" y="217.64" width="140.55" height="8.4" fill="url(#c3f2)"/>
<g transform="translate(145.7,218.99) scale(1.1,0.95)"><rect x="0" y="0" width="9" height="6" fill="#012169"/><rect x="0" y="0" width="4.5" height="3" fill="#012169"/><line x1="0" y1="0" x2="4.5" y2="3" stroke="#fff" stroke-width="0.7"/><line x1="0" y1="3" x2="4.5" y2="0" stroke="#fff" stroke-width="0.7"/><line x1="0" y1="0" x2="4.5" y2="3" stroke="#c8102e" stroke-width="0.28"/><line x1="0" y1="3" x2="4.5" y2="0" stroke="#c8102e" stroke-width="0.28"/><rect x="1.75" y="0" width="1" height="3" fill="#fff"/><rect x="0" y="1" width="4.5" height="1" fill="#fff"/><rect x="1.97" y="0" width="0.56" height="3" fill="#c8102e"/><rect x="0" y="1.22" width="4.5" height="0.56" fill="#c8102e"/><polygon points="5.8,1.3 7.6,1.3 7.6,3.3 6.7,4.4 5.8,3.3" fill="#006129"/><rect x="6.45" y="1.7" width="0.5" height="2" fill="#fff"/><rect x="5.9" y="4.6" width="1.6" height="0.35" fill="#f9dd16"/></g>
<text class="t" transform="translate(162,223.72) rotate(0.1) scale(0.92,1)" font-size="5.3">British Virgin Islands</text>
<text class="t" transform="translate(238.9,223.72) rotate(0.1) scale(0.92,1)" font-size="5.3">Road Town</text>
<rect x="141.85" y="227.19" width="140.55" height="8.4" fill="url(#c3f2)"/>
<g transform="translate(145.7,228.54) scale(1.1,0.95)"><rect x="0" y="0" width="2.27" height="6" fill="#ff0000"/><rect x="2.25" y="0" width="4.52" height="6" fill="#fff"/><rect x="6.75" y="0" width="2.27" height="6" fill="#ff0000"/><polygon points="4.5,1 5,2 5.7,1.8 5.5,2.9 6.2,3.2 5.1,3.9 4.65,3.8 4.65,5 4.35,5 4.35,3.8 3.9,3.9 2.8,3.2 3.5,2.9 3.3,1.8 4,2" fill="#ff0000"/></g>
<text class="t" transform="translate(162,233.27) rotate(0.1) scale(0.92,1)" font-size="5.3">Canada</text>
<text class="t" transform="translate(238.9,233.27) rotate(0.1) scale(0.92,1)" font-size="5.3">Ottawa</text>
<rect x="141.85" y="236.74" width="140.55" height="8.4" fill="url(#c3f2)"/>
<g transform="translate(145.7,238.09) scale(1.1,0.95)"><rect x="0" y="0" width="9" height="6" fill="#012169"/><rect x="0" y="0" width="4.5" height="3" fill="#012169"/><line x1="0" y1="0" x2="4.5" y2="3" stroke="#fff" stroke-width="0.7"/><line x1="0" y1="3" x2="4.5" y2="0" stroke="#fff" stroke-width="0.7"/><line x1="0" y1="0" x2="4.5" y2="3" stroke="#c8102e" stroke-width="0.28"/><line x1="0" y1="3" x2="4.5" y2="0" stroke="#c8102e" stroke-width="0.28"/><rect x="1.75" y="0" width="1" height="3" fill="#fff"/><rect x="0" y="1" width="4.5" height="1" fill="#fff"/><rect x="1.97" y="0" width="0.56" height="3" fill="#c8102e"/><rect x="0" y="1.22" width="4.5" height="0.56" fill="#c8102e"/><circle cx="6.7" cy="3.1" r="1.15" fill="#fff"/><rect x="6.1" y="2.5" width="1.2" height="1.2" fill="#c33"/><rect x="6.1" y="3" width="1.2" height="0.3" fill="#39c"/><circle cx="6.7" cy="2" r="0.35" fill="#2e7d32"/></g>
<text class="t" transform="translate(162,242.82) rotate(0.1) scale(0.92,1)" font-size="5.3">Cayman Islands</text>
<text class="t" transform="translate(238.9,242.82) rotate(0.1) scale(0.92,1)" font-size="5.3">George Town</text>
<rect x="141.85" y="246.29" width="140.55" height="8.4" fill="url(#c3f2)"/>
<g transform="translate(145.7,247.64) scale(1.1,0.95)"><rect x="0" y="0" width="9" height="1.02" fill="#002b7f"/><rect x="0" y="1" width="9" height="1.02" fill="#fff"/><rect x="0" y="2" width="9" height="2.02" fill="#ce1126"/><rect x="0" y="4" width="9" height="1.02" fill="#fff"/><rect x="0" y="5" width="9" height="1.02" fill="#002b7f"/></g>
<text class="t" transform="translate(162,252.37) rotate(0.1) scale(0.92,1)" font-size="5.3">Costa Rica</text>
<text class="t" transform="translate(238.9,252.37) rotate(0.1) scale(0.92,1)" font-size="5.3">San José</text>
<rect x="141.85" y="255.84" width="140.55" height="8.4" fill="url(#c3f2)"/>
<g transform="translate(145.7,257.18) scale(1.1,0.95)"><rect x="0" y="0" width="9" height="1.22" fill="#002a8f"/><rect x="0" y="1.2" width="9" height="1.22" fill="#fff"/><rect x="0" y="2.4" width="9" height="1.22" fill="#002a8f"/><rect x="0" y="3.6" width="9" height="1.22" fill="#fff"/><rect x="0" y="4.8" width="9" height="1.22" fill="#002a8f"/><polygon points="0,0 4.2,3 0,6" fill="#cf142b"/><polygon points="1.4,2.25 1.59,2.75 2.11,2.77 1.7,3.1 1.84,3.61 1.4,3.31 0.96,3.61 1.1,3.1 0.69,2.77 1.21,2.75" fill="#fff"/></g>
<text class="t" transform="translate(162,261.92) rotate(0.1) scale(0.92,1)" font-size="5.3">Cuba</text>
<text class="t" transform="translate(238.9,261.92) rotate(0.1) scale(0.92,1)" font-size="5.3">Havana</text>
<rect x="141.85" y="265.38" width="140.55" height="8.4" fill="url(#c3f2)"/>
<g transform="translate(145.7,266.73) scale(1.1,0.95)"><rect x="0" y="0" width="9" height="6" fill="#002b7f"/><rect x="0" y="3.75" width="9" height="0.75" fill="#f9e814"/><polygon points="1.3,0.5 1.42,0.83 1.78,0.85 1.5,1.06 1.59,1.4 1.3,1.21 1.01,1.4 1.1,1.06 0.82,0.85 1.18,0.83" fill="#fff"/><polygon points="2.4,1.3 2.57,1.76 3.07,1.78 2.68,2.09 2.81,2.57 2.4,2.29 1.99,2.57 2.12,2.09 1.73,1.78 2.23,1.76" fill="#fff"/></g>
<text class="t" transform="translate(162,271.46) rotate(0.1) scale(0.92,1)" font-size="5.3">Curaçao</text>
<text class="t" transform="translate(238.9,271.46) rotate(0.1) scale(0.92,1)" font-size="5.3">Willemstad</text>
<rect x="141.85" y="274.93" width="140.55" height="8.4" fill="url(#c3f2)"/>
<g transform="translate(145.7,276.28) scale(1.1,0.95)"><rect x="0" y="0" width="9" height="6" fill="#006b3f"/><rect x="3.6" y="0" width="0.6" height="6" fill="#fcd116"/><rect x="4.2" y="0" width="0.6" height="6" fill="#111"/><rect x="4.8" y="0" width="0.6" height="6" fill="#fff"/><rect x="0" y="2.1" width="9" height="0.6" fill="#fcd116"/><rect x="0" y="2.7" width="9" height="0.6" fill="#111"/><rect x="0" y="3.3" width="9" height="0.6" fill="#fff"/><circle cx="4.5" cy="3" r="1.5" fill="#d41c30"/><circle cx="4.5" cy="3.1" r="0.6" fill="#5b3a8c"/></g>
<text class="t" transform="translate(162,281.01) rotate(0.1) scale(0.92,1)" font-size="5.3">Dominica</text>
<text class="t" transform="translate(238.9,281.01) rotate(0.1) scale(0.92,1)" font-size="5.3">Roseau</text>
<rect x="141.85" y="284.48" width="140.55" height="8.4" fill="url(#c3f2)"/>
<g transform="translate(145.7,285.83) scale(1.1,0.95)"><rect x="0" y="0" width="9" height="6" fill="#fff"/><rect x="0" y="0" width="3.9" height="2.4" fill="#002d62"/><rect x="5.1" y="0" width="3.9" height="2.4" fill="#ce1126"/><rect x="0" y="3.6" width="3.9" height="2.4" fill="#ce1126"/><rect x="5.1" y="3.6" width="3.9" height="2.4" fill="#002d62"/><rect x="4.2" y="2.6" width="0.6" height="0.8" fill="#4c8a4c"/></g>
<text class="t" transform="translate(162,290.56) rotate(0.1) scale(0.92,1)" font-size="5.3">Dominican Republic</text>
<text class="t" transform="translate(238.9,290.56) rotate(0.1) scale(0.92,1)" font-size="5.3">Santo Domingo</text>
<rect x="141.85" y="294.03" width="140.55" height="8.4" fill="url(#c3f2)"/>
<g transform="translate(145.7,295.38) scale(1.1,0.95)"><rect x="0" y="0" width="9" height="2.02" fill="#0f47af"/><rect x="0" y="2" width="9" height="2.02" fill="#fff"/><rect x="0" y="4" width="9" height="2.02" fill="#0f47af"/><circle cx="4.5" cy="3" r="0.7" fill="#d4b04a"/><circle cx="4.5" cy="3" r="0.4" fill="#4d9a6a"/></g>
<text class="t" transform="translate(162,300.11) rotate(0.1) scale(0.92,1)" font-size="5.3">El Salvador</text>
<text class="t" transform="translate(238.9,300.11) rotate(0.1) scale(0.92,1)" font-size="5.3">San Salvador</text>
<rect x="141.85" y="303.57" width="140.55" height="8.4" fill="url(#c3f2)"/>
<g transform="translate(145.7,304.92) scale(1.1,0.95)"><rect x="0" y="0" width="9" height="3.02" fill="#fff"/><rect x="0" y="3" width="9" height="3.02" fill="#d00c33"/><path d="M1.3 3 A1.9 1.9 0 0 1 5.1 3Z" fill="#d00c33"/><path d="M1.3 3 A1.9 1.9 0 0 0 5.1 3Z" fill="#fff"/></g>
<text class="t" transform="translate(162,309.66) rotate(0.1) scale(0.92,1)" font-size="5.3">Greenland</text>
<text class="t" transform="translate(238.9,309.66) rotate(0.1) scale(0.92,1)" font-size="5.3">Nuuk</text>
<rect x="141.85" y="313.12" width="140.55" height="8.4" fill="url(#c3f2)"/>
<g transform="translate(145.7,314.47) scale(1.1,0.95)"><rect x="0" y="0" width="9" height="6" fill="#ce1126"/><polygon points="0.8,0.8 8.2,0.8 4.5,3" fill="#fcd116"/><polygon points="0.8,5.2 8.2,5.2 4.5,3" fill="#fcd116"/><polygon points="0.8,0.8 0.8,5.2 4.5,3" fill="#007a5e"/><polygon points="8.2,0.8 8.2,5.2 4.5,3" fill="#007a5e"/><circle cx="4.5" cy="3" r="1" fill="#ce1126"/><polygon points="4.5,2.2 4.7,2.73 5.26,2.75 4.82,3.1 4.97,3.65 4.5,3.34 4.03,3.65 4.18,3.1 3.74,2.75 4.3,2.73" fill="#fcd116"/><polygon points="2.2,0.12 2.27,0.32 2.49,0.33 2.32,0.46 2.38,0.66 2.2,0.55 2.02,0.66 2.08,0.46 1.91,0.33 2.13,0.32" fill="#fcd116"/><polygon points="4.5,0.12 4.57,0.32 4.79,0.33 4.62,0.46 4.68,0.66 4.5,0.55 4.32,0.66 4.38,0.46 4.21,0.33 4.43,0.32" fill="#fcd116"/><polygon points="6.8,0.12 6.87,0.32 7.09,0.33 6.92,0.46 6.98,0.66 6.8,0.55 6.62,0.66 6.68,0.46 6.51,0.33 6.73,0.32" fill="#fcd116"/><polygon points="2.2,5.3 2.27,5.5 2.49,5.51 2.32,5.64 2.38,5.84 2.2,5.73 2.02,5.84 2.08,5.64 1.91,5.51 2.13,5.5" fill="#fcd116"/><polygon points="4.5,5.3 4.57,5.5 4.79,5.51 4.62,5.64 4.68,5.84 4.5,5.73 4.32,5.84 4.38,5.64 4.21,5.51 4.43,5.5" fill="#fcd116"/><polygon points="6.8,5.3 6.87,5.5 7.09,5.51 6.92,5.64 6.98,5.84 6.8,5.73 6.62,5.84 6.68,5.64 6.51,5.51 6.73,5.5" fill="#fcd116"/></g>
<text class="t" transform="translate(162,319.2) rotate(0.1) scale(0.92,1)" font-size="5.3">Grenada</text>
<text class="t" transform="translate(238.9,319.2) rotate(0.1) scale(0.92,1)" font-size="5.3">St. George's</text>
<rect x="141.85" y="322.67" width="140.55" height="8.4" fill="url(#c3f2)"/>
<g transform="translate(145.7,324.02) scale(1.1,0.95)"><rect x="0" y="0" width="3.02" height="6" fill="#4997d0"/><rect x="3" y="0" width="3.02" height="6" fill="#fff"/><rect x="6" y="0" width="3.02" height="6" fill="#4997d0"/><circle cx="4.5" cy="3" r="0.9" fill="#6a9a4a"/><circle cx="4.5" cy="3" r="0.55" fill="#fff"/></g>
<text class="t" transform="translate(162,328.75) rotate(0.1) scale(0.92,1)" font-size="5.3">Guatemala</text>
<text class="t" transform="translate(238.9,328.75) rotate(0.1) scale(0.92,1)" font-size="5.3">Guatemala City</text>
<rect x="141.85" y="332.22" width="140.55" height="8.4" fill="url(#c3f2)"/>
<g transform="translate(145.7,333.57) scale(1.1,0.95)"><rect x="0" y="0" width="9" height="3.02" fill="#00209f"/><rect x="0" y="3" width="9" height="3.02" fill="#d21034"/><rect x="3.4" y="2" width="2.2" height="2" fill="#fff"/><rect x="3.9" y="2.5" width="1.2" height="1.2" fill="#3a8a3a"/></g>
<text class="t" transform="translate(162,338.3) rotate(0.1) scale(0.92,1)" font-size="5.3">Haiti</text>
<text class="t" transform="translate(238.9,338.3) rotate(0.1) scale(0.92,1)" font-size="5.3">Port-au-Prince</text>
<rect x="141.85" y="341.77" width="140.55" height="8.4" fill="url(#c3f2)"/>
<g transform="translate(145.7,343.12) scale(1.1,0.95)"><rect x="0" y="0" width="9" height="2.02" fill="#0073cf"/><rect x="0" y="2" width="9" height="2.02" fill="#fff"/><rect x="0" y="4" width="9" height="2.02" fill="#0073cf"/><polygon points="4.5,2.7 4.57,2.9 4.79,2.91 4.62,3.04 4.68,3.24 4.5,3.13 4.32,3.24 4.38,3.04 4.21,2.91 4.43,2.9" fill="#0073cf"/><polygon points="3.6,2.25 3.67,2.45 3.89,2.46 3.72,2.59 3.78,2.79 3.6,2.68 3.42,2.79 3.48,2.59 3.31,2.46 3.53,2.45" fill="#0073cf"/><polygon points="5.4,2.25 5.47,2.45 5.69,2.46 5.52,2.59 5.58,2.79 5.4,2.68 5.22,2.79 5.28,2.59 5.11,2.46 5.33,2.45" fill="#0073cf"/><polygon points="3.6,3.15 3.67,3.35 3.89,3.36 3.72,3.49 3.78,3.69 3.6,3.58 3.42,3.69 3.48,3.49 3.31,3.36 3.53,3.35" fill="#0073cf"/><polygon points="5.4,3.15 5.47,3.35 5.69,3.36 5.52,3.49 5.58,3.69 5.4,3.58 5.22,3.69 5.28,3.49 5.11,3.36 5.33,3.35" fill="#0073cf"/></g>
<text class="t" transform="translate(162,347.85) rotate(0.1) scale(0.92,1)" font-size="5.3">Honduras</text>
<text class="t" transform="translate(238.9,347.85) rotate(0.1) scale(0.92,1)" font-size="5.3">Tegucigalpa</text>
<rect x="141.85" y="351.31" width="140.55" height="8.4" fill="url(#c3f2)"/>
<g transform="translate(145.7,352.66) scale(1.1,0.95)"><polygon points="0,0 9,0 4.5,3" fill="#009b3a"/><polygon points="0,6 9,6 4.5,3" fill="#009b3a"/><polygon points="0,0 0,6 4.5,3" fill="#111"/><polygon points="9,0 9,6 4.5,3" fill="#111"/><line x1="0" y1="0" x2="9" y2="6" stroke="#fed100" stroke-width="1"/><line x1="0" y1="6" x2="9" y2="0" stroke="#fed100" stroke-width="1"/></g>
<text class="t" transform="translate(162,357.4) rotate(0.1) scale(0.92,1)" font-size="5.3">Jamaica</text>
<text class="t" transform="translate(238.9,357.4) rotate(0.1) scale(0.92,1)" font-size="5.3">Kingston</text>
<rect x="141.85" y="360.86" width="140.55" height="8.4" fill="url(#c3f2)"/>
<g transform="translate(145.7,362.21) scale(1.1,0.95)"><rect x="0" y="0" width="3.02" height="6" fill="#006847"/><rect x="3" y="0" width="3.02" height="6" fill="#fff"/><rect x="6" y="0" width="3.02" height="6" fill="#ce1126"/><circle cx="4.5" cy="3" r="0.75" fill="#8a6a3a"/></g>
<text class="t" transform="translate(162,366.94) rotate(0.1) scale(0.92,1)" font-size="5.3">Mexico</text>
<text class="t" transform="translate(238.9,366.94) rotate(0.1) scale(0.92,1)" font-size="5.3">Mexico City</text>
<rect x="141.85" y="370.41" width="140.55" height="8.4" fill="url(#c3f2)"/>
<g transform="translate(145.7,371.76) scale(1.1,0.95)"><rect x="0" y="0" width="9" height="6" fill="#012169"/><rect x="0" y="0" width="4.5" height="3" fill="#012169"/><line x1="0" y1="0" x2="4.5" y2="3" stroke="#fff" stroke-width="0.7"/><line x1="0" y1="3" x2="4.5" y2="0" stroke="#fff" stroke-width="0.7"/><line x1="0" y1="0" x2="4.5" y2="3" stroke="#c8102e" stroke-width="0.28"/><line x1="0" y1="3" x2="4.5" y2="0" stroke="#c8102e" stroke-width="0.28"/><rect x="1.75" y="0" width="1" height="3" fill="#fff"/><rect x="0" y="1" width="4.5" height="1" fill="#fff"/><rect x="1.97" y="0" width="0.56" height="3" fill="#c8102e"/><rect x="0" y="1.22" width="4.5" height="0.56" fill="#c8102e"/><polygon points="5.8,1.3 7.6,1.3 7.6,3.3 6.7,4.5 5.8,3.3" fill="#6ab2e7"/><polygon points="5.8,3 7.6,3 7.6,3.3 6.7,4.5 5.8,3.3" fill="#7a4a21"/><rect x="6.4" y="1.6" width="0.3" height="2.2" fill="#111"/><rect x="6" y="2.1" width="1.1" height="0.3" fill="#111"/><circle cx="7.1" cy="2.8" r="0.45" fill="#2e9d5a"/></g>
<text class="t" transform="translate(162,376.49) rotate(0.1) scale(0.92,1)" font-size="5.3">Montserrat</text>
<text class="t" transform="translate(238.9,376.49) rotate(0.1) scale(0.92,1)" font-size="5.3">Plymouth</text>
<rect x="141.85" y="379.96" width="140.55" height="8.4" fill="url(#c3f2)"/>
<g transform="translate(145.7,381.31) scale(1.1,0.95)"><rect x="0" y="0" width="9" height="2.02" fill="#0067c6"/><rect x="0" y="2" width="9" height="2.02" fill="#fff"/><rect x="0" y="4" width="9" height="2.02" fill="#0067c6"/><polygon points="4.5,2.3 5.3,3.6 3.7,3.6" fill="#c9a23f"/><polygon points="4.5,2.7 5,3.5 4,3.5" fill="#6ab2e7"/></g>
<text class="t" transform="translate(162,386.04) rotate(0.1) scale(0.92,1)" font-size="5.3">Nicaragua</text>
<text class="t" transform="translate(238.9,386.04) rotate(0.1) scale(0.92,1)" font-size="5.3">Managua</text>
<rect x="141.85" y="389.51" width="140.55" height="8.4" fill="url(#c3f2)"/>
<g transform="translate(145.7,390.86) scale(1.1,0.95)"><rect x="0" y="0" width="9" height="6" fill="#fff"/><rect x="4.5" y="0" width="4.5" height="3" fill="#d21034"/><rect x="0" y="3" width="4.5" height="3" fill="#005293"/><polygon points="2.25,0.7 2.45,1.23 3.01,1.25 2.57,1.6 2.72,2.15 2.25,1.84 1.78,2.15 1.93,1.6 1.49,1.25 2.05,1.23" fill="#005293"/><polygon points="6.75,3.7 6.95,4.23 7.51,4.25 7.07,4.6 7.22,5.15 6.75,4.84 6.28,5.15 6.43,4.6 5.99,4.25 6.55,4.23" fill="#d21034"/></g>
<text class="t" transform="translate(162,395.59) rotate(0.1) scale(0.92,1)" font-size="5.3">Panama</text>
<text class="t" transform="translate(238.9,395.59) rotate(0.1) scale(0.92,1)" font-size="5.3">Panama City</text>
<rect x="141.85" y="399.06" width="140.55" height="8.4" fill="url(#c3f2)"/>
<g transform="translate(145.7,400.4) scale(1.1,0.95)"><rect x="0" y="0" width="9" height="1.22" fill="#ed0000"/><rect x="0" y="1.2" width="9" height="1.22" fill="#fff"/><rect x="0" y="2.4" width="9" height="1.22" fill="#ed0000"/><rect x="0" y="3.6" width="9" height="1.22" fill="#fff"/><rect x="0" y="4.8" width="9" height="1.22" fill="#ed0000"/><polygon points="0,0 4.2,3 0,6" fill="#0050f0"/><polygon points="1.4,2.25 1.59,2.75 2.11,2.77 1.7,3.1 1.84,3.61 1.4,3.31 0.96,3.61 1.1,3.1 0.69,2.77 1.21,2.75" fill="#fff"/></g>
<text class="t" transform="translate(162,405.14) rotate(0.1) scale(0.92,1)" font-size="5.3">Puerto Rico</text>
<text class="t" transform="translate(238.9,405.14) rotate(0.1) scale(0.92,1)" font-size="5.3">San Juan</text>
<rect x="141.85" y="408.6" width="140.55" height="8.4" fill="url(#c3f2)"/>
<g transform="translate(145.7,409.95) scale(1.1,0.95)"><polygon points="0,0 9,0 0,6" fill="#009e49"/><polygon points="9,0 9,6 0,6" fill="#ce1126"/><line x1="0" y1="6" x2="9" y2="0" stroke="#fcd116" stroke-width="2.9"/><line x1="0" y1="6" x2="9" y2="0" stroke="#111" stroke-width="2.1"/><polygon points="3.3,3.25 3.44,3.61 3.82,3.63 3.52,3.87 3.62,4.24 3.3,4.03 2.98,4.24 3.08,3.87 2.78,3.63 3.16,3.61" fill="#fff"/><polygon points="5.7,1.65 5.84,2.01 6.22,2.03 5.92,2.27 6.02,2.64 5.7,2.43 5.38,2.64 5.48,2.27 5.18,2.03 5.56,2.01" fill="#fff"/></g>
<text class="t" transform="translate(162,414.68) rotate(0.1) scale(0.92,1)" font-size="5.3">Saint Kitts and Nevis</text>
<text class="t" transform="translate(238.9,414.68) rotate(0.1) scale(0.92,1)" font-size="5.3">Basseterre</text>
<rect x="141.85" y="418.15" width="140.55" height="8.4" fill="url(#c3f2)"/>
<g transform="translate(145.7,419.5) scale(1.1,0.95)"><rect x="0" y="0" width="9" height="6" fill="#65cfff"/><polygon points="4.5,0.7 6.6,5.3 2.4,5.3" fill="#fff"/><polygon points="4.5,1.3 6.2,5.3 2.8,5.3" fill="#111"/><polygon points="4.5,3.2 6.6,5.3 2.4,5.3" fill="#fcd116"/></g>
<text class="t" transform="translate(162,424.23) rotate(0.1) scale(0.92,1)" font-size="5.3">Saint Lucia</text>
<text class="t" transform="translate(238.9,424.23) rotate(0.1) scale(0.92,1)" font-size="5.3">Castries</text>
<rect x="141.85" y="427.7" width="140.55" height="8.4" fill="url(#c3f2)"/>
<g transform="translate(145.7,429.05) scale(1.1,0.95)"><rect x="0" y="0" width="2.27" height="6" fill="#0072c6"/><rect x="2.25" y="0" width="4.52" height="6" fill="#fcd116"/><rect x="6.75" y="0" width="2.27" height="6" fill="#009e60"/><polygon points="3.6,1.7 4.15,2.6 3.6,3.5 3.05,2.6" fill="#009e60"/><polygon points="5.4,1.7 5.95,2.6 5.4,3.5 4.85,2.6" fill="#009e60"/><polygon points="4.5,3.1 5.05,4 4.5,4.9 3.95,4" fill="#009e60"/></g>
<text class="t" transform="translate(162,433.78) rotate(0.1) scale(0.92,1)" font-size="5.3">Saint Vincent and the Grenadines</text>
<text class="t" transform="translate(238.9,433.78) rotate(0.1) scale(0.92,1)" font-size="5.3">Kingstown</text>
<rect x="141.85" y="437.25" width="140.55" height="8.4" fill="url(#c3f2)"/>
<g transform="translate(145.7,438.6) scale(1.1,0.95)"><rect x="0" y="0" width="9" height="3.02" fill="#dc171d"/><rect x="0" y="3" width="9" height="3.02" fill="#012a87"/><polygon points="0,0 4.5,3 0,6" fill="#fff"/><polygon points="0.7,2.2 2.3,2.2 2.3,3.3 1.5,4.1 0.7,3.3" fill="#c33"/><polygon points="0.95,2.45 2.05,2.45 2.05,3.2 1.5,3.75 0.95,3.2" fill="#6ab2e7"/><circle cx="1.5" cy="1.9" r="0.35" fill="#f9dd16"/></g>
<text class="t" transform="translate(162,443.33) rotate(0.1) scale(0.92,1)" font-size="5.3">Sint Maarten</text>
<text class="t" transform="translate(238.9,443.33) rotate(0.1) scale(0.92,1)" font-size="5.3">Philipsburg</text>
<rect x="141.85" y="446.8" width="140.55" height="8.4" fill="url(#c3f2)"/>
<g transform="translate(145.7,448.14) scale(1.1,0.95)"><rect x="0" y="0" width="9" height="6" fill="#ce1126"/><polygon points="0,0 3.4,0 9,6 5.6,6" fill="#fff"/><polygon points="0.6,0 2.8,0 8.4,6 6.2,6" fill="#111"/></g>
<text class="t" transform="translate(162,452.88) rotate(0.1) scale(0.92,1)" font-size="5.3">Trinidad and Tobago</text>
<text class="t" transform="translate(238.9,452.88) rotate(0.1) scale(0.92,1)" font-size="5.3">Port of Spain</text>
<rect x="141.85" y="456.34" width="140.55" height="8.4" fill="url(#c3f2)"/>
<g transform="translate(145.7,457.69) scale(1.1,0.95)"><rect x="0" y="0" width="9" height="6" fill="#012169"/><rect x="0" y="0" width="4.5" height="3" fill="#012169"/><line x1="0" y1="0" x2="4.5" y2="3" stroke="#fff" stroke-width="0.7"/><line x1="0" y1="3" x2="4.5" y2="0" stroke="#fff" stroke-width="0.7"/><line x1="0" y1="0" x2="4.5" y2="3" stroke="#c8102e" stroke-width="0.28"/><line x1="0" y1="3" x2="4.5" y2="0" stroke="#c8102e" stroke-width="0.28"/><rect x="1.75" y="0" width="1" height="3" fill="#fff"/><rect x="0" y="1" width="4.5" height="1" fill="#fff"/><rect x="1.97" y="0" width="0.56" height="3" fill="#c8102e"/><rect x="0" y="1.22" width="4.5" height="0.56" fill="#c8102e"/><polygon points="5.8,1.3 7.6,1.3 7.6,3.3 6.7,4.5 5.8,3.3" fill="#fcd116"/><circle cx="6.3" cy="2.2" r="0.4" fill="#e58a8a"/><circle cx="7.1" cy="2.2" r="0.4" fill="#c33"/><rect x="6.5" y="2.9" width="0.4" height="1" fill="#2e9d5a"/></g>
<text class="t" transform="translate(162,462.42) rotate(0.1) scale(0.92,1)" font-size="5.3">Turks and Caicos Islands</text>
<text class="t" transform="translate(238.9,462.42) rotate(0.1) scale(0.92,1)" font-size="5.3">Cockburn Town</text>
<rect x="141.85" y="465.89" width="140.55" height="8.4" fill="url(#c3f2)"/>
<g transform="translate(145.7,467.24) scale(1.1,0.95)"><rect x="0" y="0" width="9" height="0.48" fill="#b22234"/><rect x="0" y="0.46" width="9" height="0.48" fill="#fff"/><rect x="0" y="0.92" width="9" height="0.48" fill="#b22234"/><rect x="0" y="1.38" width="9" height="0.48" fill="#fff"/><rect x="0" y="1.85" width="9" height="0.48" fill="#b22234"/><rect x="0" y="2.31" width="9" height="0.48" fill="#fff"/><rect x="0" y="2.77" width="9" height="0.48" fill="#b22234"/><rect x="0" y="3.23" width="9" height="0.48" fill="#fff"/><rect x="0" y="3.69" width="9" height="0.48" fill="#b22234"/><rect x="0" y="4.15" width="9" height="0.48" fill="#fff"/><rect x="0" y="4.62" width="9" height="0.48" fill="#b22234"/><rect x="0" y="5.08" width="9" height="0.48" fill="#fff"/><rect x="0" y="5.54" width="9" height="0.48" fill="#b22234"/><rect x="0" y="0" width="4" height="3.23" fill="#3c3b6e"/><circle cx="0.5" cy="0.5" r="0.16" fill="#fff"/><circle cx="0.5" cy="1.25" r="0.16" fill="#fff"/><circle cx="0.5" cy="2" r="0.16" fill="#fff"/><circle cx="0.5" cy="2.75" r="0.16" fill="#fff"/><circle cx="1.25" cy="0.5" r="0.16" fill="#fff"/><circle cx="1.25" cy="1.25" r="0.16" fill="#fff"/><circle cx="1.25" cy="2" r="0.16" fill="#fff"/><circle cx="1.25" cy="2.75" r="0.16" fill="#fff"/><circle cx="2" cy="0.5" r="0.16" fill="#fff"/><circle cx="2" cy="1.25" r="0.16" fill="#fff"/><circle cx="2" cy="2" r="0.16" fill="#fff"/><circle cx="2" cy="2.75" r="0.16" fill="#fff"/><circle cx="2.75" cy="0.5" r="0.16" fill="#fff"/><circle cx="2.75" cy="1.25" r="0.16" fill="#fff"/><circle cx="2.75" cy="2" r="0.16" fill="#fff"/><circle cx="2.75" cy="2.75" r="0.16" fill="#fff"/><circle cx="3.5" cy="0.5" r="0.16" fill="#fff"/><circle cx="3.5" cy="1.25" r="0.16" fill="#fff"/><circle cx="3.5" cy="2" r="0.16" fill="#fff"/><circle cx="3.5" cy="2.75" r="0.16" fill="#fff"/></g>
<text class="t" transform="translate(162,471.97) rotate(0.1) scale(0.92,1)" font-size="5.3">United States</text>
<text class="t" transform="translate(238.9,471.97) rotate(0.1) scale(0.92,1)" font-size="5.3">Washington, D.C.</text>
<rect x="0.3" y="0.3" width="282.8" height="474.3" fill="none" stroke="#1a1a1a" stroke-opacity="0.55" stroke-width="0.6"/>
</g></svg></div>
</body></html>
